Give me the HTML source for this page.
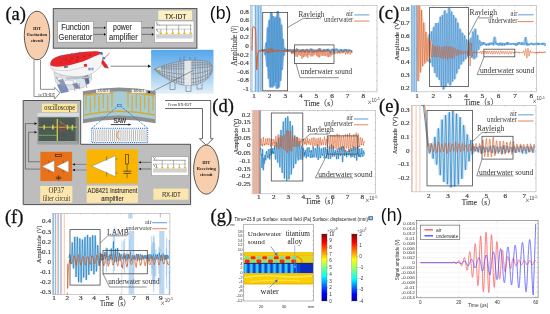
<!DOCTYPE html>
<html><head><meta charset="utf-8"><title>Figure</title><style>html,body{margin:0;padding:0;background:#fff;width:550px;height:314px;overflow:hidden}svg{display:block}</style></head><body>
<svg width="550" height="314" viewBox="0 0 550 314">
<rect x="0" y="0" width="550" height="314" fill="#ffffff" stroke="none" stroke-width="1" />
<text x="5.4" y="19.7" font-size="18.5" font-family="'Liberation Serif','Noto Serif CJK SC',serif" text-anchor="start" fill="#111" stroke="#111" stroke-width="0.3">(a)</text>
<ellipse cx="37" cy="35.5" rx="12.7" ry="24.3" fill="#f8cfae" stroke="#333" stroke-width="0.8"/>
<text x="37" y="30" font-size="4.6" font-family="'Liberation Serif','Noto Serif CJK SC',serif" text-anchor="middle" fill="#222" font-weight="bold">IDT</text>
<text x="37" y="36.1" font-size="4.6" font-family="'Liberation Serif','Noto Serif CJK SC',serif" text-anchor="middle" fill="#222" font-weight="bold">Excitation</text>
<text x="37" y="42" font-size="4.6" font-family="'Liberation Serif','Noto Serif CJK SC',serif" text-anchor="middle" fill="#222" font-weight="bold">circuit</text>
<rect x="53.3" y="8.6" width="143.6" height="39.6" fill="#bdbdbd" stroke="#505050" stroke-width="1.0" />
<rect x="57.5" y="21.3" width="36" height="20.9" fill="#ffffff" stroke="#8a8a8a" stroke-width="0.6" />
<text x="61.2" y="29.8" font-size="8.2" font-family="'Liberation Sans','Noto Sans CJK SC',sans-serif" fill="#333" text-anchor="start" textLength="28.5" lengthAdjust="spacingAndGlyphs"  stroke="#333" stroke-width="0.12">Function</text>
<text x="58.6" y="40.1" font-size="8.2" font-family="'Liberation Sans','Noto Sans CJK SC',sans-serif" fill="#333" text-anchor="start" textLength="33.7" lengthAdjust="spacingAndGlyphs"  stroke="#333" stroke-width="0.12">Generator</text>
<rect x="106.6" y="21.3" width="35.1" height="20.9" fill="#ffffff" stroke="#8a8a8a" stroke-width="0.6" />
<text x="113.1" y="29.8" font-size="8.2" font-family="'Liberation Sans','Noto Sans CJK SC',sans-serif" fill="#333" text-anchor="start" textLength="18.8" lengthAdjust="spacingAndGlyphs"  stroke="#333" stroke-width="0.12">power</text>
<text x="109" y="40.1" font-size="8.2" font-family="'Liberation Sans','Noto Sans CJK SC',sans-serif" fill="#333" text-anchor="start" textLength="28.7" lengthAdjust="spacingAndGlyphs"  stroke="#333" stroke-width="0.12">amplifier</text>
<line x1="93.5" y1="27.8" x2="105.1" y2="27.8" stroke="#7e7e7e" stroke-width="1.3" />
<polygon points="104,26.5 106,27.8 104,29.1" fill="#111"/>
<line x1="93.5" y1="34.4" x2="105.1" y2="34.4" stroke="#7e7e7e" stroke-width="1.3" />
<polygon points="104,33.1 106,34.4 104,35.7" fill="#111"/>
<line x1="141.7" y1="27.8" x2="153" y2="27.8" stroke="#7e7e7e" stroke-width="1.3" />
<polygon points="151.9,26.5 153.9,27.8 151.9,29.1" fill="#111"/>
<line x1="141.7" y1="34.4" x2="153" y2="34.4" stroke="#7e7e7e" stroke-width="1.3" />
<polygon points="151.9,33.1 153.9,34.4 151.9,35.7" fill="#111"/>
<rect x="158.3" y="10.5" width="33.8" height="9.3" fill="#fdefc4" stroke="none" stroke-width="1" />
<text x="164.7" y="18.8" font-size="8.1" font-family="'Liberation Sans','Noto Sans CJK SC',sans-serif" fill="#222" text-anchor="start" textLength="21.7" lengthAdjust="spacingAndGlyphs"  stroke="#222" stroke-width="0.12">TX-IDT</text>
<rect x="154.5" y="21" width="39.5" height="21.4" fill="#ffffff" stroke="#9a9a9a" stroke-width="0.6" />
<rect x="156" y="34.2" width="36.5" height="4.3" fill="#d2d2d2" stroke="none" stroke-width="1" />
<line x1="156" y1="25.1" x2="191.5" y2="25.1" stroke="#555" stroke-width="0.5" />
<line x1="156" y1="29.2" x2="191.5" y2="29.2" stroke="#888" stroke-width="0.4" />
<line x1="160.8" y1="29.2" x2="160.8" y2="33.4" stroke="#555" stroke-width="0.45" />
<ellipse cx="160.8" cy="33.4" rx="1.4" ry="0.8" fill="#f3bd00"/>
<line x1="166.6" y1="25.1" x2="166.6" y2="33.4" stroke="#555" stroke-width="0.45" />
<ellipse cx="166.6" cy="33.4" rx="1.4" ry="0.8" fill="#f3bd00"/>
<line x1="172.7" y1="29.2" x2="172.7" y2="33.4" stroke="#555" stroke-width="0.45" />
<ellipse cx="172.7" cy="33.4" rx="1.4" ry="0.8" fill="#f3bd00"/>
<line x1="178.7" y1="25.1" x2="178.7" y2="33.4" stroke="#555" stroke-width="0.45" />
<ellipse cx="178.7" cy="33.4" rx="1.4" ry="0.8" fill="#f3bd00"/>
<line x1="184.4" y1="29.2" x2="184.4" y2="33.4" stroke="#555" stroke-width="0.45" />
<ellipse cx="184.4" cy="33.4" rx="1.4" ry="0.8" fill="#f3bd00"/>
<line x1="190.6" y1="25.1" x2="190.6" y2="33.4" stroke="#555" stroke-width="0.45" />
<ellipse cx="190.6" cy="33.4" rx="1.4" ry="0.8" fill="#f3bd00"/>
<text x="156.1" y="24.6" font-size="3.4" font-family="'Liberation Serif','Noto Serif CJK SC',serif" text-anchor="start" fill="#333" >V₁</text>
<text x="156.1" y="32.1" font-size="3.4" font-family="'Liberation Serif','Noto Serif CJK SC',serif" text-anchor="start" fill="#333" >V₂</text>
<path d="M40.5,59.8 L40.5,89.3 L54.7,89.3 L54.7,87.3 L59.8,93 L54.7,98.8 L54.7,96.6 L34,96.6 L34,59.5" fill="none" stroke="#444" stroke-width="0.6"/>
<text x="38.6" y="95.6" font-size="3.8" font-family="'Liberation Serif','Noto Serif CJK SC',serif" fill="#333" text-anchor="start" textLength="16.5" lengthAdjust="spacingAndGlyphs" >to TX-IDT</text>
<path d="M54,72 L55.5,82 L60,88 L70,90 L84,87.5 L91.5,80 L91.5,72 L80,76.5 L62,75.5 Z" fill="#dfe2e8" stroke="#9ca4b2" stroke-width="0.4"/>
<path d="M57.5,85 L61,93 L68.5,91.5 L65,83.5 Z" fill="#7a90bc" stroke="#4f5f80" stroke-width="0.4"/>
<path d="M56,77 C59,82 64,85 71,84.5" fill="none" stroke="#a8b0bf" stroke-width="1.4"/>
<ellipse cx="69" cy="82.5" rx="4.5" ry="2.4" fill="#f4f5f7" stroke="#aab" stroke-width="0.4"/>
<ellipse cx="60" cy="79" rx="2.5" ry="2" fill="#f4f5f7" stroke="#aab" stroke-width="0.4"/>
<path d="M81.4,72.3 L87.8,72.3 L88.5,78.6 L82,78.6 Z" fill="#2c3a50"/>
<path d="M84.5,78.6 L86,84.5 L89.5,83.5 L88.6,77.5 Z" fill="#5a6e90"/>
<circle cx="83" cy="76" r="1.2" fill="#3a8fd0"/>
<path d="M58,80 L62,86 L66,86 L63,79 Z" fill="#8e9ab0"/>
<path d="M72,84 L76,89 L80,88 L77,83 Z" fill="#7d8aa3"/>
<path d="M66,77.5 L90,76 L90.5,78 L66.5,79.5 Z" fill="#b8c0cc"/>
<circle cx="75" cy="81" r="1.6" fill="#f8f8f8" stroke="#9aa" stroke-width="0.3"/>
<line x1="63" y1="83" x2="63.8" y2="89.5" stroke="#8e97a8" stroke-width="0.7" />
<line x1="74" y1="84.5" x2="74.8" y2="91" stroke="#8e97a8" stroke-width="0.7" />
<line x1="86" y1="81.5" x2="86.8" y2="88" stroke="#8e97a8" stroke-width="0.7" />
<line x1="79" y1="83" x2="79.8" y2="89.5" stroke="#8e97a8" stroke-width="0.7" />
<path d="M50.4,65 C50,59 56,56.5 64,55 C74,53 86,51.5 95,51.2 C100,51 103.5,54 103.2,59 C102.8,65 98,71 90,74.5 C82,77.5 70,77 62,75 C55,73 50.8,70 50.4,65 Z" fill="#f5f5f5" stroke="#a8a8a8" stroke-width="0.5"/>
<path d="M50.4,65 C50,59 56,56.5 64,55 C74,53 86,51.5 95,51.2 C98,51.1 100.5,51.8 102,53.5 C99,54.5 95,56 91,58 C86,60.5 80,62.5 74,64 C68,65.8 62,66.8 57,66.8 C53.5,66.6 51.5,66 50.4,65 Z" fill="#e8262a"/>
<path d="M52,68.5 C58,71.5 70,71.5 84,67" fill="none" stroke="#d0d0d0" stroke-width="0.8"/>
<rect x="84" y="64" width="3.0" height="2.8" fill="#e3262a" transform="rotate(-12 85.5 65.4)"/>
<text x="88.2" y="69.6" font-size="2.8" font-family="'Liberation Sans','Noto Sans CJK SC',sans-serif" fill="#3a6fc0" font-weight="bold">蛟龙</text>
<path d="M102.5,59.5 L106.5,64.5 L108.5,68.3 L104.5,67.5 L101.5,63 Z" fill="#e3262a" stroke="#a01818" stroke-width="0.3"/>
<circle cx="101.3" cy="53.2" r="1.5" fill="#3b78c4"/>
<circle cx="103.8" cy="58.3" r="1.2" fill="#3b78c4"/>
<circle cx="62" cy="56.2" r="0.9" fill="#3b78c4"/>
<circle cx="71.9" cy="54" r="0.9" fill="#3b78c4"/>
<circle cx="80" cy="52.6" r="0.9" fill="#3b78c4"/>
<line x1="104.5" y1="58" x2="109.5" y2="53.2" stroke="#c22" stroke-width="0.7"/>
<circle cx="66" cy="59.5" r="0.6" fill="#5a2020"/>
<circle cx="72" cy="58.3" r="0.6" fill="#5a2020"/>
<circle cx="78" cy="57.4" r="0.6" fill="#5a2020"/>
<circle cx="84" cy="56.3" r="0.6" fill="#5a2020"/>
<circle cx="90" cy="55.2" r="0.6" fill="#5a2020"/>
<circle cx="70" cy="61.5" r="0.6" fill="#5a2020"/>
<circle cx="77" cy="60.3" r="0.6" fill="#5a2020"/>
<ellipse cx="66" cy="66.8" rx="2.2" ry="1.2" fill="#777" transform="rotate(-10 66 66.8)"/>
<line x1="110.5" y1="66.2" x2="148.5" y2="66.2" stroke="#555" stroke-width="0.7" />
<polygon points="148,64.6 151,66.2 148,67.8" fill="#111"/>
<defs><linearGradient id="skyg" x1="0" y1="0" x2="0" y2="1"><stop offset="0" stop-color="#55a6ec"/><stop offset="0.5" stop-color="#95c8f0"/><stop offset="1" stop-color="#e6f1f8"/></linearGradient></defs>
<rect x="151.1" y="49.8" width="62.4" height="44" fill="url(#skyg)" stroke="none" stroke-width="1" />
<g fill="none" stroke="#7c7f87" stroke-width="0.7">
<polygon points="154.6,69.4 155.8,68.8 157,68.1 158.2,67.5 159.4,66.8 160.6,66.3 161.8,66 163,65.6 164.2,65.2 165.4,64.9 166.6,64.5 167.8,64.2 168.9,63.8 170.1,63.5 171.3,63.2 172.5,63 173.7,62.8 174.9,62.5 176.1,62.3 177.3,62 178.5,61.8 179.7,61.6 180.9,61.4 182.1,61.2 183.3,61.1 184.5,61 185.7,60.8 186.9,60.7 188.1,60.5 189.3,60.4 190.5,60.3 191.7,60.3 192.9,60.3 194.1,60.3 195.3,60.2 196.5,60.2 197.7,60.2 198.8,60.2 200,60.2 201.2,60.4 202.4,60.5 203.6,60.7 204.8,60.8 206,61 207.2,61.5 208.4,61.9 209.6,62.4 210.8,63.7 212,65.5 212,71 210.8,73.6 209.6,76.2 208.4,77.9 207.2,78.8 206,79.7 204.8,80.6 203.6,81.5 202.4,82.2 201.2,82.6 200,83 198.8,83.5 197.7,83.9 196.5,84.3 195.3,84.7 194.1,84.9 192.9,84.9 191.7,85 190.5,85.1 189.3,85.2 188.1,85.3 186.9,85.3 185.7,85.3 184.5,85.1 183.3,84.9 182.1,84.7 180.9,84.5 179.7,84.2 178.5,83.7 177.3,83.3 176.1,82.8 174.9,82.4 173.7,81.9 172.5,81.5 171.3,81 170.1,80.6 168.9,79.9 167.8,79.2 166.6,78.4 165.4,77.7 164.2,77 163,76.3 161.8,75.6 160.6,74.8 159.4,73.9 158.2,72.8 157,71.7 155.8,70.5 154.6,69.4" fill="#e4eaf0" fill-opacity="0.55" stroke="none"/>
<polyline points="154.6,69.4 155.8,68.8 157,68.1 158.2,67.5 159.4,66.8 160.6,66.3 161.8,66 163,65.6 164.2,65.2 165.4,64.9 166.6,64.5 167.8,64.2 168.9,63.8 170.1,63.5 171.3,63.2 172.5,63 173.7,62.8 174.9,62.5 176.1,62.3 177.3,62 178.5,61.8 179.7,61.6 180.9,61.4 182.1,61.2 183.3,61.1 184.5,61 185.7,60.8 186.9,60.7 188.1,60.5 189.3,60.4 190.5,60.3 191.7,60.3 192.9,60.3 194.1,60.3 195.3,60.2 196.5,60.2 197.7,60.2 198.8,60.2 200,60.2 201.2,60.4 202.4,60.5 203.6,60.7 204.8,60.8 206,61 207.2,61.5 208.4,61.9 209.6,62.4 210.8,63.7 212,65.5"/>
<polyline points="154.6,69.4 155.8,68.9 157,68.5 158.2,68 159.4,67.5 160.6,67.2 161.8,66.9 163,66.7 164.2,66.4 165.4,66.2 166.6,65.9 167.8,65.7 168.9,65.4 170.1,65.2 171.3,65 172.5,64.8 173.7,64.7 174.9,64.5 176.1,64.3 177.3,64.2 178.5,64 179.7,63.8 180.9,63.7 182.1,63.6 183.3,63.5 184.5,63.4 185.7,63.3 186.9,63.1 188.1,63 189.3,62.9 190.5,62.8 191.7,62.8 192.9,62.7 194.1,62.7 195.3,62.7 196.5,62.6 197.7,62.6 198.8,62.5 200,62.5 201.2,62.6 202.4,62.7 203.6,62.8 204.8,62.8 206,62.9 207.2,63.2 208.4,63.5 209.6,63.7 210.8,64.7 212,66"/>
<polyline points="154.6,69.4 155.8,69.1 157,68.8 158.2,68.5 159.4,68.2 160.6,68 161.8,67.9 163,67.7 164.2,67.6 165.4,67.5 166.6,67.3 167.8,67.2 168.9,67 170.1,66.9 171.3,66.8 172.5,66.7 173.7,66.6 174.9,66.5 176.1,66.4 177.3,66.3 178.5,66.2 179.7,66.1 180.9,66 182.1,65.9 183.3,65.9 184.5,65.8 185.7,65.7 186.9,65.6 188.1,65.5 189.3,65.3 190.5,65.3 191.7,65.2 192.9,65.2 194.1,65.2 195.3,65.1 196.5,65 197.7,65 198.8,64.9 200,64.8 201.2,64.8 202.4,64.9 203.6,64.9 204.8,64.8 206,64.8 207.2,64.9 208.4,65.1 209.6,65.1 210.8,65.7 212,66.6"/>
<polyline points="154.6,69.4 155.8,69.3 157,69.2 158.2,69.2 159.4,69.1 160.6,69.1 161.8,69 163,69 164.2,69 165.4,69 166.6,69 167.8,69 168.9,69 170.1,68.9 171.3,68.9 172.5,68.9 173.7,68.9 174.9,68.9 176.1,68.9 177.3,68.8 178.5,68.8 179.7,68.8 180.9,68.8 182.1,68.7 183.3,68.7 184.5,68.7 185.7,68.7 186.9,68.6 188.1,68.4 189.3,68.3 190.5,68.2 191.7,68.2 192.9,68.2 194.1,68.1 195.3,68.1 196.5,67.9 197.7,67.8 198.8,67.6 200,67.5 201.2,67.5 202.4,67.5 203.6,67.4 204.8,67.2 206,67 207.2,67 208.4,67 209.6,66.8 210.8,66.9 212,67.3"/>
<polyline points="154.6,69.4 155.8,69.7 157,70.1 158.2,70.4 159.4,70.7 160.6,71 161.8,71.2 163,71.5 164.2,71.7 165.4,71.9 166.6,72.2 167.8,72.4 168.9,72.6 170.1,72.9 171.3,73 172.5,73.2 173.7,73.3 174.9,73.4 176.1,73.6 177.3,73.7 178.5,73.9 179.7,74 180.9,74.1 182.1,74.1 183.3,74.2 184.5,74.3 185.7,74.3 186.9,74.2 188.1,74.1 189.3,74 190.5,73.9 191.7,73.9 192.9,73.8 194.1,73.8 195.3,73.7 196.5,73.5 197.7,73.2 198.8,73 200,72.8 201.2,72.6 202.4,72.4 203.6,72.1 204.8,71.7 206,71.3 207.2,71 208.4,70.7 209.6,70 210.8,69.1 212,68.5"/>
<polyline points="154.6,69.4 155.8,70.1 157,70.8 158.2,71.5 159.4,72.1 160.6,72.7 161.8,73.2 163,73.6 164.2,74.1 165.4,74.5 166.6,75 167.8,75.4 168.9,75.9 170.1,76.3 171.3,76.6 172.5,76.8 173.7,77.1 174.9,77.4 176.1,77.7 177.3,78 178.5,78.3 179.7,78.5 180.9,78.7 182.1,78.8 183.3,79 184.5,79.1 185.7,79.2 186.9,79.2 188.1,79.1 189.3,79 190.5,78.9 191.7,78.8 192.9,78.8 194.1,78.7 195.3,78.6 196.5,78.3 197.7,78 198.8,77.6 200,77.3 201.2,77.1 202.4,76.8 203.6,76.3 204.8,75.7 206,75.1 207.2,74.5 208.4,73.9 209.6,72.7 210.8,71.1 212,69.6"/>
<polyline points="154.6,69.4 155.8,70.4 157,71.3 158.2,72.3 159.4,73.2 160.6,74 161.8,74.6 163,75.2 164.2,75.8 165.4,76.4 166.6,77 167.8,77.7 168.9,78.3 170.1,78.8 171.3,79.2 172.5,79.6 173.7,80 174.9,80.4 176.1,80.8 177.3,81.2 178.5,81.5 179.7,81.9 180.9,82.2 182.1,82.3 183.3,82.5 184.5,82.7 185.7,82.9 186.9,82.9 188.1,82.8 189.3,82.7 190.5,82.6 191.7,82.5 192.9,82.5 194.1,82.4 195.3,82.3 196.5,81.9 197.7,81.5 198.8,81.1 200,80.8 201.2,80.4 202.4,80 203.6,79.4 204.8,78.7 206,77.9 207.2,77.1 208.4,76.3 209.6,74.8 210.8,72.6 212,70.5"/>
<polyline points="154.6,69.4 155.8,70.5 157,71.7 158.2,72.8 159.4,73.9 160.6,74.8 161.8,75.6 163,76.3 164.2,77 165.4,77.7 166.6,78.4 167.8,79.2 168.9,79.9 170.1,80.6 171.3,81 172.5,81.5 173.7,81.9 174.9,82.4 176.1,82.8 177.3,83.3 178.5,83.7 179.7,84.2 180.9,84.5 182.1,84.7 183.3,84.9 184.5,85.1 185.7,85.3 186.9,85.3 188.1,85.3 189.3,85.2 190.5,85.1 191.7,85 192.9,84.9 194.1,84.9 195.3,84.7 196.5,84.3 197.7,83.9 198.8,83.5 200,83 201.2,82.6 202.4,82.2 203.6,81.5 204.8,80.6 206,79.7 207.2,78.8 208.4,77.9 209.6,76.2 210.8,73.6 212,71"/>
<line x1="212" y1="65.5" x2="212" y2="71"/>
<line x1="157" y1="68.1" x2="157.5" y2="72.1"/>
<line x1="159.4" y1="66.8" x2="159.9" y2="74.4"/>
<line x1="161.8" y1="66" x2="162.3" y2="75.9"/>
<line x1="164.2" y1="65.2" x2="164.7" y2="77.3"/>
<line x1="166.6" y1="64.5" x2="167.1" y2="78.7"/>
<line x1="168.9" y1="63.8" x2="169.4" y2="80.2"/>
<line x1="171.3" y1="63.2" x2="171.8" y2="81.2"/>
<line x1="173.7" y1="62.8" x2="174.2" y2="82.1"/>
<line x1="176.1" y1="62.3" x2="176.6" y2="83"/>
<line x1="178.5" y1="61.8" x2="179" y2="83.9"/>
<line x1="180.9" y1="61.4" x2="181.4" y2="84.6"/>
<line x1="183.3" y1="61.1" x2="183.8" y2="85"/>
<line x1="185.7" y1="60.8" x2="186.2" y2="85.4"/>
<line x1="188.1" y1="60.5" x2="188.6" y2="85.2"/>
<line x1="190.5" y1="60.3" x2="191" y2="85.1"/>
<line x1="192.9" y1="60.3" x2="193.4" y2="84.9"/>
<line x1="195.3" y1="60.2" x2="195.8" y2="84.5"/>
<line x1="197.7" y1="60.2" x2="198.2" y2="83.7"/>
<line x1="200" y1="60.2" x2="200.5" y2="82.9"/>
<line x1="202.4" y1="60.5" x2="202.9" y2="82"/>
<line x1="204.8" y1="60.8" x2="205.3" y2="80.3"/>
<line x1="207.2" y1="61.5" x2="207.7" y2="78.5"/>
<line x1="209.6" y1="62.4" x2="210.1" y2="75.1"/>
<line x1="155.8" y1="70.3" x2="158.3" y2="70.9" stroke="#a3a6ad" stroke-width="0.5"/>
<line x1="160.6" y1="67.8" x2="163.1" y2="74.3" stroke="#a3a6ad" stroke-width="0.5"/>
<line x1="165.4" y1="66.4" x2="167.9" y2="77.2" stroke="#a3a6ad" stroke-width="0.5"/>
<line x1="170.1" y1="65" x2="172.6" y2="79.5" stroke="#a3a6ad" stroke-width="0.5"/>
<line x1="174.9" y1="64" x2="177.4" y2="81.3" stroke="#a3a6ad" stroke-width="0.5"/>
<line x1="179.7" y1="63.1" x2="182.2" y2="82.7" stroke="#a3a6ad" stroke-width="0.5"/>
<line x1="184.5" y1="62.5" x2="187" y2="83.3" stroke="#a3a6ad" stroke-width="0.5"/>
<line x1="189.3" y1="61.9" x2="191.8" y2="83" stroke="#a3a6ad" stroke-width="0.5"/>
<line x1="194.1" y1="61.8" x2="196.6" y2="82.3" stroke="#a3a6ad" stroke-width="0.5"/>
<line x1="198.8" y1="61.7" x2="201.3" y2="80.6" stroke="#a3a6ad" stroke-width="0.5"/>
<line x1="203.6" y1="62.2" x2="206.1" y2="77.7" stroke="#a3a6ad" stroke-width="0.5"/>
<line x1="208.4" y1="63.4" x2="210.9" y2="71.4" stroke="#a3a6ad" stroke-width="0.5"/>
<path d="M170,82 L170,89.5 L175,89.5 L175,83 M186,85 L186,91.5 L191,91.5 L191,85 M197,84 L197,89 L202,89 L202,83.5"/>
<path d="M180,61.5 L180,57.5 M184,60.8 L184,56.5 M190,60.3 L190,57 M195,60.2 L195,57.5" stroke-width="1"/>
</g>
<path d="M184.6,61 L190.9,60.5 L190.9,85.2 L184.6,85.6 Z" fill="#ececec" opacity="0.9"/>
<path d="M155.5,69.3 L160.5,66.8 L161.5,70.8 Z" fill="#c8e4b0" opacity="0.9"/>
<line x1="151.5" y1="92" x2="193.2" y2="70.4" stroke="#444" stroke-width="0.5" />
<path d="M165,100.5 L210.7,100.5 L210.7,138.7 L213.2,138.7 L206.3,145.3 L199.4,138.7 L202.5,138.7 L202.5,108.5 L165,108.5" fill="#fff" stroke="#444" stroke-width="0.8"/>
<text x="168.1" y="106.4" font-size="3.7" font-family="'Liberation Serif','Noto Serif CJK SC',serif" fill="#333" text-anchor="start" textLength="23.5" lengthAdjust="spacingAndGlyphs" >From RX-IDT</text>
<ellipse cx="206.3" cy="169.6" rx="12.7" ry="24.6" fill="#f8cfae" stroke="#333" stroke-width="0.8"/>
<text x="206.3" y="164.2" font-size="4.6" font-family="'Liberation Serif','Noto Serif CJK SC',serif" text-anchor="middle" fill="#222" font-weight="bold">IDT</text>
<text x="206.3" y="170.3" font-size="4.6" font-family="'Liberation Serif','Noto Serif CJK SC',serif" text-anchor="middle" fill="#222" font-weight="bold">Receiving</text>
<text x="206.3" y="176.2" font-size="4.6" font-family="'Liberation Serif','Noto Serif CJK SC',serif" text-anchor="middle" fill="#222" font-weight="bold">circuit</text>
<path d="M23.2,100.5 L80.7,100.5 L80.7,144.3 L190.6,144.3 L190.6,204.6 L23.2,204.6 Z" fill="#bdbdbd" stroke="#505050" stroke-width="1.0"/>
<rect x="42" y="103.7" width="35" height="8.4" fill="#fde79c" stroke="none" stroke-width="1" />
<text x="44.3" y="110.4" font-size="7.2" font-family="'Liberation Serif','Noto Serif CJK SC',serif" fill="#222" text-anchor="start" textLength="30.6" lengthAdjust="spacingAndGlyphs" >oscilloscope</text>
<rect x="37.5" y="113" width="41.4" height="4" fill="#d9dddb" stroke="none" stroke-width="1" />
<rect x="37.5" y="116.8" width="41.4" height="27.6" fill="#8c9592" stroke="none" stroke-width="1" />
<rect x="38.6" y="117.6" width="38.6" height="23.4" fill="#4d5854" stroke="none" stroke-width="1" />
<line x1="40" y1="117.6" x2="40" y2="141" stroke="#5d6864" stroke-width="0.3" />
<line x1="47" y1="117.6" x2="47" y2="141" stroke="#5d6864" stroke-width="0.3" />
<line x1="54" y1="117.6" x2="54" y2="141" stroke="#5d6864" stroke-width="0.3" />
<line x1="61" y1="117.6" x2="61" y2="141" stroke="#5d6864" stroke-width="0.3" />
<line x1="68" y1="117.6" x2="68" y2="141" stroke="#5d6864" stroke-width="0.3" />
<line x1="75" y1="117.6" x2="75" y2="141" stroke="#5d6864" stroke-width="0.3" />
<line x1="38.6" y1="120" x2="77.2" y2="120" stroke="#5d6864" stroke-width="0.3" />
<line x1="38.6" y1="126" x2="77.2" y2="126" stroke="#5d6864" stroke-width="0.3" />
<line x1="38.6" y1="132" x2="77.2" y2="132" stroke="#5d6864" stroke-width="0.3" />
<line x1="38.6" y1="138" x2="77.2" y2="138" stroke="#5d6864" stroke-width="0.3" />
<rect x="38.6" y="141" width="38.6" height="3" fill="#9aa39f" stroke="none" stroke-width="1" />
<rect x="75.5" y="117.6" width="3.2" height="23.4" fill="#7d8783" stroke="none" stroke-width="1" />
<line x1="38.6" y1="127.2" x2="77.2" y2="127.2" stroke="#d8d24a" stroke-width="0.8" />
<ellipse cx="44.2" cy="127.2" rx="0.9" ry="2.6" fill="#d8d24a"/>
<ellipse cx="52.9" cy="127.2" rx="0.9" ry="2.6" fill="#d8d24a"/>
<ellipse cx="67.5" cy="127.2" rx="0.9" ry="2.6" fill="#d8d24a"/>
<ellipse cx="72.4" cy="127.2" rx="0.9" ry="2.6" fill="#d8d24a"/>
<rect x="56.6" y="119" width="1.4" height="22" fill="#c8c44a" stroke="none" stroke-width="1" />
<line x1="38.6" y1="135.3" x2="57" y2="135.3" stroke="#6bd045" stroke-width="0.8" />
<line x1="59.4" y1="121.2" x2="74" y2="131" stroke="#5fd855" stroke-width="0.7" />
<circle cx="62.1" cy="127.2" r="3.4" fill="none" stroke="#e03030" stroke-width="0.9"/>
<polyline points="40.4,169.1 25.4,169.1 25.4,123.6 35,123.6" fill="none" stroke="#444" stroke-width="0.6"/>
<polyline points="40.4,161.8 28.6,161.8 28.6,132.2 35,132.2" fill="none" stroke="#444" stroke-width="0.6"/>
<polygon points="34.5,122.3 37.2,123.6 34.5,124.9" fill="#111"/>
<polygon points="34.5,130.9 37.2,132.2 34.5,133.5" fill="#111"/>
<rect x="40.4" y="151.8" width="31.7" height="29.3" fill="#e8711a" stroke="none" stroke-width="1" />
<polygon points="41.9,166.5 54.4,160.6 54.4,172.4" fill="#fff" stroke="#666" stroke-width="0.35"/>
<line x1="48.8" y1="160.5" x2="48.8" y2="163" stroke="#333" stroke-width="0.35" />
<line x1="48.8" y1="170" x2="48.8" y2="172.5" stroke="#333" stroke-width="0.35" />
<polygon points="56.3,166.5 68.7,160.6 68.7,172.4" fill="#fff" stroke="#666" stroke-width="0.35"/>
<line x1="63.1" y1="160.5" x2="63.1" y2="163" stroke="#333" stroke-width="0.35" />
<line x1="63.1" y1="170" x2="63.1" y2="172.5" stroke="#333" stroke-width="0.35" />
<rect x="55.3" y="154.3" width="6.3" height="2" fill="#e8711a" stroke="#222" stroke-width="0.6" />
<line x1="58.5" y1="175.3" x2="58.5" y2="180.5" stroke="#222" stroke-width="0.5" />
<line x1="55.8" y1="177.2" x2="61.2" y2="177.2" stroke="#222" stroke-width="0.6" />
<line x1="55.8" y1="178.6" x2="61.2" y2="178.6" stroke="#222" stroke-width="0.6" />
<rect x="40.2" y="186" width="32.2" height="16.7" fill="#fde6ae" stroke="none" stroke-width="1" />
<text x="48.5" y="193.3" font-size="7.6" font-family="'Liberation Serif','Noto Serif CJK SC',serif" fill="#333" text-anchor="start" textLength="15.8" lengthAdjust="spacingAndGlyphs" >OP37</text>
<text x="42.6" y="201" font-size="7.2" font-family="'Liberation Serif','Noto Serif CJK SC',serif" fill="#333" text-anchor="start" textLength="27.4" lengthAdjust="spacingAndGlyphs" >filter circuit</text>
<line x1="74" y1="164.4" x2="86.7" y2="164.4" stroke="#8a8a8a" stroke-width="1.1" />
<polygon points="75,163.20000000000002 72.2,164.4 75,165.6" fill="#111"/>
<line x1="74" y1="170" x2="86.7" y2="170" stroke="#8a8a8a" stroke-width="1.1" />
<polygon points="75,168.8 72.2,170.0 75,171.2" fill="#111"/>
<rect x="86.7" y="149.4" width="51.2" height="34" fill="#f9b500" stroke="none" stroke-width="1" />
<polygon points="91.6,166.2 115.6,155.6 115.6,176.7" fill="#fff" stroke="#555" stroke-width="0.35"/>
<line x1="106.7" y1="156" x2="106.7" y2="161" stroke="#333" stroke-width="0.4" />
<line x1="106.7" y1="171.5" x2="106.7" y2="176.5" stroke="#333" stroke-width="0.4" />
<line x1="115.6" y1="159" x2="117.5" y2="159" stroke="#333" stroke-width="0.4" />
<line x1="115.6" y1="173" x2="117.5" y2="173" stroke="#333" stroke-width="0.4" />
<rect x="125.7" y="154.5" width="2.8" height="9.5" fill="#f9b500" stroke="#222" stroke-width="0.6" />
<line x1="127.1" y1="164" x2="127.1" y2="171.2" stroke="#222" stroke-width="0.5" />
<line x1="127.1" y1="173.4" x2="127.1" y2="178" stroke="#222" stroke-width="0.5" />
<line x1="123.4" y1="171.2" x2="131.2" y2="171.2" stroke="#222" stroke-width="0.7" />
<line x1="123.4" y1="173.4" x2="131.2" y2="173.4" stroke="#222" stroke-width="0.7" />
<rect x="86.7" y="185.7" width="51.2" height="17.1" fill="#fde6ae" stroke="none" stroke-width="1" />
<text x="87.5" y="193.3" font-size="7.8" font-family="'Liberation Sans','Noto Sans CJK SC',sans-serif" fill="#333" text-anchor="start" textLength="49.8" lengthAdjust="spacingAndGlyphs"  stroke="#333" stroke-width="0.12">AD8421 instrument</text>
<text x="101.2" y="201.3" font-size="7.8" font-family="'Liberation Sans','Noto Sans CJK SC',sans-serif" fill="#333" text-anchor="start" textLength="22.5" lengthAdjust="spacingAndGlyphs"  stroke="#333" stroke-width="0.12">amplifier</text>
<line x1="140.5" y1="162.3" x2="151.6" y2="162.3" stroke="#444" stroke-width="0.6" />
<polygon points="141,161.20000000000002 138.4,162.3 141,163.4" fill="#111"/>
<line x1="140.5" y1="169" x2="151.6" y2="169" stroke="#444" stroke-width="0.6" />
<polygon points="141,167.9 138.4,169.0 141,170.1" fill="#111"/>
<rect x="151.6" y="156.7" width="36.8" height="19" fill="#ffffff" stroke="#9a9a9a" stroke-width="0.6" />
<rect x="153.1" y="168.4" width="33.8" height="4.1" fill="#d2d2d2" stroke="none" stroke-width="1" />
<line x1="153.1" y1="160.3" x2="185.9" y2="160.3" stroke="#555" stroke-width="0.5" />
<line x1="153.1" y1="164" x2="185.9" y2="164" stroke="#888" stroke-width="0.4" />
<line x1="156.5" y1="164" x2="156.5" y2="167.8" stroke="#555" stroke-width="0.45" />
<ellipse cx="156.5" cy="167.8" rx="1.4" ry="0.8" fill="#f3bd00"/>
<line x1="162.2" y1="160.3" x2="162.2" y2="167.8" stroke="#555" stroke-width="0.45" />
<ellipse cx="162.2" cy="167.8" rx="1.4" ry="0.8" fill="#f3bd00"/>
<line x1="167.9" y1="164" x2="167.9" y2="167.8" stroke="#555" stroke-width="0.45" />
<ellipse cx="167.9" cy="167.8" rx="1.4" ry="0.8" fill="#f3bd00"/>
<line x1="173.6" y1="160.3" x2="173.6" y2="167.8" stroke="#555" stroke-width="0.45" />
<ellipse cx="173.6" cy="167.8" rx="1.4" ry="0.8" fill="#f3bd00"/>
<line x1="179.3" y1="164" x2="179.3" y2="167.8" stroke="#555" stroke-width="0.45" />
<ellipse cx="179.3" cy="167.8" rx="1.4" ry="0.8" fill="#f3bd00"/>
<line x1="185" y1="160.3" x2="185" y2="167.8" stroke="#555" stroke-width="0.45" />
<ellipse cx="185" cy="167.8" rx="1.4" ry="0.8" fill="#f3bd00"/>
<text x="153.2" y="159.8" font-size="3.4" font-family="'Liberation Serif','Noto Serif CJK SC',serif" text-anchor="start" fill="#333" >V₁</text>
<text x="153.2" y="166.9" font-size="3.4" font-family="'Liberation Serif','Noto Serif CJK SC',serif" text-anchor="start" fill="#333" >V₂</text>
<rect x="153.4" y="188.6" width="35" height="11.1" fill="#fde6ae" stroke="none" stroke-width="1" />
<text x="162.2" y="197.2" font-size="7.8" font-family="'Liberation Sans','Noto Sans CJK SC',sans-serif" fill="#333" text-anchor="start" textLength="18.5" lengthAdjust="spacingAndGlyphs"  stroke="#333" stroke-width="0.12">RX-IDT</text>
<path d="M82.9,91.3 Q119.3,83.9 155.6,91.3 L155.6,123.3 Q119.3,115.9 82.9,123.3 Z" fill="#8e8e8e"/>
<path d="M83.6,95.0 Q119.3,87.6 155.0,95.0 L155.0,119.2 Q119.3,111.8 83.6,119.2 Z" fill="#a7ccd4"/>
<path d="M83.6,114.2 Q119.3,106.8 155.0,114.2 L155.0,115.8 Q119.3,108.4 83.6,115.8 Z" fill="#d8a834"/>
<polygon points="84.5,95 86.9,94.5 89.3,94.1 91.8,93.7 94.2,93.4 96.6,93 99,92.8 101.4,92.5 103.8,92.3 106.2,92.1 108.7,91.9 111.1,91.8 113.5,91.7 113.5,93.3 111.1,93.4 108.7,93.5 106.2,93.7 103.8,93.9 101.4,94.1 99,94.4 96.6,94.6 94.2,95 91.8,95.3 89.3,95.7 86.9,96.1 84.5,96.6" fill="#d8a834"/>
<rect x="85.4" y="94.7" width="1.2" height="15.7" fill="#d6ab3c"/>
<rect x="89.7" y="97.1" width="1.2" height="15.7" fill="#d6ab3c"/>
<rect x="94.1" y="93.3" width="1.2" height="15.7" fill="#d6ab3c"/>
<rect x="98.4" y="96" width="1.2" height="15.7" fill="#d6ab3c"/>
<rect x="102.7" y="92.3" width="1.2" height="15.7" fill="#d6ab3c"/>
<rect x="107.1" y="95.2" width="1.2" height="15.7" fill="#d6ab3c"/>
<rect x="111.4" y="91.7" width="1.2" height="15.7" fill="#d6ab3c"/>
<polygon points="126.5,91.7 128.8,91.9 131.2,92 133.5,92.2 135.8,92.4 138.2,92.6 140.5,92.9 142.8,93.2 145.2,93.5 147.5,93.8 149.8,94.2 152.2,94.6 154.5,95.1 154.5,96.7 152.2,96.2 149.8,95.8 147.5,95.4 145.2,95.1 142.8,94.8 140.5,94.5 138.2,94.2 135.8,94 133.5,93.8 131.2,93.6 128.8,93.5 126.5,93.3" fill="#d8a834"/>
<rect x="127.4" y="91.8" width="1.2" height="15.7" fill="#d6ab3c"/>
<rect x="131.6" y="95.3" width="1.2" height="15.7" fill="#d6ab3c"/>
<rect x="135.7" y="92.4" width="1.2" height="15.7" fill="#d6ab3c"/>
<rect x="139.9" y="96.1" width="1.2" height="15.7" fill="#d6ab3c"/>
<rect x="144.1" y="93.4" width="1.2" height="15.7" fill="#d6ab3c"/>
<rect x="148.2" y="97.2" width="1.2" height="15.7" fill="#d6ab3c"/>
<rect x="152.4" y="94.8" width="1.2" height="15.7" fill="#d6ab3c"/>
<rect x="96" y="89.5" width="13.8" height="3.6" fill="#e6e6e6" stroke="none" stroke-width="1" />
<text x="102.9" y="92.3" font-size="3.1" font-family="'Liberation Serif','Noto Serif CJK SC',serif" text-anchor="middle" fill="#333" >TX-IDT</text>
<rect x="131.6" y="89.5" width="14.6" height="3.6" fill="#e6e6e6" stroke="none" stroke-width="1" />
<text x="138.9" y="92.3" font-size="3.1" font-family="'Liberation Serif','Noto Serif CJK SC',serif" text-anchor="middle" fill="#333" >RX-IDT</text>
<rect x="148.3" y="91.2" width="1.8" height="1.8" fill="#111" stroke="none" stroke-width="1" />
<text x="113.4" y="123" font-size="6.6" font-family="'Liberation Sans','Noto Sans CJK SC',sans-serif" fill="#222" text-anchor="start" textLength="12.7" lengthAdjust="spacingAndGlyphs"  stroke="#222" stroke-width="0.12">SAW</text>
<line x1="110.8" y1="124.6" x2="129" y2="124.6" stroke="#111" stroke-width="0.8" />
<polygon points="128.5,123.4 131.2,124.6 128.5,125.8" fill="#111"/>
<rect x="117.5" y="104.5" width="3.6" height="2.0" fill="none" stroke="#1f6fd8" stroke-width="0.6"/>
<rect x="92.4" y="128.3" width="55.3" height="14.2" fill="#ffffff" stroke="none" stroke-width="1" />
<line x1="93.6" y1="129.3" x2="93.6" y2="141.5" stroke="#b0b0b0" stroke-width="0.9" />
<line x1="95.7" y1="129.3" x2="95.7" y2="141.5" stroke="#b0b0b0" stroke-width="0.9" />
<line x1="97.8" y1="129.3" x2="97.8" y2="141.5" stroke="#b0b0b0" stroke-width="0.9" />
<line x1="99.9" y1="129.3" x2="99.9" y2="141.5" stroke="#b0b0b0" stroke-width="0.9" />
<line x1="102" y1="129.3" x2="102" y2="141.5" stroke="#b0b0b0" stroke-width="0.9" />
<line x1="104.1" y1="129.3" x2="104.1" y2="141.5" stroke="#b0b0b0" stroke-width="0.9" />
<line x1="106.2" y1="129.3" x2="106.2" y2="141.5" stroke="#b0b0b0" stroke-width="0.9" />
<line x1="108.3" y1="129.3" x2="108.3" y2="141.5" stroke="#b0b0b0" stroke-width="0.9" />
<line x1="110.4" y1="129.3" x2="110.4" y2="141.5" stroke="#b0b0b0" stroke-width="0.9" />
<line x1="112.5" y1="129.3" x2="112.5" y2="141.5" stroke="#b0b0b0" stroke-width="0.9" />
<line x1="114.6" y1="129.3" x2="114.6" y2="141.5" stroke="#b0b0b0" stroke-width="0.9" />
<line x1="116.7" y1="129.3" x2="116.7" y2="141.5" stroke="#b0b0b0" stroke-width="0.9" />
<line x1="118.8" y1="129.3" x2="118.8" y2="141.5" stroke="#b0b0b0" stroke-width="0.9" />
<line x1="120.9" y1="129.3" x2="120.9" y2="141.5" stroke="#b0b0b0" stroke-width="0.9" />
<line x1="123" y1="129.3" x2="123" y2="141.5" stroke="#b0b0b0" stroke-width="0.9" />
<line x1="125.1" y1="129.3" x2="125.1" y2="141.5" stroke="#b0b0b0" stroke-width="0.9" />
<line x1="127.2" y1="129.3" x2="127.2" y2="141.5" stroke="#b0b0b0" stroke-width="0.9" />
<line x1="129.3" y1="129.3" x2="129.3" y2="141.5" stroke="#b0b0b0" stroke-width="0.9" />
<line x1="131.4" y1="129.3" x2="131.4" y2="141.5" stroke="#b0b0b0" stroke-width="0.9" />
<line x1="133.5" y1="129.3" x2="133.5" y2="141.5" stroke="#b0b0b0" stroke-width="0.9" />
<line x1="135.6" y1="129.3" x2="135.6" y2="141.5" stroke="#b0b0b0" stroke-width="0.9" />
<line x1="137.7" y1="129.3" x2="137.7" y2="141.5" stroke="#b0b0b0" stroke-width="0.9" />
<line x1="139.8" y1="129.3" x2="139.8" y2="141.5" stroke="#b0b0b0" stroke-width="0.9" />
<line x1="141.9" y1="129.3" x2="141.9" y2="141.5" stroke="#b0b0b0" stroke-width="0.9" />
<line x1="144" y1="129.3" x2="144" y2="141.5" stroke="#b0b0b0" stroke-width="0.9" />
<line x1="146.1" y1="129.3" x2="146.1" y2="141.5" stroke="#b0b0b0" stroke-width="0.9" />
<path d="M119.5,131 C116,131.5 116,138.5 119.5,139" fill="none" stroke="#f07a1a" stroke-width="0.9"/>
<polyline points="117.5,106.5 91.7,128.3 91.7,142.5 147.7,142.5 147.7,128.3 121.1,106.5" fill="none" stroke="#1f6fd8" stroke-width="1.0" stroke-dasharray="1.1,1.0"/>
<line x1="91.7" y1="128.3" x2="147.7" y2="128.3" stroke="#1f6fd8" stroke-width="1.0" stroke-dasharray="1.1,1.0"/>
<text x="209.8" y="19.4" font-size="17.6" font-family="'Liberation Sans','Noto Sans CJK SC',sans-serif" text-anchor="start" fill="#111" >(b)</text>
<rect x="250.5" y="5.3" width="126.5" height="86.5" fill="none" stroke="#b8b8b8" stroke-width="0.7" />
<text transform="translate(248.9,13.6) scale(1.12,1)" font-size="6.4" font-family="'Liberation Serif','Noto Serif CJK SC',serif" text-anchor="end" fill="#3a3a3a" stroke="#3a3a3a" stroke-width="0.18">0.8</text>
<line x1="250.5" y1="12" x2="251.7" y2="12" stroke="#999" stroke-width="0.4" />
<line x1="377" y1="12" x2="375.8" y2="12" stroke="#999" stroke-width="0.4" />
<text transform="translate(248.9,22.2) scale(1.12,1)" font-size="6.4" font-family="'Liberation Serif','Noto Serif CJK SC',serif" text-anchor="end" fill="#3a3a3a" stroke="#3a3a3a" stroke-width="0.18">0.6</text>
<line x1="250.5" y1="20.6" x2="251.7" y2="20.6" stroke="#999" stroke-width="0.4" />
<line x1="377" y1="20.6" x2="375.8" y2="20.6" stroke="#999" stroke-width="0.4" />
<text transform="translate(248.9,30.8) scale(1.12,1)" font-size="6.4" font-family="'Liberation Serif','Noto Serif CJK SC',serif" text-anchor="end" fill="#3a3a3a" stroke="#3a3a3a" stroke-width="0.18">0.4</text>
<line x1="250.5" y1="29.1" x2="251.7" y2="29.1" stroke="#999" stroke-width="0.4" />
<line x1="377" y1="29.1" x2="375.8" y2="29.1" stroke="#999" stroke-width="0.4" />
<text transform="translate(248.9,39.3) scale(1.12,1)" font-size="6.4" font-family="'Liberation Serif','Noto Serif CJK SC',serif" text-anchor="end" fill="#3a3a3a" stroke="#3a3a3a" stroke-width="0.18">0.2</text>
<line x1="250.5" y1="37.7" x2="251.7" y2="37.7" stroke="#999" stroke-width="0.4" />
<line x1="377" y1="37.7" x2="375.8" y2="37.7" stroke="#999" stroke-width="0.4" />
<text transform="translate(248.9,47.9) scale(1.12,1)" font-size="6.4" font-family="'Liberation Serif','Noto Serif CJK SC',serif" text-anchor="end" fill="#3a3a3a" stroke="#3a3a3a" stroke-width="0.18">0</text>
<line x1="250.5" y1="46.3" x2="251.7" y2="46.3" stroke="#999" stroke-width="0.4" />
<line x1="377" y1="46.3" x2="375.8" y2="46.3" stroke="#999" stroke-width="0.4" />
<text transform="translate(248.9,56.5) scale(1.12,1)" font-size="6.4" font-family="'Liberation Serif','Noto Serif CJK SC',serif" text-anchor="end" fill="#3a3a3a" stroke="#3a3a3a" stroke-width="0.18">-0.2</text>
<line x1="250.5" y1="54.9" x2="251.7" y2="54.9" stroke="#999" stroke-width="0.4" />
<line x1="377" y1="54.9" x2="375.8" y2="54.9" stroke="#999" stroke-width="0.4" />
<text transform="translate(248.9,65.1) scale(1.12,1)" font-size="6.4" font-family="'Liberation Serif','Noto Serif CJK SC',serif" text-anchor="end" fill="#3a3a3a" stroke="#3a3a3a" stroke-width="0.18">-0.4</text>
<line x1="250.5" y1="63.5" x2="251.7" y2="63.5" stroke="#999" stroke-width="0.4" />
<line x1="377" y1="63.5" x2="375.8" y2="63.5" stroke="#999" stroke-width="0.4" />
<text transform="translate(248.9,73.7) scale(1.12,1)" font-size="6.4" font-family="'Liberation Serif','Noto Serif CJK SC',serif" text-anchor="end" fill="#3a3a3a" stroke="#3a3a3a" stroke-width="0.18">-0.6</text>
<line x1="250.5" y1="72" x2="251.7" y2="72" stroke="#999" stroke-width="0.4" />
<line x1="377" y1="72" x2="375.8" y2="72" stroke="#999" stroke-width="0.4" />
<text transform="translate(248.9,82.2) scale(1.12,1)" font-size="6.4" font-family="'Liberation Serif','Noto Serif CJK SC',serif" text-anchor="end" fill="#3a3a3a" stroke="#3a3a3a" stroke-width="0.18">-0.8</text>
<line x1="250.5" y1="80.6" x2="251.7" y2="80.6" stroke="#999" stroke-width="0.4" />
<line x1="377" y1="80.6" x2="375.8" y2="80.6" stroke="#999" stroke-width="0.4" />
<text transform="translate(248.9,90.8) scale(1.12,1)" font-size="6.4" font-family="'Liberation Serif','Noto Serif CJK SC',serif" text-anchor="end" fill="#3a3a3a" stroke="#3a3a3a" stroke-width="0.18">-1</text>
<line x1="250.5" y1="89.2" x2="251.7" y2="89.2" stroke="#999" stroke-width="0.4" />
<line x1="377" y1="89.2" x2="375.8" y2="89.2" stroke="#999" stroke-width="0.4" />
<text transform="translate(254,98.1) scale(1.12,1)" font-size="6.4" font-family="'Liberation Serif','Noto Serif CJK SC',serif" text-anchor="middle" fill="#3a3a3a" stroke="#3a3a3a" stroke-width="0.18">1</text>
<line x1="254" y1="91.8" x2="254" y2="90.6" stroke="#999" stroke-width="0.4" />
<line x1="254" y1="5.3" x2="254" y2="6.5" stroke="#999" stroke-width="0.4" />
<text transform="translate(269.6,98.1) scale(1.12,1)" font-size="6.4" font-family="'Liberation Serif','Noto Serif CJK SC',serif" text-anchor="middle" fill="#3a3a3a" stroke="#3a3a3a" stroke-width="0.18">2</text>
<line x1="269.6" y1="91.8" x2="269.6" y2="90.6" stroke="#999" stroke-width="0.4" />
<line x1="269.6" y1="5.3" x2="269.6" y2="6.5" stroke="#999" stroke-width="0.4" />
<text transform="translate(285.2,98.1) scale(1.12,1)" font-size="6.4" font-family="'Liberation Serif','Noto Serif CJK SC',serif" text-anchor="middle" fill="#3a3a3a" stroke="#3a3a3a" stroke-width="0.18">3</text>
<line x1="285.2" y1="91.8" x2="285.2" y2="90.6" stroke="#999" stroke-width="0.4" />
<line x1="285.2" y1="5.3" x2="285.2" y2="6.5" stroke="#999" stroke-width="0.4" />
<text transform="translate(300.8,98.1) scale(1.12,1)" font-size="6.4" font-family="'Liberation Serif','Noto Serif CJK SC',serif" text-anchor="middle" fill="#3a3a3a" stroke="#3a3a3a" stroke-width="0.18">4</text>
<line x1="300.8" y1="91.8" x2="300.8" y2="90.6" stroke="#999" stroke-width="0.4" />
<line x1="300.8" y1="5.3" x2="300.8" y2="6.5" stroke="#999" stroke-width="0.4" />
<text transform="translate(316.4,98.1) scale(1.12,1)" font-size="6.4" font-family="'Liberation Serif','Noto Serif CJK SC',serif" text-anchor="middle" fill="#3a3a3a" stroke="#3a3a3a" stroke-width="0.18">5</text>
<line x1="316.4" y1="91.8" x2="316.4" y2="90.6" stroke="#999" stroke-width="0.4" />
<line x1="316.4" y1="5.3" x2="316.4" y2="6.5" stroke="#999" stroke-width="0.4" />
<text transform="translate(332,98.1) scale(1.12,1)" font-size="6.4" font-family="'Liberation Serif','Noto Serif CJK SC',serif" text-anchor="middle" fill="#3a3a3a" stroke="#3a3a3a" stroke-width="0.18">6</text>
<line x1="332" y1="91.8" x2="332" y2="90.6" stroke="#999" stroke-width="0.4" />
<line x1="332" y1="5.3" x2="332" y2="6.5" stroke="#999" stroke-width="0.4" />
<text transform="translate(347.6,98.1) scale(1.12,1)" font-size="6.4" font-family="'Liberation Serif','Noto Serif CJK SC',serif" text-anchor="middle" fill="#3a3a3a" stroke="#3a3a3a" stroke-width="0.18">7</text>
<line x1="347.6" y1="91.8" x2="347.6" y2="90.6" stroke="#999" stroke-width="0.4" />
<line x1="347.6" y1="5.3" x2="347.6" y2="6.5" stroke="#999" stroke-width="0.4" />
<text transform="translate(363.2,98.1) scale(1.12,1)" font-size="6.4" font-family="'Liberation Serif','Noto Serif CJK SC',serif" text-anchor="middle" fill="#3a3a3a" stroke="#3a3a3a" stroke-width="0.18">8</text>
<line x1="363.2" y1="91.8" x2="363.2" y2="90.6" stroke="#999" stroke-width="0.4" />
<line x1="363.2" y1="5.3" x2="363.2" y2="6.5" stroke="#999" stroke-width="0.4" />
<text transform="translate(236.6,65.8) rotate(-90)" font-size="7.2" font-family="'Liberation Serif','Noto Serif CJK SC',serif" fill="#3a3a3a" stroke="#3a3a3a" stroke-width="0.12" textLength="30.8" lengthAdjust="spacingAndGlyphs">Amplitude</text>
<text transform="translate(236.6,32.9) rotate(-90)" font-size="7.2" font-family="'Liberation Serif','Noto Serif CJK SC',serif" fill="#3a3a3a" stroke="#3a3a3a" stroke-width="0.12" textLength="7.2" lengthAdjust="spacingAndGlyphs">(V)</text>
<text x="304.1" y="105.5" font-size="8.8" font-family="'Liberation Serif','Noto Serif CJK SC',serif" fill="#333" stroke="#333" stroke-width="0.12" textLength="33.6" lengthAdjust="spacingAndGlyphs">Time（s）</text>
<text x="367.4" y="105.2" font-size="7.4" font-family="'Liberation Serif','Noto Serif CJK SC',serif" text-anchor="start" fill="#444" >×</text>
<text x="371.5" y="101.5" font-size="4.6" font-family="'Liberation Sans','Noto Sans CJK SC',sans-serif" fill="#444">10<tspan font-size="3.4" dy="-1.6">-5</tspan></text>
<rect x="254.8" y="5.3" width="6.6" height="86.5" fill="#b3d3ef" stroke="none" stroke-width="1" />
<line x1="252" y1="5.3" x2="252" y2="91.8" stroke="#4a95d6" stroke-width="0.7" />
<line x1="255.3" y1="5.3" x2="255.3" y2="91.8" stroke="#4a95d6" stroke-width="0.7" />
<line x1="258.3" y1="5.3" x2="258.3" y2="91.8" stroke="#4a95d6" stroke-width="0.7" />
<line x1="261.1" y1="5.3" x2="261.1" y2="91.8" stroke="#4a95d6" stroke-width="0.7" />
<polygon points="261,50.4 261.5,49.7 262,49.7 262.5,49.7 263,49.7 263.5,49 264,49 264.5,49 265,42.5 265.5,42.5 266,42.5 266.5,27.6 267,27.6 267.5,27.6 268,20.9 268.5,19.7 269,19.7 269.5,19.7 270,12 270.5,12 271,12 271.6,12 272.1,12 272.6,12 273.1,16.1 273.6,16.1 274.1,16.1 274.6,16.6 275.1,16.7 275.6,16.7 276.1,16.7 276.6,10.9 277.1,10.9 277.6,10.9 278.1,10.9 278.6,10.9 279.1,10.9 279.6,17.7 280.1,17.7 280.6,17.7 281.1,19.7 281.6,24.7 282.1,24.7 282.6,24.7 283.1,38.7 283.6,38.7 284.1,38.7 284.6,47.8 285.1,47.8 285.6,47.8 286.1,49.1 286.6,49.1 287.1,49.1 287.6,49.1 288.1,49.1 288.6,49.4 289.1,49.2 289.6,49.2 290.1,49.2 290.6,49.2 291.1,49.2 291.6,49.2 292.1,49.2 292.6,49.2 293.1,48.9 293.6,48.9 294.1,48.9 294.6,48.9 295.1,48.9 295.6,48.9 296.1,48.9 296.6,49 297.1,49 297.6,49 298.1,49 298.6,49 299.1,49 299.6,49 300.1,49.7 300.6,49.7 301.1,49.7 301.6,49.1 302.1,49.1 302.6,49.1 303.1,49.1 303.6,49.1 304.1,49.1 304.6,49.8 305.1,49.2 305.6,49.2 306.1,49.2 306.6,49.2 307.2,49.2 307.7,49.2 308.2,49.2 308.7,49.3 309.2,49.3 309.7,48.6 310.2,48.6 310.7,48.6 311.2,48.6 311.7,48.6 312.2,48.6 312.7,49.1 313.2,49.4 313.7,49.4 314.2,49.5 314.7,49.5 315.2,49.5 315.7,49.5 316.2,49.5 316.7,49.5 317.2,50.2 317.7,49.5 318.2,48.2 318.7,48.2 319.2,48.2 319.7,48.2 320.2,48.2 320.7,48.2 321.2,48.2 321.7,49.4 322.2,50.3 322.7,48.9 323.2,48.9 323.7,48.9 324.2,48.9 324.7,48.9 325.2,48.9 325.7,48.9 326.2,49.5 326.7,48.8 327.2,48.8 327.7,48.8 328.2,48.8 328.7,48.8 329.2,48.8 329.7,49.7 330.2,49.7 330.7,48.8 331.2,48.8 331.7,48.8 332.2,48.8 332.7,48.8 333.2,48.8 333.7,48.8 334.2,49.2 334.7,48.6 335.2,48.6 335.7,48.6 336.2,48.6 336.7,48.6 337.2,48.6 337.7,48.6 338.2,49.6 338.7,49.6 339.2,49.7 339.7,49.1 340.2,49.1 340.7,49.1 341.2,49.1 341.8,49.1 342.3,49.1 342.8,49.7 343.3,49.5 343.8,48.9 344.3,48.9 344.8,48.9 345.3,48.9 345.8,48.9 346.3,48.9 346.8,48.9 347.3,49.6 347.8,49.4 348.3,49.4 348.8,49.4 349.3,49.4 349.8,49.4 350.3,49.4 350.8,49.4 351.3,49.9 351.8,50.3 352.3,50.3 352.3,51.7 351.8,51.7 351.3,51.7 350.8,51.7 350.3,51.7 349.8,51.7 349.3,51.3 348.8,52.2 348.3,52.2 347.8,52.2 347.3,52.2 346.8,52.2 346.3,52.2 345.8,51.9 345.3,51.1 344.8,51.1 344.3,52.2 343.8,52.2 343.3,52.2 342.8,52.2 342.3,52.2 341.8,52.2 341.2,51.8 340.7,51.8 340.2,51.7 339.7,52.4 339.2,52.4 338.7,52.4 338.2,52.4 337.7,52.4 337.2,52.4 336.7,51.8 336.2,51.1 335.7,51.1 335.2,52.4 334.7,52.4 334.2,52.4 333.7,52.4 333.2,52.4 332.7,52.4 332.2,52.4 331.7,53.2 331.2,53.2 330.7,53.2 330.2,53.2 329.7,53.2 329.2,53.2 328.7,51.8 328.2,51.8 327.7,51.5 327.2,51.7 326.7,51.7 326.2,51.7 325.7,51.7 325.2,51.7 324.7,51.7 324.2,51.7 323.7,51.7 323.2,51.7 322.7,51.7 322.2,52 321.7,52 321.2,52 320.7,52 320.2,52 319.7,52 319.2,52.2 318.7,52.2 318.2,52.2 317.7,52.2 317.2,52.2 316.7,52.2 316.2,52.2 315.7,52.1 315.2,52.1 314.7,52.3 314.2,52.6 313.7,52.6 313.2,52.6 312.7,52.6 312.2,52.6 311.7,52.6 311.2,52 310.7,51.6 310.2,52.4 309.7,52.4 309.2,52.4 308.7,52.4 308.2,52.4 307.7,52.4 307.2,52.4 306.6,51.6 306.1,52.4 305.6,52.4 305.1,52.4 304.6,52.4 304.1,52.4 303.6,52.4 303.1,52.3 302.6,52 302.1,52 301.6,52.3 301.1,52.3 300.6,52.3 300.1,52.3 299.6,52.3 299.1,52.3 298.6,52.3 298.1,51.9 297.6,52 297.1,52 296.6,52 296.1,52 295.6,52 295.1,52 294.6,52 294.1,52.8 293.6,52.8 293.1,52.8 292.6,52.8 292.1,52.8 291.6,52.8 291.1,52.8 290.6,52.8 290.1,51.4 289.6,51.7 289.1,51.7 288.6,51.7 288.1,51.7 287.6,51.7 287.1,51.7 286.6,52 286.1,52 285.6,52 285.1,55.7 284.6,55.8 284.1,55.8 283.6,62.6 283.1,70.1 282.6,70.1 282.1,70.1 281.6,80.8 281.1,80.8 280.6,80.8 280.1,87.5 279.6,87.5 279.1,87.5 278.6,88.7 278.1,88.7 277.6,88.7 277.1,88.7 276.6,88.7 276.1,88.7 275.6,88.7 275.1,86 274.6,86 274.1,86 273.6,87.6 273.1,87.6 272.6,87.6 272.1,87.6 271.6,87.6 271,87.6 270.5,87.6 270,87.4 269.5,87.4 269,87.4 268.5,78.7 268,78.7 267.5,78.7 267,66.7 266.5,66.7 266,66.7 265.5,60.2 265,55.2 264.5,55.2 264,55.1 263.5,51.4 263,51.4 262.5,51.2 262,51.2 261.5,51.2 261,51.2" fill="#80b2df" opacity="1.0"/>
<polyline points="261,50.6 261.3,50.4 261.5,50.8 261.8,51.2 262,50.9 262.3,51.2 262.5,50.6 262.8,49.7 263,50.9 263.3,51 263.5,50.3 263.8,50.5 264,50.8 264.3,51.4 264.5,50.2 264.8,49 265,50.3 265.3,51.5 265.5,55.1 265.8,55.2 266,51.6 266.3,44.2 266.5,42.5 266.8,48.1 267,60.2 267.3,66.7 267.5,59.9 267.8,40.3 268,27.6 268.3,35 268.5,59.8 268.8,78.7 269,75.3 269.3,48.8 269.5,20.9 269.8,19.7 270,44.9 270.3,76.4 270.5,87.4 270.8,65.2 271,29.7 271.3,12 271.6,28.5 271.8,63.6 272.1,87.6 272.3,81.4 272.6,45.8 272.8,16.1 273.1,16.6 273.3,44.5 273.6,77.8 273.8,86 274.1,62.6 274.3,31.4 274.6,18.9 274.8,32.5 275.1,62.5 275.3,82.7 275.6,75.3 275.8,45.8 276.1,16.7 276.3,17.4 276.6,47 276.8,81.5 277.1,88.7 277.3,63.2 277.6,26.5 277.8,10.9 278.1,31 278.3,66.5 278.6,87.5 278.8,78.5 279.1,44.3 279.3,17.7 279.6,19.7 279.8,48.3 280.1,76.9 280.3,80.8 280.6,59.2 280.8,31.8 281.1,24.7 281.3,38.8 281.6,59.9 281.8,70.1 282.1,62.6 282.3,48.1 282.6,38.7 282.8,41.9 283.1,49.7 283.3,55.8 283.6,55.7 283.8,51.2 284.1,48.9 284.3,47.8 284.6,49.9 284.8,50.7 285.1,52 285.3,49.8 285.6,50.6 285.8,50.7 286.1,49.7 286.3,50.4 286.6,50 286.8,49.1 287.1,51.5 287.3,51.7 287.6,51.4 287.8,51.3 288.1,51.7 288.3,51.6 288.6,50.7 288.8,50.5 289.1,51.1 289.4,50.1 289.6,49.7 289.9,50.2 290.1,49.4 290.4,50.2 290.6,49.2 290.9,50.1 291.1,50.5 291.4,51.4 291.6,51.4 291.9,52.8 292.1,52.4 292.4,51.4 292.6,52.8 292.9,50.6 293.1,51.9 293.4,49.9 293.6,50.5 293.9,49.2 294.1,49.5 294.4,50.5 294.6,48.9 294.9,49 295.1,50.3 295.4,50.8 295.6,51.2 295.9,52 296.1,50.9 296.4,52 296.6,51.6 296.9,51.9 297.1,51.5 297.4,51.5 297.6,49.5 297.9,50 298.1,49 298.4,49.5 298.6,50 298.9,49.9 299.1,50.3 299.4,50.3 299.6,51 299.9,51.3 300.1,52.3 300.4,52.1 300.6,50.6 300.9,52 301.1,52 301.4,50.8 301.6,49.7 301.9,51.1 302.1,50 302.4,50 302.6,50.7 302.9,49.1 303.1,49.8 303.4,50 303.6,50.9 303.9,50.5 304.1,51.5 304.4,51.6 304.6,52.3 304.9,52.4 305.1,50.7 305.4,51.6 305.6,50.7 305.9,50.6 306.1,50.4 306.4,50.1 306.6,49.2 306.9,49.7 307.2,49.7 307.4,49.8 307.7,49.3 307.9,50 308.2,50.6 308.4,51.6 308.7,52.4 308.9,51 309.2,51 309.4,51.6 309.7,50.9 309.9,50.4 310.2,49.9 310.4,49.5 310.7,50.1 310.9,48.6 311.2,50.3 311.4,49.1 311.7,49.5 311.9,49.6 312.2,49.4 312.4,50 312.7,52 312.9,52.6 313.2,51.1 313.4,52.3 313.7,51.5 313.9,50.6 314.2,51.8 314.4,51.7 314.7,49.8 314.9,49.7 315.2,49.7 315.4,49.5 315.7,50.2 315.9,50.9 316.2,50.3 316.4,51.3 316.7,52.1 316.9,51 317.2,51.6 317.4,51.4 317.7,52.2 317.9,51.8 318.2,51.7 318.4,51.3 318.7,50.2 318.9,50.5 319.2,49.5 319.4,49.3 319.7,48.2 319.9,50.6 320.2,49.4 320.4,50.4 320.7,50.7 320.9,52 321.2,51.7 321.4,51.1 321.7,51.7 321.9,51.5 322.2,51.5 322.4,50.3 322.7,50.6 322.9,51.7 323.2,50.3 323.4,50.9 323.7,51.6 323.9,49.9 324.2,48.9 324.5,50 324.7,51.1 325,51.4 325.2,50.4 325.5,51.3 325.7,51.6 326,51.7 326.2,51.5 326.5,50.8 326.7,50.6 327,50.4 327.2,50.8 327.5,49.5 327.7,50.1 328,48.8 328.2,50.4 328.5,49.9 328.7,50.1 329,51.3 329.2,49.7 329.5,50.3 329.7,51.8 330,51.1 330.2,51.4 330.5,53.2 330.7,51.1 331,50.9 331.2,50.4 331.5,50.8 331.7,50 332,49.7 332.2,48.8 332.5,49.4 332.7,49.8 333,49.2 333.2,50.9 333.5,51.2 333.7,52.4 334,50.5 334.2,51 334.5,51 334.7,51 335,51.1 335.2,50.7 335.5,50.6 335.7,50.2 336,49.7 336.2,48.6 336.5,49.2 336.7,49.7 337,50.2 337.2,50.6 337.5,49.6 337.7,50.7 338,51.3 338.2,51.8 338.5,52.4 338.7,51.7 339,50.9 339.2,51.4 339.5,50.9 339.7,50.5 340,49.9 340.2,50.7 340.5,49.7 340.7,50.1 341,49.1 341.2,50.4 341.5,49.9 341.8,49.7 342,51.3 342.3,51.8 342.5,51.5 342.8,51.7 343,52.2 343.3,51.1 343.5,49.8 343.8,50.8 344,50.4 344.3,50.6 344.5,49.5 344.8,50.3 345,50.3 345.3,48.9 345.5,50.6 345.8,49.7 346,49.8 346.3,51 346.5,51.1 346.8,50.4 347,51.8 347.3,51.9 347.5,52.2 347.8,51 348,49.6 348.3,49.6 348.5,50.5 348.8,50.2 349,49.8 349.3,49.4 349.5,49.9 349.8,49.9 350,50.2 350.3,51 350.5,51.2 350.8,51.3 351,51.7 351.3,51.3 351.5,50.3 351.8,50.9 352,50.9 352.3,51.6" fill="none" stroke="#2a82c6" stroke-width="0.42" stroke-linejoin="round" />
<polyline points="259,50.3 259.2,51.8 259.5,51.5 259.7,50 260,50.1 260.2,50.7 260.5,51.7 260.7,50.9 261,51 261.2,50.1 261.5,49 261.8,50.4 262,51.2 262.3,51.5 262.5,50.7 262.8,50.6 263,51.1 263.3,50.2 263.5,51.3 263.8,50.2 264,50.4 264.3,50.2 264.5,50.6 264.8,49.5 265,50 265.3,50.8 265.5,51.6 265.8,52.5 266,52 266.3,49.5 266.5,49.3 266.8,49.3 267,50 267.3,53.1 267.5,52.8 267.8,51.1 268,49.3 268.3,48.9 268.5,48.5 268.8,50.7 269,53.2 269.3,53.2 269.5,50.7 269.8,49 270,49.7 270.3,48.4 270.5,50.7 270.8,51.5 271,52.6 271.3,51.1 271.5,50.1 271.8,47.2 272,49.8 272.3,50 272.5,52.4 272.8,51.6 273,51.8 273.3,50 273.5,48.9 273.8,50.9 274,50.2 274.3,51.1 274.5,51.8 274.8,50.9 275,50.5 275.3,50.1 275.5,50.7 275.8,51.3 276,51.1 276.3,51.5 276.5,51.4 276.8,50.5 277,49.9 277.3,51.5 277.5,50.6 277.8,51.1 278.1,51.3 278.3,50 278.6,50.9 278.8,49.6 279.1,51.1 279.3,50.4 279.6,50.8 279.8,51.1 280.1,50.2 280.3,50.7 280.6,50.2 280.8,50.6 281.1,51.3 281.3,50.7 281.6,50.6 281.8,50 282.1,51.2 282.3,50.6 282.6,51.7 282.8,50.2 283.1,51.3 283.3,51.7 283.6,50.6 283.8,49.9 284.1,51.6 284.3,51.3 284.6,51.1 284.8,51.3 285.1,50.3 285.3,51.1 285.6,51.1 285.8,50.3 286.1,51.1 286.3,50.3 286.6,51.2 286.8,51.4 287.1,51.9 287.3,49.5 287.6,50.8 287.8,50.4 288.1,50.7 288.3,50.7 288.6,50.9 288.8,49.6 289.1,51.3 289.3,51.5 289.6,51.4 289.8,52.1 290.1,51 290.3,50.6 290.6,51.1 290.8,51.2 291.1,51.2 291.3,51.1 291.6,54.1 291.8,51.3 292.1,51.4 292.3,49.9 292.6,52.3 292.8,52.9 293.1,53.9 293.3,52.8 293.6,50.4 293.8,50.8 294.1,52.5 294.4,53.7 294.6,54.5 294.9,52.8 295.1,51 295.4,50.7 295.6,52.9 295.9,56.7 296.1,56.4 296.4,52.6 296.6,47.9 296.9,48.2 297.1,53.5 297.4,56.9 297.6,55.8 297.9,53 298.1,51.1 298.4,51.3 298.6,54.2 298.9,55 299.1,55 299.4,52.4 299.6,50.9 299.9,51.8 300.1,54.4 300.4,56 300.6,55.6 300.9,52 301.1,49.4 301.4,51.3 301.6,54.6 301.9,58.8 302.1,56.7 302.4,51.5 302.6,49.9 302.9,50.4 303.1,54.8 303.4,57.4 303.6,55.7 303.9,51.7 304.1,50.1 304.4,51.4 304.6,55.2 304.9,56.6 305.1,55.6 305.4,51.3 305.6,49.8 305.9,51.7 306.1,55.4 306.4,56.4 306.6,55.9 306.9,50.5 307.1,48.8 307.4,51.3 307.6,55.7 307.9,57.7 308.1,54.6 308.4,50.6 308.6,50.1 308.9,52.3 309.1,55.4 309.4,54.3 309.6,52.8 309.9,51.2 310.1,50.9 310.4,53.5 310.7,54.8 310.9,56.5 311.2,55.6 311.4,49.7 311.7,50.3 311.9,53.4 312.2,56.5 312.4,55.6 312.7,53.8 312.9,50.5 313.2,49.4 313.4,51.9 313.7,55.3 313.9,55.4 314.2,54.1 314.4,51.9 314.7,51.3 314.9,52.9 315.2,54.4 315.4,54.1 315.7,53.6 315.9,50.9 316.2,50.3 316.4,53.1 316.7,55.7 316.9,56.1 317.2,52.9 317.4,48.9 317.7,50.3 317.9,55 318.2,57.3 318.4,57 318.7,51.9 318.9,49.3 319.2,49.9 319.4,54.6 319.7,57.5 319.9,57.1 320.2,52.5 320.4,50 320.7,51.4 320.9,54.2 321.2,55.6 321.4,54.4 321.7,53.9 321.9,50.1 322.2,50.7 322.4,54.2 322.7,55.9 322.9,54.6 323.2,51.5 323.4,49.7 323.7,51 323.9,54.8 324.2,55.9 324.4,53.8 324.7,50.6 324.9,50.4 325.2,51.7 325.4,54.8 325.7,55.9 325.9,54.9 326.2,49.8 326.5,49.4 326.7,51.5 327,55.7 327.2,56.7 327.5,53.9 327.7,51.4 328,49.6 328.2,51.4 328.5,55.8 328.7,57.2 329,54.1 329.2,52.4 329.5,52.6 329.7,55.4 330,56.2 330.2,56.8 330.5,53.9 330.7,52.4 331,51.3 331.2,52.1 331.5,55.3 331.7,55.4 332,54.4 332.2,53.5 332.5,52.8 332.7,54.2 333,54 333.2,54.1 333.5,52.2 333.7,50 334,49.7 334.2,51.3 334.5,53.8 334.7,54.2 335,52.9 335.2,53.2 335.5,53.2 335.7,52 336,51.4 336.2,51.9 336.5,52.4 336.7,52.8 337,52.2 337.2,53.9 337.5,53.9 337.7,53.4 338,52.4 338.2,52.2 338.5,51 338.7,51.6 339,51.5 339.2,52.5 339.5,51.8 339.7,53.2 340,54.1 340.2,53.7 340.5,53.1 340.7,51.7 341,52.5 341.2,51.7 341.5,51.4 341.7,50 342,51.8 342.2,53.2 342.5,53.1 342.8,52.2 343,53.2 343.3,52.5 343.5,50.8 343.8,50.8 344,50.6 344.3,51.8 344.5,51 344.8,51.9 345,53.1 345.3,53.1 345.5,54.5 345.8,52.1 346,51.8 346.3,50.9 346.5,50.6 346.8,51.6 347,53.2 347.3,52.6 347.5,53.9 347.8,53.8 348,53.7 348.3,52.8 348.5,53.3 348.8,50.4 349,50.9 349.3,50.6 349.5,50.6 349.8,52.7 350,54.5 350.3,54.2 350.5,54.2 350.8,53.1 351,51.9 351.3,52.6 351.5,50.8 351.8,52.2 352,51.6 352.3,52.6" fill="none" stroke="#D95319" stroke-width="0.55" stroke-linejoin="round" />
<polyline points="252,50.6 252.3,37.7 252.6,28.3 253.2,26.6 254.8,27.4 255.7,31.3 256.2,54.9 256.8,69.9 257.3,61.3 257.9,52.7 259,50.6" fill="none" stroke="#D95319" stroke-width="0.9" stroke-linejoin="round" />
<rect x="262.7" y="12.4" width="24.9" height="78.4" fill="none" stroke="#4a4a4a" stroke-width="0.8" />
<text x="298.4" y="16.9" font-size="7.2" font-family="'Liberation Serif','Noto Serif CJK SC',serif" text-anchor="start" fill="#333" >Rayleigh</text>
<polyline points="287.6,27.5 303.3,18.4 318.5,18.4" fill="none" stroke="#444" stroke-width="0.6"/>
<text x="346.1" y="16.2" font-size="7.2" font-family="'Liberation Serif','Noto Serif CJK SC',serif" fill="#444" textLength="7.1" lengthAdjust="spacingAndGlyphs">air</text>
<line x1="354.2" y1="14.9" x2="369.4" y2="14.9" stroke="#6ba6dd" stroke-width="1.1" />
<text x="324" y="22.4" font-size="7.2" font-family="'Liberation Serif','Noto Serif CJK SC',serif" fill="#444" textLength="29.2" lengthAdjust="spacingAndGlyphs">underwater</text>
<line x1="354.2" y1="21.1" x2="369.4" y2="21.1" stroke="#ea8d66" stroke-width="1.1" />
<rect x="294.4" y="44.9" width="39.6" height="18.5" fill="none" stroke="#4a4a4a" stroke-width="0.8" />
<text x="300.8" y="74.4" font-size="7.2" font-family="'Liberation Serif','Noto Serif CJK SC',serif" text-anchor="start" fill="#333" >underwater sound</text>
<polyline points="296,63.4 300,77.7 338.9,77.7" fill="none" stroke="#444" stroke-width="0.6"/>
<text x="378.6" y="18.5" font-size="18.5" font-family="'Liberation Serif','Noto Serif CJK SC',serif" text-anchor="start" fill="#111" stroke="#111" stroke-width="0.3">(c)</text>
<rect x="411.3" y="5.5" width="125.1" height="86.3" fill="none" stroke="#b8b8b8" stroke-width="0.7" />
<text transform="translate(409.7,11.4) scale(1.12,1)" font-size="6.4" font-family="'Liberation Serif','Noto Serif CJK SC',serif" text-anchor="end" fill="#3a3a3a" stroke="#3a3a3a" stroke-width="0.18">0.8</text>
<line x1="411.3" y1="9.8" x2="412.5" y2="9.8" stroke="#999" stroke-width="0.4" />
<line x1="536.4" y1="9.8" x2="535.2" y2="9.8" stroke="#999" stroke-width="0.4" />
<text transform="translate(409.7,24.5) scale(1.12,1)" font-size="6.4" font-family="'Liberation Serif','Noto Serif CJK SC',serif" text-anchor="end" fill="#3a3a3a" stroke="#3a3a3a" stroke-width="0.18">0.7</text>
<line x1="411.3" y1="22.9" x2="412.5" y2="22.9" stroke="#999" stroke-width="0.4" />
<line x1="536.4" y1="22.9" x2="535.2" y2="22.9" stroke="#999" stroke-width="0.4" />
<text transform="translate(409.7,37.7) scale(1.12,1)" font-size="6.4" font-family="'Liberation Serif','Noto Serif CJK SC',serif" text-anchor="end" fill="#3a3a3a" stroke="#3a3a3a" stroke-width="0.18">0.6</text>
<line x1="411.3" y1="36.1" x2="412.5" y2="36.1" stroke="#999" stroke-width="0.4" />
<line x1="536.4" y1="36.1" x2="535.2" y2="36.1" stroke="#999" stroke-width="0.4" />
<text transform="translate(409.7,50.8) scale(1.12,1)" font-size="6.4" font-family="'Liberation Serif','Noto Serif CJK SC',serif" text-anchor="end" fill="#3a3a3a" stroke="#3a3a3a" stroke-width="0.18">0.5</text>
<line x1="411.3" y1="49.2" x2="412.5" y2="49.2" stroke="#999" stroke-width="0.4" />
<line x1="536.4" y1="49.2" x2="535.2" y2="49.2" stroke="#999" stroke-width="0.4" />
<text transform="translate(409.7,63.9) scale(1.12,1)" font-size="6.4" font-family="'Liberation Serif','Noto Serif CJK SC',serif" text-anchor="end" fill="#3a3a3a" stroke="#3a3a3a" stroke-width="0.18">0.4</text>
<line x1="411.3" y1="62.3" x2="412.5" y2="62.3" stroke="#999" stroke-width="0.4" />
<line x1="536.4" y1="62.3" x2="535.2" y2="62.3" stroke="#999" stroke-width="0.4" />
<text transform="translate(409.7,77.1) scale(1.12,1)" font-size="6.4" font-family="'Liberation Serif','Noto Serif CJK SC',serif" text-anchor="end" fill="#3a3a3a" stroke="#3a3a3a" stroke-width="0.18">0.3</text>
<line x1="411.3" y1="75.5" x2="412.5" y2="75.5" stroke="#999" stroke-width="0.4" />
<line x1="536.4" y1="75.5" x2="535.2" y2="75.5" stroke="#999" stroke-width="0.4" />
<text transform="translate(409.7,90.2) scale(1.12,1)" font-size="6.4" font-family="'Liberation Serif','Noto Serif CJK SC',serif" text-anchor="end" fill="#3a3a3a" stroke="#3a3a3a" stroke-width="0.18">0.2</text>
<line x1="411.3" y1="88.6" x2="412.5" y2="88.6" stroke="#999" stroke-width="0.4" />
<line x1="536.4" y1="88.6" x2="535.2" y2="88.6" stroke="#999" stroke-width="0.4" />
<text transform="translate(417,98.3) scale(1.12,1)" font-size="6.4" font-family="'Liberation Serif','Noto Serif CJK SC',serif" text-anchor="middle" fill="#3a3a3a" stroke="#3a3a3a" stroke-width="0.18">1</text>
<line x1="417" y1="91.8" x2="417" y2="90.6" stroke="#999" stroke-width="0.4" />
<line x1="417" y1="5.5" x2="417" y2="6.7" stroke="#999" stroke-width="0.4" />
<text transform="translate(433.3,98.3) scale(1.12,1)" font-size="6.4" font-family="'Liberation Serif','Noto Serif CJK SC',serif" text-anchor="middle" fill="#3a3a3a" stroke="#3a3a3a" stroke-width="0.18">2</text>
<line x1="433.3" y1="91.8" x2="433.3" y2="90.6" stroke="#999" stroke-width="0.4" />
<line x1="433.3" y1="5.5" x2="433.3" y2="6.7" stroke="#999" stroke-width="0.4" />
<text transform="translate(449.7,98.3) scale(1.12,1)" font-size="6.4" font-family="'Liberation Serif','Noto Serif CJK SC',serif" text-anchor="middle" fill="#3a3a3a" stroke="#3a3a3a" stroke-width="0.18">3</text>
<line x1="449.7" y1="91.8" x2="449.7" y2="90.6" stroke="#999" stroke-width="0.4" />
<line x1="449.7" y1="5.5" x2="449.7" y2="6.7" stroke="#999" stroke-width="0.4" />
<text transform="translate(466,98.3) scale(1.12,1)" font-size="6.4" font-family="'Liberation Serif','Noto Serif CJK SC',serif" text-anchor="middle" fill="#3a3a3a" stroke="#3a3a3a" stroke-width="0.18">4</text>
<line x1="466" y1="91.8" x2="466" y2="90.6" stroke="#999" stroke-width="0.4" />
<line x1="466" y1="5.5" x2="466" y2="6.7" stroke="#999" stroke-width="0.4" />
<text transform="translate(482.3,98.3) scale(1.12,1)" font-size="6.4" font-family="'Liberation Serif','Noto Serif CJK SC',serif" text-anchor="middle" fill="#3a3a3a" stroke="#3a3a3a" stroke-width="0.18">5</text>
<line x1="482.3" y1="91.8" x2="482.3" y2="90.6" stroke="#999" stroke-width="0.4" />
<line x1="482.3" y1="5.5" x2="482.3" y2="6.7" stroke="#999" stroke-width="0.4" />
<text transform="translate(498.6,98.3) scale(1.12,1)" font-size="6.4" font-family="'Liberation Serif','Noto Serif CJK SC',serif" text-anchor="middle" fill="#3a3a3a" stroke="#3a3a3a" stroke-width="0.18">6</text>
<line x1="498.6" y1="91.8" x2="498.6" y2="90.6" stroke="#999" stroke-width="0.4" />
<line x1="498.6" y1="5.5" x2="498.6" y2="6.7" stroke="#999" stroke-width="0.4" />
<text transform="translate(515,98.3) scale(1.12,1)" font-size="6.4" font-family="'Liberation Serif','Noto Serif CJK SC',serif" text-anchor="middle" fill="#3a3a3a" stroke="#3a3a3a" stroke-width="0.18">7</text>
<line x1="515" y1="91.8" x2="515" y2="90.6" stroke="#999" stroke-width="0.4" />
<line x1="515" y1="5.5" x2="515" y2="6.7" stroke="#999" stroke-width="0.4" />
<text transform="translate(531.3,98.3) scale(1.12,1)" font-size="6.4" font-family="'Liberation Serif','Noto Serif CJK SC',serif" text-anchor="middle" fill="#3a3a3a" stroke="#3a3a3a" stroke-width="0.18">8</text>
<line x1="531.3" y1="91.8" x2="531.3" y2="90.6" stroke="#999" stroke-width="0.4" />
<line x1="531.3" y1="5.5" x2="531.3" y2="6.7" stroke="#999" stroke-width="0.4" />
<text transform="translate(399,60.6) rotate(-90)" font-size="6.7" font-family="'Liberation Serif','Noto Serif CJK SC',serif" fill="#3a3a3a" stroke="#3a3a3a" stroke-width="0.12" textLength="28.6" lengthAdjust="spacingAndGlyphs">Amplitude</text>
<text transform="translate(399,29.6) rotate(-90)" font-size="6.7" font-family="'Liberation Serif','Noto Serif CJK SC',serif" fill="#3a3a3a" stroke="#3a3a3a" stroke-width="0.12" textLength="9.6" lengthAdjust="spacingAndGlyphs">(V)</text>
<text x="464.5" y="104.7" font-size="8.8" font-family="'Liberation Serif','Noto Serif CJK SC',serif" fill="#333" stroke="#333" stroke-width="0.12" textLength="33.1" lengthAdjust="spacingAndGlyphs">Time（s）</text>
<text x="532.4" y="104" font-size="7.4" font-family="'Liberation Serif','Noto Serif CJK SC',serif" text-anchor="start" fill="#444" >×</text>
<text x="536.5" y="100.3" font-size="4.6" font-family="'Liberation Sans','Noto Sans CJK SC',sans-serif" fill="#444">10<tspan font-size="3.4" dy="-1.6">-5</tspan></text>
<rect x="411.3" y="5.5" width="5.4" height="86.3" fill="#b3d3ef" stroke="none" stroke-width="1" />
<line x1="411.8" y1="5.5" x2="411.8" y2="91.8" stroke="#4a95d6" stroke-width="0.6" />
<line x1="414.2" y1="5.5" x2="414.2" y2="91.8" stroke="#4a95d6" stroke-width="0.6" />
<line x1="416.6" y1="5.5" x2="416.6" y2="91.8" stroke="#4a95d6" stroke-width="0.6" />
<polygon points="417,33.7 417.5,33.7 418,33.7 418.5,33.7 419,33.7 419.5,33.7 420,33.7 420.5,37.4 421,37.4 421.5,37.4 422,37.4 422.5,37.5 423,37.5 423.5,37.5 424,37.5 424.5,37.5 425,39 425.5,39 426,36.9 426.5,36.9 427,36.9 427.5,36.9 428,34.2 428.5,34.2 429,34.2 429.5,34.2 430,33.8 430.5,31.3 431,31.3 431.5,31.3 432.1,31.3 432.6,26.8 433.1,26.8 433.6,26.8 434.1,26.8 434.6,22.9 435.1,22.9 435.6,22.9 436.1,22.9 436.6,22.9 437.1,22.8 437.6,22.8 438.1,22.8 438.6,22.8 439.1,16.7 439.6,16.7 440.1,16.7 440.6,16.7 441.1,15.1 441.6,15.1 442.1,15.1 442.6,15.1 443.1,12.7 443.6,10.3 444.1,10.3 444.6,10.3 445.1,10.3 445.6,10.3 446.1,10.3 446.6,13.5 447.1,13.5 447.6,8 448.1,8 448.6,8 449.1,8 449.6,8 450.1,8 450.6,8 451.1,11.5 451.6,11.5 452.1,11.5 452.6,11.5 453.1,15 453.6,15 454.1,15 454.6,15 455.1,16.7 455.6,17.9 456.1,17.9 456.6,17.9 457.1,17.9 457.6,22.7 458.1,22.7 458.6,22.7 459.1,22.7 459.6,28.8 460.1,28.8 460.6,28.8 461.1,28.8 461.6,30.8 462.2,32.7 462.7,32.7 463.2,32.7 463.7,32.7 464.2,35.3 464.7,35.3 465.2,35.3 465.7,35.3 466.2,39 466.7,39.5 467.2,39.5 467.7,39.5 468.2,39.5 468.7,40 469.2,40 469.7,37.7 470.2,37.7 470.7,37.7 471.2,37.7 471.7,31.6 472.2,31.6 472.7,31.6 473.2,31.6 473.7,28.7 474.2,28.7 474.7,28.7 475.2,28.7 475.7,28.7 476.2,28.7 476.7,28.7 477.2,34.9 477.7,34.9 478.2,34.9 478.7,34.9 479.2,38.5 479.7,40.4 480.2,40.4 480.7,40.4 481.2,40.8 481.7,42.1 482.2,42.1 482.7,42.1 483.2,42.1 483.7,42.2 484.2,42.2 484.7,42.2 485.2,42.2 485.7,42.9 486.2,43.7 486.7,43.7 487.2,43.7 487.7,42.8 488.2,42.8 488.7,42.8 489.2,42.8 489.7,42.6 490.2,42.6 490.7,42.6 491.2,42.6 491.8,42.6 492.3,42.6 492.8,38.9 493.3,36.8 493.8,36.8 494.3,36.8 494.8,36.8 495.3,36.8 495.8,36.8 496.3,37.4 496.8,41.8 497.3,43 497.8,43.1 498.3,43.1 498.8,42.5 499.3,42.5 499.8,42.5 500.3,42.5 500.8,42.5 501.3,42.5 501.8,42.8 502.3,42.8 502.8,42.8 503.3,42.8 503.8,42.8 504.3,43 504.8,43 505.3,43 505.8,42.1 506.3,42.1 506.8,42 507.3,42 507.8,42 508.3,42 508.8,42 509.3,42 509.8,43.3 510.3,43.1 510.8,43.1 511.3,43.1 511.8,43.1 512.3,42.9 512.8,42.9 513.3,42.9 513.8,42.9 514.3,42.9 514.8,42.9 515.3,42.9 515.8,43 516.3,43 516.8,42.5 517.3,42.5 517.8,42 518.3,42 518.8,42 519.3,42 519.8,42 520.3,42 520.8,42.1 521.3,42.1 521.9,42.1 522.4,42.1 522.9,42.1 523.4,42.1 523.9,38.7 524.4,37 524.9,37 525.4,37 525.9,37 526.4,37 526.9,37 527.4,39.6 527.9,42.7 528.4,42.7 528.9,43.4 529.4,43.2 529.9,43 530.4,42.8 530.9,42.8 531.4,42.8 531.9,42.8 532.4,42.8 532.9,42.8 533.4,42.8 533.9,43.2 534.4,43.2 534.9,43.2 535.4,42.6 535.9,42.6 536.4,42.6 536.9,42.6 537.4,42.6 537.9,42.6 538.4,42.9 538.9,42.9 539.4,42.9 539.9,42.9 540.4,42.9 540.9,42.9 541.4,42.9 541.9,42.9 542.4,42.8 542.9,42.8 543.4,42.8 543.9,42.8 544.4,42.8 544.9,42.8 545.4,43.1 545.7,43.1 545.7,45.9 545.4,45.9 544.9,45.9 544.4,45.9 543.9,45.9 543.4,45.1 542.9,45.1 542.4,45.1 541.9,45.1 541.4,45.1 540.9,45.1 540.4,45.1 539.9,45.1 539.4,45.1 538.9,45.1 538.4,45.1 537.9,45.1 537.4,45.1 536.9,45.1 536.4,45.1 535.9,45.1 535.4,45.3 534.9,45.3 534.4,45.3 533.9,45.3 533.4,45.3 532.9,45.3 532.4,45.3 531.9,45 531.4,45 530.9,44.6 530.4,45.4 529.9,45.4 529.4,45.4 528.9,45.4 528.4,45.7 527.9,45.7 527.4,45.7 526.9,45.7 526.4,45.7 525.9,45.7 525.4,45.2 524.9,45.2 524.4,45.2 523.9,45.2 523.4,45.2 522.9,45.2 522.4,45.2 521.9,44.8 521.3,44.8 520.8,44.8 520.3,44.8 519.8,44.8 519.3,44.8 518.8,45 518.3,45 517.8,45.5 517.3,45.7 516.8,45.7 516.3,45.7 515.8,45.7 515.3,45.7 514.8,45.7 514.3,44.8 513.8,44.8 513.3,44.8 512.8,44.8 512.3,44.8 511.8,44.9 511.3,44.9 510.8,44.9 510.3,44.9 509.8,44.9 509.3,44.9 508.8,45.1 508.3,45.1 507.8,45.1 507.3,45.1 506.8,45.1 506.3,45.1 505.8,45.6 505.3,45.6 504.8,45.6 504.3,45.6 503.8,45.8 503.3,45.8 502.8,45.8 502.3,45.8 501.8,45.8 501.3,45.8 500.8,45.2 500.3,45.7 499.8,45.7 499.3,45.7 498.8,45.7 498.3,45.7 497.8,45.7 497.3,45.2 496.8,44.8 496.3,44.8 495.8,44.8 495.3,44.8 494.8,45.4 494.3,45.4 493.8,45.4 493.3,45.4 492.8,45.4 492.3,45.4 491.8,44.7 491.2,45 490.7,45 490.2,45.5 489.7,45.5 489.2,45.5 488.7,45.5 488.2,45.5 487.7,45.6 487.2,45.6 486.7,45.6 486.2,45.6 485.7,45.6 485.2,45.6 484.7,45.2 484.2,44.5 483.7,44.9 483.2,44.9 482.7,44.9 482.2,46 481.7,46 481.2,46 480.7,46 480.2,48 479.7,49.9 479.2,49.9 478.7,49.9 478.2,50.2 477.7,57.5 477.2,57.5 476.7,57.5 476.2,57.5 475.7,59.3 475.2,59.3 474.7,59.3 474.2,59.3 473.7,59.3 473.2,59.3 472.7,59.3 472.2,58 471.7,58 471.2,58 470.7,58 470.2,55.8 469.7,55.8 469.2,55.8 468.7,55.8 468.2,55.8 467.7,55.8 467.2,57.3 466.7,59.3 466.2,59.3 465.7,59.3 465.2,59.3 464.7,61.5 464.2,61.5 463.7,61.5 463.2,61.5 462.7,64.6 462.2,64.6 461.6,64.6 461.1,64.6 460.6,64.6 460.1,69.1 459.6,69.1 459.1,69.1 458.6,69.1 458.1,73.4 457.6,73.4 457.1,73.4 456.6,73.4 456.1,79.3 455.6,79.3 455.1,79.3 454.6,79.3 454.1,79.3 453.6,81.8 453.1,81.8 452.6,81.8 452.1,81.8 451.6,85.4 451.1,85.4 450.6,85.4 450.1,85.4 449.6,85.4 449.1,85.4 448.6,85.4 448.1,82.9 447.6,82.9 447.1,86.8 446.6,86.8 446.1,86.8 445.6,86.8 445.1,89.6 444.6,89.6 444.1,89.6 443.6,89.6 443.1,89.6 442.6,89.6 442.1,89.6 441.6,85.9 441.1,85.9 440.6,85.9 440.1,85.9 439.6,79.8 439.1,79.8 438.6,79.8 438.1,79.8 437.6,77.2 437.1,77.2 436.6,77.2 436.1,77.2 435.6,77.2 435.1,73.1 434.6,73.1 434.1,73.1 433.6,73.1 433.1,66.8 432.6,66.8 432.1,66.8 431.5,66.8 431,62.9 430.5,62.9 430,62.9 429.5,62.9 429,62.9 428.5,61.3 428,61.3 427.5,61.3 427,61.3 426.5,59.2 426,59.2 425.5,59.2 425,59.2 424.5,57.1 424,57.1 423.5,57.1 423,57.4 422.5,57.4 422,57.4 421.5,57.4 421,58.3 420.5,58.3 420,58.3 419.5,58.3 419,64.1 418.5,64.1 418,64.1 417.5,64.1 417,64.1" fill="#a8cbea" opacity="1.0"/>
<polyline points="417,48.1 417.3,58.9 417.5,64.1 417.8,61 418,52.8 418.3,41.4 418.5,33.7 418.8,33.9 419,40.8 419.3,50.2 419.5,58.2 419.8,58.3 420,55.5 420.3,48.1 420.5,41.1 420.8,37.4 421,39.6 421.3,45.3 421.5,53.2 421.8,57.4 422,55.4 422.3,52.7 422.5,45.9 422.8,39.4 423,37.5 423.3,42.1 423.5,47.8 423.8,53.3 424,57.1 424.3,55.8 424.5,49.2 424.8,44.3 425,39 425.3,39 425.5,41.7 425.8,51.5 426,56.9 426.3,59.2 426.5,55.2 426.8,47.9 427,39.4 427.3,37.3 427.5,36.9 427.8,44.5 428,53.8 428.3,59.4 428.5,61.3 428.8,56.4 429,45.6 429.3,38 429.5,34.2 429.8,37.4 430,46.8 430.3,55.8 430.5,62.9 430.8,62.3 431,53.2 431.3,42 431.5,33.8 431.8,31.3 432.1,39.3 432.3,52.5 432.6,61.7 432.8,66.8 433.1,61.6 433.3,49.3 433.6,34.8 433.8,26.8 434.1,27.8 434.3,40.4 434.6,57 434.8,69.8 435.1,73.1 435.3,61.7 435.6,44.1 435.8,27.9 436.1,22.9 436.3,27.4 436.6,45.4 436.8,65.8 437.1,77.2 437.3,73.2 437.6,57.4 437.8,38.3 438.1,23.9 438.3,22.8 438.6,32.9 438.8,52.8 439.1,71.9 439.3,79.8 439.6,70.7 439.8,52.3 440.1,29.8 440.3,16.7 440.6,17.9 440.8,37.3 441.1,62.3 441.3,82.1 441.6,85.9 441.8,70.2 442.1,44 442.3,24.3 442.6,15.1 442.8,22.3 443.1,43.6 443.3,71.3 443.6,89.6 443.8,85.7 444.1,62.5 444.3,33.4 444.6,12.7 444.8,10.3 445.1,25.2 445.3,52.9 445.6,78 445.8,86.8 446.1,74.9 446.3,52.5 446.6,27.1 446.8,13.5 447.1,14.8 447.4,34.9 447.6,60.3 447.9,77.9 448.1,82.9 448.4,69.6 448.6,44.2 448.9,19.4 449.1,8 449.4,18.1 449.6,43.4 449.9,69.2 450.1,85.4 450.4,82.9 450.6,61.6 450.9,34.8 451.1,13.5 451.4,11.5 451.6,24.9 451.9,49.2 452.1,72.3 452.4,81.8 452.6,74.1 452.9,51.9 453.1,30.2 453.4,15 453.6,16.7 453.9,33.9 454.1,58.4 454.4,75.5 454.6,79.3 454.9,66.8 455.1,45.8 455.4,26.9 455.6,17.9 455.9,24.1 456.1,43.6 456.4,62.6 456.6,73.4 456.9,72.9 457.1,58.3 457.4,41.2 457.6,26.1 457.9,22.7 458.1,32 458.4,49.3 458.6,62.7 458.9,69.1 459.1,64.3 459.4,50.5 459.6,38.9 459.9,28.8 460.1,30.8 460.4,39 460.6,52.8 460.9,63.3 461.1,64.6 461.4,57.9 461.6,47.2 461.9,36.4 462.2,32.7 462.4,37.2 462.7,44.1 462.9,54.7 463.2,61.5 463.4,61 463.7,53.2 463.9,44.6 464.2,37.3 464.4,35.3 464.7,39 464.9,49.3 465.2,54.7 465.4,59.3 465.7,57.3 465.9,49.1 466.2,43.2 466.4,39.9 466.7,39.5 466.9,43.1 467.2,49.2 467.4,55.3 467.7,55.8 467.9,52.6 468.2,48.3 468.4,42.2 468.7,40 468.9,41.8 469.2,46.4 469.4,51.5 469.7,55.2 469.9,55.8 470.2,51.8 470.4,44.7 470.7,40.2 470.9,37.7 471.2,40 471.4,46.6 471.7,51.9 471.9,58 472.2,55.2 472.4,49.3 472.7,38.4 472.9,31.6 473.2,33.6 473.4,38.8 473.7,47.6 473.9,56.4 474.2,59.3 474.4,55 474.7,44.1 474.9,33.4 475.2,28.7 475.4,30.5 475.7,41.9 475.9,49.9 476.2,57.5 476.4,55.5 476.7,50.2 477,42.2 477.2,35.1 477.5,34.9 477.7,38.5 478,44.9 478.2,48.6 478.5,49.9 478.7,48 479,45.4 479.2,41.2 479.5,40.4 479.7,40.8 480,42 480.2,43.6 480.5,45.9 480.7,46 481,45.2 481.2,43.9 481.5,43.9 481.7,42.1 482,43.5 482.2,43.3 482.5,44.9 482.7,44.2 483,44.1 483.2,44.5 483.5,42.3 483.7,43.3 484,42.2 484.2,42.9 484.5,44.4 484.7,44.4 485,43.9 485.2,44.1 485.5,44 485.7,44.1 486,45.2 486.2,43.9 486.5,45.6 486.7,43.7 487,44.6 487.2,44.7 487.5,44.2 487.7,43.7 488,45 488.2,45.2 488.5,44.7 488.7,45.5 489,44.7 489.2,42.8 489.5,44.8 489.7,43.5 490,45 490.2,43.7 490.5,44.1 490.7,43.9 491,43.5 491.2,42.6 491.5,43.8 491.8,43.9 492,44.7 492.3,43.5 492.5,44.1 492.8,43.3 493,44 493.3,42.6 493.5,45.4 493.8,43.7 494,41.1 494.3,38.9 494.5,36.8 494.8,37.4 495,41.5 495.3,42.8 495.5,41.8 495.8,43 496,44.8 496.3,44.6 496.5,44.3 496.8,43.1 497,44.6 497.3,44.5 497.5,43.2 497.8,43.3 498,44.2 498.3,44.8 498.5,45.2 498.8,44.5 499,45.7 499.3,43.3 499.5,44.4 499.8,43.6 500,42.5 500.3,43 500.5,44.8 500.8,43.3 501,43 501.3,44.5 501.5,44.7 501.8,44 502,45.2 502.3,42.8 502.5,45.8 502.8,44.8 503,44.2 503.3,44.1 503.5,43.8 503.8,43.7 504,44.1 504.3,43 504.5,45.6 504.8,43.9 505,44.5 505.3,43.8 505.5,43.8 505.8,44.7 506,44.4 506.3,43.3 506.5,43.7 506.8,44.5 507.1,42.3 507.3,42.1 507.6,45.1 507.8,43.7 508.1,42 508.3,43.3 508.6,43.8 508.8,44.1 509.1,44.4 509.3,44.1 509.6,44.4 509.8,43.4 510.1,44.3 510.3,44.3 510.6,44.9 510.8,44 511.1,44.6 511.3,44.1 511.6,43.1 511.8,43.6 512.1,43.5 512.3,43.7 512.6,43.9 512.8,44 513.1,44.2 513.3,43.3 513.6,44.8 513.8,42.9 514.1,43.9 514.3,44.5 514.6,44.3 514.8,44.5 515.1,43.8 515.3,44.5 515.6,43 515.8,44.6 516.1,45.7 516.3,44.5 516.6,45.5 516.8,44 517.1,43.1 517.3,43.4 517.6,45 517.8,44.5 518.1,42.5 518.3,43.7 518.6,43.9 518.8,43.1 519.1,42 519.3,42.9 519.6,43.8 519.8,43.7 520.1,43.5 520.3,44.4 520.6,44.8 520.8,43.9 521.1,44.7 521.3,44 521.6,43.9 521.9,42.1 522.1,44.6 522.4,44 522.6,44.1 522.9,43.6 523.1,43.1 523.4,44.3 523.6,44.6 523.9,45.2 524.1,44.7 524.4,43.5 524.6,43.8 524.9,44 525.1,41.7 525.4,38.7 525.6,37 525.9,39.6 526.1,42 526.4,44.8 526.6,44.8 526.9,42.7 527.1,45.7 527.4,44.2 527.6,43.8 527.9,44.2 528.1,44.6 528.4,44 528.6,43.9 528.9,44 529.1,45.4 529.4,44.1 529.6,44.6 529.9,44.4 530.1,43.8 530.4,43.4 530.6,43.2 530.9,44.3 531.1,43.2 531.4,43 531.6,43 531.9,42.8 532.1,44.1 532.4,44.1 532.6,43.3 532.9,45 533.1,43.8 533.4,44.4 533.6,44.2 533.9,45.3 534.1,44.6 534.4,44 534.6,43.2 534.9,43.2 535.1,44 535.4,44.1 535.6,44.6 535.9,43.6 536.1,44.1 536.4,43.5 536.7,42.6 536.9,44 537.2,45.1 537.4,44.6 537.7,45.1 537.9,44.9 538.2,42.9 538.4,43.8 538.7,45.1 538.9,43.4 539.2,42.9 539.4,44.2 539.7,44.5 539.9,44.2 540.2,43.7 540.4,43.4 540.7,43 540.9,43 541.2,43 541.4,42.9 541.7,43.4 541.9,45.1 542.2,44 542.4,43.7 542.7,44.2 542.9,43.2 543.2,44.2 543.4,44.7 543.7,42.8 543.9,43.4 544.2,43.8 544.4,43.2 544.7,43.1 544.9,43.7 545.2,45.9 545.4,44.5 545.7,44.3" fill="none" stroke="#2a82c6" stroke-width="0.45" stroke-linejoin="round" />
<polygon points="417,5.5 417.5,5.5 418,5.5 418.5,5.5 419.1,5.5 419.6,5.5 420.1,5.5 420.6,5.5 421.1,9.9 421.6,9.9 422.2,9.9 422.7,9.9 423.2,18.2 423.7,22.7 424.2,22.7 424.7,22.7 425.3,22.7 425.8,31.9 426.3,31.9 426.8,31.9 427.3,31.9 427.8,37.8 428.3,37.8 428.9,37.8 429.4,37.8 429.9,38.2 430.4,41.1 430.9,41.1 431.4,41.1 431.7,41.1 431.7,57.1 431.4,57.1 430.9,58.8 430.4,58.8 429.9,58.8 429.4,58.8 428.9,58.8 428.3,61.5 427.8,61.5 427.3,61.5 426.8,61.5 426.3,63.4 425.8,63.4 425.3,63.4 424.7,63.4 424.2,65.7 423.7,66.3 423.2,66.3 422.7,66.3 422.2,66.3 421.6,72.6 421.1,72.6 420.6,72.6 420.1,72.6 419.6,81.2 419.1,81.2 418.5,81.2 418,81.2 417.5,81.2 417,81.2" fill="#f3cdb9" opacity="1.0"/>
<polyline points="417,5.5 417.3,5.5 417.5,41.2 417.8,72.7 418,81.2 418.3,64 418.5,34.5 418.8,5.8 419.1,5.5 419.3,5.5 419.6,23.3 419.8,50.7 420.1,70.3 420.4,72.6 420.6,57.9 420.9,35.4 421.1,17 421.4,9.9 421.6,18.2 421.9,35.2 422.2,55.8 422.4,66.3 422.7,65.7 422.9,53.9 423.2,37.6 423.4,25.4 423.7,22.7 424,30.6 424.2,44.6 424.5,57.5 424.7,63.4 425,60.8 425.3,51 425.5,40.1 425.8,32.4 426,31.9 426.3,39 426.5,49.7 426.8,58.1 427.1,61.5 427.3,57.2 427.6,50.8 427.8,42 428.1,37.8 428.3,38.2 428.6,44 428.9,51.8 429.1,57.5 429.4,58.8 429.6,55.7 429.9,50.2 430.1,44.4 430.4,41.1 430.7,43.8 430.9,47.7 431.2,53.6 431.4,57 431.7,57.1" fill="none" stroke="#D95319" stroke-width="0.5" stroke-linejoin="round" />
<polyline points="431.7,57.5 431.9,54.3 432.2,50.7 432.5,45.6 432.7,44.5 433,45.3 433.2,49.1 433.5,54.5 433.7,56.8 434,56.9 434.2,54.1 434.5,50.8 434.7,47.3 435,46.3 435.2,46.1 435.5,49.1 435.7,53.6 436,56.5 436.2,57.5 436.5,54.6 436.7,50.4 437,47.8 437.2,45.9 437.5,46.9 437.7,50.4 438,53.2 438.2,57 438.5,57.3 438.7,55.2 439,51.5 439.2,48.2 439.5,46.4 439.7,47.5 440,50.6 440.2,53.9 440.5,57.2 440.7,58.2 441,56.3 441.2,52.4 441.5,49.2 441.7,46.9 442,47.6 442.2,49.9 442.5,53.9 442.7,56.5 443,58.8 443.2,56.6 443.5,52.1 443.7,48.5 444,46.3 444.3,46 444.5,50 444.8,54.6 445,58.1 445.3,58.5 445.5,56.6 445.8,53.2 446,48.9 446.3,45.8 446.5,46.3 446.8,49.9 447,53.8 447.3,57.4 447.5,59.5 447.8,57 448,52.7 448.3,48.9 448.5,47.1 448.8,46.7 449,49.4 449.3,53.3 449.5,58.3 449.8,57.5 450,57.2 450.3,52.7 450.5,48.6 450.8,46.3 451,46.9 451.3,50.2 451.5,53.5 451.8,57.2 452,59 452.3,55.4 452.5,52.8 452.8,48.9 453,47.8 453.3,47.1 453.5,49.4 453.8,52.8 454,56.2 454.3,57.6 454.5,56 454.8,54 455,50.8 455.3,48.3 455.5,48.9 455.8,50.5 456.1,53.2 456.3,54.7 456.6,55.7 456.8,55.3 457.1,52.6 457.3,51 457.6,49.5 457.8,49 458.1,51.3 458.3,53 458.6,55.2 458.8,55.2 459.1,53.9 459.3,53.3 459.6,51.2 459.8,50.6 460.1,50.7 460.3,51.8 460.6,52.2 460.8,53 461.1,54.2 461.3,54.2 461.6,52.6 461.8,51.8 462.1,50.6 462.3,50.8 462.6,51.5 462.8,52.4 463.1,53.7 463.3,53.9 463.6,54.1 463.8,52.9 464.1,52.5 464.3,51.6 464.6,51.9 464.8,51.9 465.1,52.4 465.3,53.6 465.6,53.6 465.8,53.6 466.1,52.4 466.3,51.4 466.6,51.1 466.8,51.2 467.1,50.8 467.3,53.2 467.6,54.1 467.9,56.8 468.1,57.9 468.4,53.3 468.6,48.8 468.9,44.6 469.1,42 469.4,45.4 469.6,52.9 469.9,61.9 470.1,66 470.4,63.4 470.6,56.3 470.9,47.8 471.1,43.6 471.4,43 471.6,48.2 471.9,52.5 472.1,56.2 472.4,56.4 472.6,54.1 472.9,53.5 473.1,51.8 473.4,51.7 473.6,52.3 473.9,52.4 474.1,52.7 474.4,52.8 474.6,52.3 474.9,52.3 475.1,52.7 475.4,52.8 475.6,52.3 475.9,52.5 476.1,52 476.4,51.4 476.6,52.2 476.9,52.5 477.1,52.6 477.4,52.8 477.6,52.8 477.9,52.8 478.1,52.6 478.4,52.6 478.6,52.2 478.9,52.6 479.1,52.6 479.4,53 479.7,51.9 479.9,52.2 480.2,51.5 480.4,51.7 480.7,51.4 480.9,52.5 481.2,52.8 481.4,52.5 481.7,54 481.9,52.5 482.2,51.5 482.4,51.2 482.7,50.9 482.9,51 483.2,52.6 483.4,53 483.7,54.1 483.9,53.9 484.2,53.3 484.4,52.2 484.7,51.4 484.9,51 485.2,52.1 485.4,51.5 485.7,52.7 485.9,53.4 486.2,53.8 486.4,53.1 486.7,52 486.9,51.3 487.2,51.8 487.4,51.2 487.7,51.1 487.9,53.9 488.2,53.3 488.4,53.5 488.7,53.2 488.9,51.7 489.2,51.9 489.4,51.1 489.7,50.9 489.9,52.3 490.2,53.3 490.4,53.7 490.7,53.9 490.9,52.5 491.2,52.6 491.5,51.1 491.7,51.7 492,51.2 492.2,52.3 492.5,54.2 492.7,53.7 493,54.2 493.2,53.3 493.5,51.7 493.7,51.9 494,51.6 494.2,50.8 494.5,52.1 494.7,52.5 495,53.6 495.2,54.1 495.5,53.2 495.7,51.8 496,51.1 496.2,51.2 496.5,51.4 496.7,52.2 497,53.3 497.2,52.9 497.5,53.7 497.7,53.7 498,52.5 498.2,51.2 498.5,50.9 498.7,51.5 499,52.4 499.2,53 499.5,54.3 499.7,54.3 500,52.9 500.2,52.6 500.5,51.4 500.7,50.7 501,51.1 501.2,52.1 501.5,52.1 501.7,53.4 502,53.9 502.2,53 502.5,52.2 502.7,51.9 503,51.1 503.3,51.4 503.5,52.9 503.8,53 504,53.7 504.3,53.9 504.5,54 504.8,52.6 505,51.6 505.3,51.1 505.5,51.8 505.8,51.8 506,53.4 506.3,53.7 506.5,53.2 506.8,53.6 507,52.7 507.3,51.2 507.5,51.3 507.8,51.5 508,51.9 508.3,52.5 508.5,54.5 508.8,54.1 509,53.7 509.3,52.9 509.5,52 509.8,51.5 510,51.2 510.3,52.3 510.5,52.8 510.8,53.4 511,54.1 511.3,53.3 511.5,51.9 511.8,51.6 512,51.5 512.3,51.4 512.5,52.4 512.8,52.7 513,52.9 513.3,53.5 513.5,52.9 513.8,52 514,52.6 514.3,52.3 514.5,52.8 514.8,52.8 515.1,52.7 515.3,51.6 515.6,52.6 515.8,52.7 516.1,52.7 516.3,52.5 516.6,52.2 516.8,52.4 517.1,51.7 517.3,52.4 517.6,51.9 517.8,52.4 518.1,52.2 518.3,53 518.6,52.5 518.8,52.5 519.1,52.6 519.3,53.3 519.6,52.1 519.8,52.6 520.1,52.7 520.3,52.6 520.6,52.6 520.8,52.3 521.1,52.9 521.3,52.8 521.6,52.3 521.8,52.5 522.1,52.8 522.3,53 522.6,53.1 522.8,52.6 523.1,51.6 523.3,52 523.6,50.8 523.8,51.4 524.1,52.9 524.3,53.7 524.6,55.4 524.8,55.3 525.1,53.6 525.3,50.9 525.6,49 525.8,48.7 526.1,50.1 526.3,54 526.6,56 526.9,58.2 527.1,56.9 527.4,53.7 527.6,50.5 527.9,48.4 528.1,48.3 528.4,50 528.6,52.8 528.9,55.1 529.1,56.3 529.4,55.3 529.6,53.5 529.9,51.2 530.1,51.4 530.4,50.4 530.6,51.9 530.9,52.9 531.1,53 531.4,52.8 531.6,52.8 531.9,52.2 532.1,52.3 532.4,51.8 532.6,51.8 532.9,52.4 533.1,51.9 533.4,52.5 533.6,52.5 533.9,52.9 534.1,52.6 534.4,52.2 534.6,53 534.9,52.2 535.1,52.3 535.4,52.4 535.6,53.3 535.9,52.5 536.1,52.2 536.4,52.8 536.6,52.4 536.9,53.4 537.1,52.2 537.4,52.7 537.6,52.1 537.9,53.2 538.1,52.2 538.4,52.6 538.7,52.2 538.9,52.8 539.2,52.7 539.4,51.6 539.7,52.8 539.9,52.8 540.2,52.6 540.4,52.9 540.7,52 540.9,51.8 541.2,52.7 541.4,53.2 541.7,52 541.9,52 542.2,52.1 542.4,52 542.7,52.8 542.9,52.5 543.2,53 543.4,53 543.7,52.1 543.9,52.7 544.2,51.6 544.4,52.4 544.7,52.7 544.9,52.2 545.2,51.8 545.4,52.3 545.7,53" fill="none" stroke="#D95319" stroke-width="0.5" stroke-linejoin="round" />
<rect x="429.4" y="7.6" width="39.2" height="78.8" fill="none" stroke="#4a4a4a" stroke-width="0.8" />
<text x="469.6" y="15.3" font-size="7.6" font-family="'Liberation Serif','Noto Serif CJK SC',serif" text-anchor="start" fill="#333" >Rayleigh</text>
<polyline points="468.7,35.3 477.7,17.9 492.9,17.9" fill="none" stroke="#444" stroke-width="0.6"/>
<text x="510.6" y="16.1" font-size="7.2" font-family="'Liberation Serif','Noto Serif CJK SC',serif" fill="#444" textLength="6.7" lengthAdjust="spacingAndGlyphs">air</text>
<line x1="517.8" y1="14.8" x2="533.6" y2="14.8" stroke="#6ba6dd" stroke-width="1.1" />
<text x="488.3" y="22.9" font-size="7.2" font-family="'Liberation Serif','Noto Serif CJK SC',serif" fill="#444" textLength="29.0" lengthAdjust="spacingAndGlyphs">underwater</text>
<line x1="517.8" y1="21.6" x2="533.6" y2="21.6" stroke="#ea8d66" stroke-width="1.1" />
<rect x="483.9" y="49.2" width="30.9" height="7.6" fill="none" stroke="#4a4a4a" stroke-width="0.8" />
<text x="480" y="73.3" font-size="7.6" font-family="'Liberation Serif','Noto Serif CJK SC',serif" text-anchor="start" fill="#333" >underwater sound</text>
<polyline points="484,56.8 477.2,74.6 513.9,74.6" fill="none" stroke="#444" stroke-width="0.6"/>
<text x="212.3" y="111.5" font-size="18.5" font-family="'Liberation Serif','Noto Serif CJK SC',serif" text-anchor="start" fill="#111" stroke="#111" stroke-width="0.3">(d)</text>
<rect x="252.2" y="110.4" width="123.2" height="83.4" fill="none" stroke="#b8b8b8" stroke-width="0.7" />
<text transform="translate(250.6,116.5) scale(1.12,1)" font-size="6.4" font-family="'Liberation Serif','Noto Serif CJK SC',serif" text-anchor="end" fill="#3a3a3a" stroke="#3a3a3a" stroke-width="0.18">0.2</text>
<line x1="252.2" y1="114.9" x2="253.4" y2="114.9" stroke="#999" stroke-width="0.4" />
<line x1="375.4" y1="114.9" x2="374.2" y2="114.9" stroke="#999" stroke-width="0.4" />
<text transform="translate(250.6,124.3) scale(1.12,1)" font-size="6.4" font-family="'Liberation Serif','Noto Serif CJK SC',serif" text-anchor="end" fill="#3a3a3a" stroke="#3a3a3a" stroke-width="0.18">0.15</text>
<line x1="252.2" y1="122.6" x2="253.4" y2="122.6" stroke="#999" stroke-width="0.4" />
<line x1="375.4" y1="122.6" x2="374.2" y2="122.6" stroke="#999" stroke-width="0.4" />
<text transform="translate(250.6,132) scale(1.12,1)" font-size="6.4" font-family="'Liberation Serif','Noto Serif CJK SC',serif" text-anchor="end" fill="#3a3a3a" stroke="#3a3a3a" stroke-width="0.18">0.1</text>
<line x1="252.2" y1="130.4" x2="253.4" y2="130.4" stroke="#999" stroke-width="0.4" />
<line x1="375.4" y1="130.4" x2="374.2" y2="130.4" stroke="#999" stroke-width="0.4" />
<text transform="translate(250.6,139.7) scale(1.12,1)" font-size="6.4" font-family="'Liberation Serif','Noto Serif CJK SC',serif" text-anchor="end" fill="#3a3a3a" stroke="#3a3a3a" stroke-width="0.18">0.05</text>
<line x1="252.2" y1="138.1" x2="253.4" y2="138.1" stroke="#999" stroke-width="0.4" />
<line x1="375.4" y1="138.1" x2="374.2" y2="138.1" stroke="#999" stroke-width="0.4" />
<text transform="translate(250.6,147.4) scale(1.12,1)" font-size="6.4" font-family="'Liberation Serif','Noto Serif CJK SC',serif" text-anchor="end" fill="#3a3a3a" stroke="#3a3a3a" stroke-width="0.18">0</text>
<line x1="252.2" y1="145.8" x2="253.4" y2="145.8" stroke="#999" stroke-width="0.4" />
<line x1="375.4" y1="145.8" x2="374.2" y2="145.8" stroke="#999" stroke-width="0.4" />
<text transform="translate(250.6,155.1) scale(1.12,1)" font-size="6.4" font-family="'Liberation Serif','Noto Serif CJK SC',serif" text-anchor="end" fill="#3a3a3a" stroke="#3a3a3a" stroke-width="0.18">-0.05</text>
<line x1="252.2" y1="153.5" x2="253.4" y2="153.5" stroke="#999" stroke-width="0.4" />
<line x1="375.4" y1="153.5" x2="374.2" y2="153.5" stroke="#999" stroke-width="0.4" />
<text transform="translate(250.6,162.9) scale(1.12,1)" font-size="6.4" font-family="'Liberation Serif','Noto Serif CJK SC',serif" text-anchor="end" fill="#3a3a3a" stroke="#3a3a3a" stroke-width="0.18">-0.1</text>
<line x1="252.2" y1="161.2" x2="253.4" y2="161.2" stroke="#999" stroke-width="0.4" />
<line x1="375.4" y1="161.2" x2="374.2" y2="161.2" stroke="#999" stroke-width="0.4" />
<text transform="translate(250.6,170.6) scale(1.12,1)" font-size="6.4" font-family="'Liberation Serif','Noto Serif CJK SC',serif" text-anchor="end" fill="#3a3a3a" stroke="#3a3a3a" stroke-width="0.18">-0.15</text>
<line x1="252.2" y1="169" x2="253.4" y2="169" stroke="#999" stroke-width="0.4" />
<line x1="375.4" y1="169" x2="374.2" y2="169" stroke="#999" stroke-width="0.4" />
<text transform="translate(250.6,178.3) scale(1.12,1)" font-size="6.4" font-family="'Liberation Serif','Noto Serif CJK SC',serif" text-anchor="end" fill="#3a3a3a" stroke="#3a3a3a" stroke-width="0.18">-0.2</text>
<line x1="252.2" y1="176.7" x2="253.4" y2="176.7" stroke="#999" stroke-width="0.4" />
<line x1="375.4" y1="176.7" x2="374.2" y2="176.7" stroke="#999" stroke-width="0.4" />
<text transform="translate(250.6,186) scale(1.12,1)" font-size="6.4" font-family="'Liberation Serif','Noto Serif CJK SC',serif" text-anchor="end" fill="#3a3a3a" stroke="#3a3a3a" stroke-width="0.18">-0.25</text>
<line x1="252.2" y1="184.4" x2="253.4" y2="184.4" stroke="#999" stroke-width="0.4" />
<line x1="375.4" y1="184.4" x2="374.2" y2="184.4" stroke="#999" stroke-width="0.4" />
<text transform="translate(258.9,199.1) scale(1.12,1)" font-size="6.4" font-family="'Liberation Serif','Noto Serif CJK SC',serif" text-anchor="middle" fill="#3a3a3a" stroke="#3a3a3a" stroke-width="0.18">1</text>
<line x1="258.9" y1="193.8" x2="258.9" y2="192.6" stroke="#999" stroke-width="0.4" />
<line x1="258.9" y1="110.4" x2="258.9" y2="111.6" stroke="#999" stroke-width="0.4" />
<text transform="translate(273.7,199.1) scale(1.12,1)" font-size="6.4" font-family="'Liberation Serif','Noto Serif CJK SC',serif" text-anchor="middle" fill="#3a3a3a" stroke="#3a3a3a" stroke-width="0.18">2</text>
<line x1="273.7" y1="193.8" x2="273.7" y2="192.6" stroke="#999" stroke-width="0.4" />
<line x1="273.7" y1="110.4" x2="273.7" y2="111.6" stroke="#999" stroke-width="0.4" />
<text transform="translate(288.4,199.1) scale(1.12,1)" font-size="6.4" font-family="'Liberation Serif','Noto Serif CJK SC',serif" text-anchor="middle" fill="#3a3a3a" stroke="#3a3a3a" stroke-width="0.18">3</text>
<line x1="288.4" y1="193.8" x2="288.4" y2="192.6" stroke="#999" stroke-width="0.4" />
<line x1="288.4" y1="110.4" x2="288.4" y2="111.6" stroke="#999" stroke-width="0.4" />
<text transform="translate(303.2,199.1) scale(1.12,1)" font-size="6.4" font-family="'Liberation Serif','Noto Serif CJK SC',serif" text-anchor="middle" fill="#3a3a3a" stroke="#3a3a3a" stroke-width="0.18">4</text>
<line x1="303.2" y1="193.8" x2="303.2" y2="192.6" stroke="#999" stroke-width="0.4" />
<line x1="303.2" y1="110.4" x2="303.2" y2="111.6" stroke="#999" stroke-width="0.4" />
<text transform="translate(317.9,199.1) scale(1.12,1)" font-size="6.4" font-family="'Liberation Serif','Noto Serif CJK SC',serif" text-anchor="middle" fill="#3a3a3a" stroke="#3a3a3a" stroke-width="0.18">5</text>
<line x1="317.9" y1="193.8" x2="317.9" y2="192.6" stroke="#999" stroke-width="0.4" />
<line x1="317.9" y1="110.4" x2="317.9" y2="111.6" stroke="#999" stroke-width="0.4" />
<text transform="translate(332.7,199.1) scale(1.12,1)" font-size="6.4" font-family="'Liberation Serif','Noto Serif CJK SC',serif" text-anchor="middle" fill="#3a3a3a" stroke="#3a3a3a" stroke-width="0.18">6</text>
<line x1="332.7" y1="193.8" x2="332.7" y2="192.6" stroke="#999" stroke-width="0.4" />
<line x1="332.7" y1="110.4" x2="332.7" y2="111.6" stroke="#999" stroke-width="0.4" />
<text transform="translate(347.5,199.1) scale(1.12,1)" font-size="6.4" font-family="'Liberation Serif','Noto Serif CJK SC',serif" text-anchor="middle" fill="#3a3a3a" stroke="#3a3a3a" stroke-width="0.18">7</text>
<line x1="347.5" y1="193.8" x2="347.5" y2="192.6" stroke="#999" stroke-width="0.4" />
<line x1="347.5" y1="110.4" x2="347.5" y2="111.6" stroke="#999" stroke-width="0.4" />
<text transform="translate(362.2,199.1) scale(1.12,1)" font-size="6.4" font-family="'Liberation Serif','Noto Serif CJK SC',serif" text-anchor="middle" fill="#3a3a3a" stroke="#3a3a3a" stroke-width="0.18">8</text>
<line x1="362.2" y1="193.8" x2="362.2" y2="192.6" stroke="#999" stroke-width="0.4" />
<line x1="362.2" y1="110.4" x2="362.2" y2="111.6" stroke="#999" stroke-width="0.4" />
<text transform="translate(238.2,153) rotate(-90)" font-size="6.6" font-family="'Liberation Serif','Noto Serif CJK SC',serif" fill="#3a3a3a" stroke="#3a3a3a" stroke-width="0.12" textLength="24.8" lengthAdjust="spacingAndGlyphs">Amplitude</text>
<text transform="translate(238.2,127.2) rotate(-90)" font-size="6.6" font-family="'Liberation Serif','Noto Serif CJK SC',serif" fill="#3a3a3a" stroke="#3a3a3a" stroke-width="0.12" textLength="8.6" lengthAdjust="spacingAndGlyphs">(V)</text>
<text x="305.5" y="203.8" font-size="8.8" font-family="'Liberation Serif','Noto Serif CJK SC',serif" fill="#333" stroke="#333" stroke-width="0.12" textLength="32.1" lengthAdjust="spacingAndGlyphs">Time（s）</text>
<text x="365.2" y="203.3" font-size="7.4" font-family="'Liberation Serif','Noto Serif CJK SC',serif" text-anchor="start" fill="#444" >×</text>
<text x="369.3" y="199.6" font-size="4.6" font-family="'Liberation Sans','Noto Sans CJK SC',sans-serif" fill="#444">10<tspan font-size="3.4" dy="-1.6">-5</tspan></text>
<rect x="252.6" y="110.4" width="8.2" height="83.4" fill="#e6bba9" stroke="none" stroke-width="1" />
<line x1="254" y1="110.4" x2="254" y2="193.8" stroke="#d9a08a" stroke-width="0.5" />
<line x1="256.3" y1="110.4" x2="256.3" y2="193.8" stroke="#d9a08a" stroke-width="0.5" />
<line x1="259.1" y1="110.4" x2="259.1" y2="193.8" stroke="#dc7a50" stroke-width="0.9" />
<line x1="260.2" y1="110.4" x2="260.2" y2="193.8" stroke="#4a95d5" stroke-width="0.9" />
<polygon points="260.4,147.9 260.9,147.9 261.4,147.9 261.9,149.2 262.4,149.2 262.9,149.2 263.4,149.2 263.9,154.9 264.4,154.9 264.9,154.9 265.4,152.6 265.9,151.2 266.4,151.2 266.9,151.2 267.4,149.9 267.9,149 268.4,149 268.9,149 269.4,149 269.9,148.4 270.4,148.4 270.9,148.4 271.4,148.4 271.9,148.2 272.4,148.2 272.9,148.2 273.4,148.2 273.9,145.5 274.4,145.5 274.9,145.5 275.4,142.2 275.9,142.2 276.4,142.2 276.9,142.2 277.4,142.2 277.9,137.6 278.4,137.6 278.9,137.6 279.4,137.6 279.9,129.9 280.4,129.9 280.9,129.9 281.4,129.9 281.9,129.9 282.4,121.6 282.9,121.6 283.4,121.6 283.9,121.6 284.4,118.2 284.9,117.8 285.5,117.8 286,117.8 286.5,117.8 287,116.3 287.5,116.3 288,116.3 288.5,116.3 289,118.3 289.5,121.1 290,121.1 290.5,121.1 291,121.1 291.5,125.5 292,125.5 292.5,125.5 293,125.5 293.5,125.5 294,135.4 294.5,135.4 295,135.4 295.5,135.4 296,137 296.5,137 297,137 297.5,137 298,137 298.5,141.2 299,141.2 299.5,141.2 300,141.2 300.5,145.5 301,145.5 301.5,145.5 302,145.5 302.5,146.4 303,147.8 303.5,147.8 304,147.8 304.5,150 305,150 305.5,150 306,149.1 306.5,147.7 307,147.7 307.5,147.7 308,147.3 308.5,147.3 309,147.3 309.5,147.3 310,147.3 310.5,150.3 311,150.3 311.5,150.3 312,148.2 312.5,146.7 313,146.7 313.5,146.7 314,146.7 314.5,148.1 315,148.1 315.5,148.1 316,148.1 316.5,144.5 317,144.5 317.5,144.5 318,144.5 318.5,144.5 319,147.2 319.6,147.2 320.1,147.2 320.6,147.4 321.1,148.5 321.6,148.5 322.1,148.5 322.6,147.4 323.1,147.4 323.6,147.4 324.1,147.4 324.6,146.9 325.1,146.9 325.6,146.9 326.1,146.9 326.6,149.1 327.1,149.1 327.6,149.1 328.1,149.1 328.6,146.6 329.1,146.6 329.6,146.6 330.1,146.6 330.6,144.6 331.1,144.6 331.6,144.6 332.1,144.6 332.6,144.6 333.1,146 333.6,146 334.1,146 334.6,150.1 335.1,150.1 335.6,150.1 336.1,150.1 336.6,149.4 337.1,149.4 337.6,149.4 338.1,149.4 338.6,147.7 339.1,147.7 339.6,147.7 340.1,147.7 340.6,146.5 341.1,146.5 341.6,146.5 342.1,146.5 342.6,146 343.1,146 343.6,146 344.1,146 344.6,148.8 345.1,149.9 345.6,149.9 346.1,149.9 346.6,149.9 347.1,151.1 347.6,151.1 348.1,151.1 348.6,150.2 349.1,149.1 349.6,149.1 350.1,149.1 350.6,149.1 351.1,148 351.6,148 352.1,148 352.6,146.2 353.2,146.2 353.7,146.2 354.2,146.2 354.7,146.2 355.2,147.5 355.7,147.5 356.2,147.5 356.7,146.7 357.2,145.8 357.7,145.8 358.2,145.8 358.7,145.8 359.2,148.8 359.7,148.8 360.2,148.8 360.7,148.1 361.2,148.1 361.7,148.1 362.2,148.1 362.7,148.1 363.2,150.6 363.7,150.6 364.2,150.6 364.4,150.6 364.4,155.2 364.2,155.2 363.7,156.7 363.2,156.7 362.7,156.7 362.2,156.7 361.7,156.6 361.2,157.2 360.7,157.2 360.2,157.2 359.7,157.2 359.2,156.9 358.7,156.9 358.2,156.9 357.7,160.6 357.2,160.6 356.7,160.6 356.2,160.6 355.7,160.6 355.2,157.8 354.7,157.8 354.2,157.8 353.7,157.8 353.2,156.8 352.6,156.8 352.1,157.4 351.6,157.4 351.1,157.4 350.6,157.4 350.1,157.4 349.6,155.7 349.1,155.3 348.6,155.3 348.1,155.3 347.6,157.2 347.1,157.2 346.6,157.2 346.1,157.2 345.6,157.2 345.1,155.9 344.6,155.9 344.1,155.9 343.6,162.1 343.1,162.1 342.6,162.1 342.1,162.1 341.6,162.1 341.1,156.1 340.6,156.1 340.1,156.1 339.6,156.1 339.1,158.9 338.6,158.9 338.1,158.9 337.6,159.2 337.1,159.2 336.6,159.2 336.1,159.2 335.6,159.2 335.1,156.5 334.6,156.5 334.1,156.5 333.6,156.7 333.1,156.8 332.6,156.8 332.1,156.8 331.6,158.8 331.1,158.9 330.6,158.9 330.1,158.9 329.6,158.9 329.1,159.1 328.6,159.1 328.1,159.1 327.6,159.1 327.1,158.2 326.6,158.2 326.1,158.2 325.6,158.2 325.1,158.4 324.6,158.4 324.1,158.4 323.6,158.4 323.1,157.6 322.6,155.7 322.1,155.7 321.6,158 321.1,158.1 320.6,158.1 320.1,158.1 319.6,158.1 319,160 318.5,160 318,160 317.5,160 317,160 316.5,157.5 316,157.5 315.5,157.5 315,157.4 314.5,157.4 314,157.4 313.5,157.4 313,157.8 312.5,157.8 312,157.8 311.5,157.8 311,157.9 310.5,157.9 310,157.9 309.5,157.9 309,156.7 308.5,156.7 308,156.7 307.5,156.7 307,158.3 306.5,158.3 306,158.3 305.5,158.3 305,156.8 304.5,156.8 304,156.8 303.5,158.9 303,160 302.5,160 302,160 301.5,160 301,159.5 300.5,159.5 300,159.5 299.5,159.5 299,160.4 298.5,160.4 298,160.4 297.5,160.4 297,162.3 296.5,164 296,164 295.5,164 295,164 294.5,168.2 294,168.2 293.5,168.2 293,168.2 292.5,171.5 292,174.6 291.5,174.6 291,174.6 290.5,174.6 290,179.4 289.5,179.4 289,179.4 288.5,179.4 288,179.4 287.5,180.8 287,180.8 286.5,180.8 286,180.8 285.5,178.5 284.9,178.5 284.4,178.5 283.9,178.5 283.4,178.5 282.9,173 282.4,173 281.9,173 281.4,173 280.9,167.4 280.4,167.4 279.9,167.4 279.4,167.4 278.9,167.4 278.4,162.7 277.9,162.7 277.4,162.7 276.9,162.7 276.4,160.4 275.9,159.5 275.4,159.5 274.9,159.5 274.4,159.5 273.9,153.7 273.4,153.7 272.9,153.7 272.4,154.6 271.9,154.6 271.4,154.6 270.9,155.7 270.4,159.5 269.9,159.5 269.4,159.5 268.9,159.5 268.4,158.2 267.9,158.2 267.4,158.2 266.9,160.3 266.4,160.3 265.9,160.3 265.4,163.6 264.9,163.6 264.4,170.2 263.9,170.2 263.4,170.2 262.9,170.2 262.4,170.2 261.9,167.8 261.4,167.8 260.9,167.8 260.4,155.2" fill="#cfe2f3" opacity="1.0"/>
<polyline points="260.4,150.3 260.6,147.9 260.9,152.2 261.1,155.2 261.4,154 261.6,161.9 261.9,167.8 262.1,165.3 262.4,158.4 262.6,149.2 262.9,160.4 263.1,167.8 263.4,170.2 263.6,166.9 263.9,157.9 264.1,163.2 264.4,163.6 264.6,158.1 264.9,154.9 265.1,154.9 265.4,155.9 265.6,160 265.9,160.3 266.1,152.6 266.4,153.1 266.6,151.2 266.9,152.7 267.1,153.7 267.4,155.7 267.6,156.7 267.9,156 268.1,158.2 268.4,149.9 268.7,149.8 268.9,149 269.2,149 269.4,154.5 269.7,159.5 269.9,154.1 270.2,155.7 270.4,151.2 270.7,149.8 270.9,148.4 271.2,152.7 271.4,151.6 271.7,154.6 271.9,151.2 272.2,153 272.4,151.6 272.7,148.2 272.9,151.8 273.2,153.7 273.4,151.4 273.7,153.6 273.9,153.6 274.2,148.5 274.4,149.3 274.7,145.5 274.9,148.1 275.2,155.4 275.4,159.5 275.7,159.1 275.9,155.8 276.2,150.5 276.4,142.2 276.7,144.5 276.9,145.9 277.2,153.3 277.4,160.4 277.7,162.7 277.9,162.1 278.2,151.4 278.4,143.1 278.7,137.6 278.9,138.8 279.2,145.4 279.4,153.7 279.7,165.4 279.9,167.4 280.2,161.2 280.4,149.9 280.7,135.9 280.9,129.9 281.2,131.3 281.4,137.6 281.7,153.7 281.9,165.9 282.2,173 282.4,165.3 282.7,150.7 282.9,133.3 283.2,121.7 283.4,121.6 283.7,133.9 283.9,153 284.2,169 284.4,178.5 284.7,168.3 284.9,153.3 285.2,130.7 285.5,118.2 285.7,117.8 286,127.6 286.2,152.6 286.5,173.4 286.7,180.8 287,173.5 287.2,151.1 287.5,132.3 287.7,116.3 288,118.3 288.2,129.4 288.5,149.9 288.7,167.2 289,179.4 289.2,171.5 289.5,154.9 289.7,137 290,121.9 290.2,121.1 290.5,135.5 290.7,149.2 291,165.7 291.2,174.6 291.5,171.5 291.7,153.6 292,139.5 292.2,127.4 292.5,125.5 292.7,136.8 293,148.4 293.2,162.6 293.5,168.2 293.7,165.6 294,156.1 294.2,143 294.5,136.4 294.7,135.4 295,140.8 295.2,149 295.5,159.8 295.7,164 296,162.3 296.2,157.2 296.5,148.6 296.7,143 297,137 297.2,141.2 297.5,149.4 297.7,157.5 298,158.4 298.2,160.4 298.5,155.7 298.7,148.2 299,143.3 299.2,141.2 299.5,147.4 299.7,150.1 300,159.5 300.2,158.3 300.5,158.4 300.7,149 301,147.6 301.2,145.5 301.5,146.4 301.7,151.1 302,159.5 302.2,160 302.5,158.9 302.8,151.6 303,148.1 303.3,147.8 303.5,150.6 303.8,153.7 304,156.8 304.3,155.3 304.5,152.2 304.8,155.3 305,150.4 305.3,150.1 305.5,150 305.8,154.9 306,156.1 306.3,158.3 306.5,153.9 306.8,151.6 307,149.1 307.3,147.7 307.5,150.6 307.8,156 308,155.5 308.3,156.7 308.5,155.5 308.8,150.4 309,147.3 309.3,150.2 309.5,151.5 309.8,151 310,153.9 310.3,157.9 310.5,157 310.8,153.2 311,150.5 311.3,151.4 311.5,150.3 311.8,155.1 312,157.8 312.3,155.6 312.5,156.7 312.8,152.5 313,148.2 313.3,146.7 313.5,150 313.8,152.9 314,157.4 314.3,154.4 314.5,154.6 314.8,154.3 315,150 315.3,148.1 315.5,149.6 315.8,149.9 316,153.2 316.3,157.5 316.5,155.9 316.8,154.8 317,149 317.3,147.3 317.5,144.5 317.8,152.3 318,160 318.3,159.8 318.5,157.1 318.8,155.1 319,150.1 319.3,147.2 319.6,147.4 319.8,152.4 320.1,158.1 320.3,157.6 320.6,158 320.8,154.2 321.1,151.9 321.3,149.6 321.6,148.5 321.8,154.7 322.1,154.8 322.3,154.4 322.6,155.7 322.8,152.9 323.1,152.6 323.3,147.4 323.6,148.1 323.8,151.6 324.1,157.6 324.3,158.4 324.6,154.9 324.8,151 325.1,150.1 325.3,146.9 325.6,150.3 325.8,152.1 326.1,154.6 326.3,155.6 326.6,158.2 326.8,152.2 327.1,149.1 327.3,151.4 327.6,152.1 327.8,151.3 328.1,155.1 328.3,159.1 328.6,153.9 328.8,153.3 329.1,152.3 329.3,146.6 329.6,149.4 329.8,152.6 330.1,154.4 330.3,158.9 330.6,158.8 330.8,154.2 331.1,151.1 331.3,147.6 331.6,144.6 331.8,149.2 332.1,153.6 332.3,156.8 332.6,156.7 332.8,152.5 333.1,151.2 333.3,146 333.6,150.4 333.8,151.5 334.1,156.1 334.3,156.5 334.6,155.2 334.8,152 335.1,152.8 335.3,150.1 335.6,150.6 335.8,152.4 336.1,155.5 336.4,155.8 336.6,159.2 336.9,154.7 337.1,151.6 337.4,149.7 337.6,149.4 337.9,152.1 338.1,151 338.4,158.9 338.6,154.8 338.9,154.2 339.1,152.5 339.4,151.3 339.6,147.7 339.9,148.2 340.1,154.8 340.4,156.1 340.6,155 340.9,154.7 341.1,148.9 341.4,149.6 341.6,146.5 341.9,151.2 342.1,150.4 342.4,158.9 342.6,162.1 342.9,156.4 343.1,152.4 343.4,146 343.6,148.8 343.9,150.2 344.1,152.2 344.4,152.8 344.6,155.9 344.9,153.1 345.1,151.8 345.4,151.1 345.6,149.9 345.9,151 346.1,154.3 346.4,152.6 346.6,157.2 346.9,152.5 347.1,151.2 347.4,151.1 347.6,151.3 347.9,151.2 348.1,152 348.4,153.6 348.6,155.3 348.9,153.4 349.1,153.7 349.4,150.2 349.6,151.9 349.9,149.1 350.1,152.3 350.4,155.7 350.6,154.5 350.9,154.5 351.1,157.4 351.4,150.2 351.6,151.1 351.9,148 352.1,148.5 352.4,156.1 352.6,156.8 352.9,156.5 353.2,152.8 353.4,149.1 353.7,146.2 353.9,150.3 354.2,149.5 354.4,157.3 354.7,157.8 354.9,155.8 355.2,152.8 355.4,150.7 355.7,147.5 355.9,148.2 356.2,151.5 356.4,154.3 356.7,160.6 356.9,157 357.2,153.2 357.4,149 357.7,146.7 357.9,145.8 358.2,150.7 358.4,153.9 358.7,156.5 358.9,154 359.2,156.9 359.4,148.8 359.7,149.3 359.9,149.8 360.2,153.1 360.4,157.2 360.7,156.4 360.9,156.6 361.2,152.9 361.4,153.9 361.7,148.1 361.9,150.2 362.2,152.4 362.4,154.7 362.7,156.1 362.9,156.7 363.2,154.5 363.4,151.8 363.7,150.6 363.9,152.4 364.2,152 364.4,155.2" fill="none" stroke="#0072BD" stroke-width="0.55" stroke-linejoin="round" />
<polyline points="260.4,145 260.6,140.2 260.9,138.9 261.1,138.5 261.4,140.6 261.6,142.6 261.9,145.7 262.1,144.5 262.4,146.2 262.6,143.4 262.9,141.7 263.1,138.9 263.4,137 263.6,141 263.9,142.8 264.1,145.4 264.4,143.9 264.6,145.3 264.9,143.3 265.1,141.7 265.4,140.8 265.6,139.2 265.9,138.3 266.1,144.7 266.4,143.3 266.6,143.8 266.9,144.1 267.1,141.2 267.4,139.8 267.6,140.3 267.9,138.3 268.1,145.1 268.4,144 268.7,144.5 268.9,144.5 269.2,141.3 269.4,138.3 269.7,138.4 269.9,139.1 270.2,141 270.4,146.7 270.7,143.5 270.9,141.9 271.2,141.3 271.4,138.8 271.7,140.4 271.9,139.1 272.2,141.9 272.4,144 272.7,143.6 272.9,145.8 273.2,143.5 273.4,143.5 273.7,139.8 273.9,139 274.2,141.1 274.4,143.2 274.7,141.9 274.9,146.4 275.2,145.4 275.4,143.1 275.7,138.4 275.9,136.1 276.2,138.6 276.4,142.1 276.7,144.8 276.9,145.4 277.2,147.8 277.4,142.1 277.7,137.7 277.9,135.6 278.2,134.3 278.4,137.6 278.7,141.8 278.9,149.3 279.2,147.6 279.4,146.7 279.7,142.2 279.9,136.5 280.2,135.1 280.4,138.1 280.7,143.5 280.9,147.5 281.2,146.9 281.4,145 281.7,142.5 281.9,137.1 282.2,136.5 282.4,136.5 282.7,139.4 282.9,145.7 283.2,149.3 283.4,148.5 283.7,145.9 283.9,141.5 284.2,135.2 284.4,134.6 284.7,135.7 284.9,142.6 285.2,148.8 285.5,150.9 285.7,149.1 286,143.5 286.2,136 286.5,130.4 286.7,132 287,137.8 287.2,149.7 287.5,153.2 287.7,152.6 288,145.8 288.2,138.5 288.5,132.7 288.7,130.6 289,136.3 289.2,145.6 289.5,148.9 289.7,150.9 290,149.1 290.2,140.3 290.5,135.7 290.7,130.9 291,135.1 291.2,142.1 291.5,148 291.7,151.5 292,148.7 292.2,143.6 292.5,138.2 292.7,135.8 293,140.2 293.2,139.3 293.5,146.4 293.7,146.9 294,146.2 294.2,144.6 294.5,141.3 294.7,137.6 295,136.6 295.2,139.1 295.5,142.9 295.7,146.9 296,145.8 296.2,146 296.5,141.3 296.7,139.1 297,136.7 297.2,137.8 297.5,140 297.7,143.3 298,146.5 298.2,147.2 298.5,144.7 298.7,138.5 299,138.7 299.2,138.7 299.5,138.2 299.7,141.2 300,143.7 300.2,145.3 300.5,141 300.7,141.4 301,139 301.2,138.8 301.5,141.1 301.7,143.2 302,143.6 302.2,145.1 302.5,145.5 302.8,144.4 303,142.1 303.3,139 303.5,140.6 303.8,139.4 304,141.5 304.3,141.2 304.5,143.8 304.8,144.4 305,142.5 305.3,143.5 305.5,139.1 305.8,139.7 306,140.8 306.3,143.9 306.5,145.4 306.8,145 307,141.7 307.3,137.8 307.5,139.5 307.8,139.4 308,142.7 308.3,141.3 308.5,143.1 308.8,143.6 309,144.5 309.3,141 309.5,139.8 309.8,139 310,140.4 310.3,141.8 310.5,145.1 310.8,144.4 311,144.2 311.3,142.3 311.5,139.4 311.8,138.5 312,137.8 312.3,141.6 312.5,143.9 312.8,146.5 313,147.5 313.3,142.1 313.5,141.4 313.8,137.3 314,137.7 314.3,142.3 314.5,144.1 314.8,145.6 315,146.2 315.3,145.2 315.5,140.6 315.8,140 316,138.4 316.3,140.2 316.5,141.5 316.8,145.2 317,145.7 317.3,144.4 317.5,142.6 317.8,140.2 318,139 318.3,137.9 318.5,140.1 318.8,144 319,146.9 319.3,145.4 319.6,140.9 319.8,141.2 320.1,137.8 320.3,137.3 320.6,142.7 320.8,142.2 321.1,145.5 321.3,143.5 321.6,144.4 321.8,143 322.1,140.5 322.3,139.3 322.6,140.6 322.8,141.5 323.1,145.1 323.3,145.2 323.6,143.9 323.8,140.7 324.1,139.6 324.3,138.1 324.6,136.6 324.8,138.8 325.1,140.8 325.3,143.6 325.6,145.5 325.8,143.6 326.1,141.4 326.3,139.4 326.6,138.9 326.8,141 327.1,144.4 327.3,144.7 327.6,147.7 327.8,144.8 328.1,142.7 328.3,141.9 328.6,136.8 328.8,136.6 329.1,140 329.3,141.8 329.6,144.5 329.8,148.7 330.1,143.4 330.3,140.1 330.6,136.5 330.8,134.9 331.1,139 331.3,143.1 331.6,147.5 331.8,149 332.1,146.6 332.3,144.2 332.6,139.5 332.8,135.3 333.1,137.1 333.3,140.1 333.6,147.2 333.8,148.6 334.1,148.1 334.3,144.2 334.6,140.4 334.8,135.1 335.1,135.9 335.3,138.6 335.6,143.3 335.8,146.6 336.1,149.5 336.4,145.2 336.6,140.9 336.9,136 337.1,133.7 337.4,135 337.6,139.9 337.9,146.3 338.1,150.1 338.4,148 338.6,143.8 338.9,136.6 339.1,134.7 339.4,137.8 339.6,137.5 339.9,144.1 340.1,149.2 340.4,148.4 340.6,146.4 340.9,138.1 341.1,136.3 341.4,137.8 341.6,137.4 341.9,142.7 342.1,143.7 342.4,149.1 342.6,149.4 342.9,142.6 343.1,138.3 343.4,135.5 343.6,138.3 343.9,139.4 344.1,143.6 344.4,152.2 344.6,148.3 344.9,146 345.1,136.4 345.4,134.3 345.6,134.5 345.9,136.4 346.1,142.6 346.4,148.6 346.6,148.3 346.9,147.5 347.1,144 347.4,134 347.6,134.4 347.9,136.4 348.1,140.5 348.4,148.8 348.6,152.2 348.9,150.2 349.1,145 349.4,138.1 349.6,133 349.9,135.3 350.1,138.2 350.4,143.4 350.6,149.2 350.9,148 351.1,146.5 351.4,139.6 351.6,136.5 351.9,135.7 352.1,139.3 352.4,141.8 352.6,147.3 352.9,147.5 353.2,147.1 353.4,143.9 353.7,137 353.9,134.3 354.2,136.5 354.4,138.3 354.7,145.6 354.9,149.5 355.2,149.2 355.4,146.4 355.7,140.1 355.9,135.4 356.2,132.7 356.4,136 356.7,143.2 356.9,145.1 357.2,148.3 357.4,145.6 357.7,140.9 357.9,137.9 358.2,133.7 358.4,137.6 358.7,142.6 358.9,143 359.2,147 359.4,146.3 359.7,147 359.9,138.9 360.2,137.1 360.4,137.3 360.7,139 360.9,140.9 361.2,145 361.4,144.1 361.7,144.8 361.9,142 362.2,138.3 362.4,138.5 362.7,141.6 362.9,141.4 363.2,144 363.4,145.6 363.7,143.5 363.9,142.9 364.2,142.6 364.4,141" fill="none" stroke="#D95319" stroke-width="0.55" stroke-linejoin="round" />
<rect x="271.3" y="113" width="31.5" height="68" fill="none" stroke="#4a4a4a" stroke-width="0.8" />
<text x="307" y="131.9" font-size="7.4" font-family="'Liberation Serif','Noto Serif CJK SC',serif" text-anchor="start" fill="#333" >Rayleigh</text>
<polyline points="302.8,140.5 309.9,134.1 328.5,134.1" fill="none" stroke="#444" stroke-width="0.6"/>
<text x="346.4" y="120.3" font-size="7.2" font-family="'Liberation Serif','Noto Serif CJK SC',serif" fill="#444" textLength="6.6" lengthAdjust="spacingAndGlyphs">air</text>
<line x1="354" y1="119" x2="368.3" y2="119" stroke="#6ba6dd" stroke-width="1.1" />
<text x="324" y="126.1" font-size="7.2" font-family="'Liberation Serif','Noto Serif CJK SC',serif" fill="#444" textLength="29.0" lengthAdjust="spacingAndGlyphs">underwater</text>
<line x1="354" y1="124.8" x2="368.3" y2="124.8" stroke="#ea8d66" stroke-width="1.1" />
<rect x="327.3" y="135.9" width="30.5" height="18.2" fill="none" stroke="#4a4a4a" stroke-width="0.8" />
<text x="318.3" y="177.3" font-size="7.6" font-family="'Liberation Serif','Noto Serif CJK SC',serif" text-anchor="start" fill="#333" >underwater sound</text>
<polyline points="327.3,154.1 315.4,177.8 353,177.8" fill="none" stroke="#444" stroke-width="0.6"/>
<text x="379" y="112.1" font-size="18.5" font-family="'Liberation Serif','Noto Serif CJK SC',serif" text-anchor="start" fill="#111" stroke="#111" stroke-width="0.3">(e)</text>
<rect x="411.3" y="105.4" width="124.7" height="86.4" fill="none" stroke="#b8b8b8" stroke-width="0.7" />
<text transform="translate(409.7,111.8) scale(1.12,1)" font-size="6.4" font-family="'Liberation Serif','Noto Serif CJK SC',serif" text-anchor="end" fill="#3a3a3a" stroke="#3a3a3a" stroke-width="0.18">0.3</text>
<line x1="411.3" y1="110.2" x2="412.5" y2="110.2" stroke="#999" stroke-width="0.4" />
<line x1="536" y1="110.2" x2="534.8" y2="110.2" stroke="#999" stroke-width="0.4" />
<text transform="translate(409.7,125.4) scale(1.12,1)" font-size="6.4" font-family="'Liberation Serif','Noto Serif CJK SC',serif" text-anchor="end" fill="#3a3a3a" stroke="#3a3a3a" stroke-width="0.18">0.2</text>
<line x1="411.3" y1="123.8" x2="412.5" y2="123.8" stroke="#999" stroke-width="0.4" />
<line x1="536" y1="123.8" x2="534.8" y2="123.8" stroke="#999" stroke-width="0.4" />
<text transform="translate(409.7,139) scale(1.12,1)" font-size="6.4" font-family="'Liberation Serif','Noto Serif CJK SC',serif" text-anchor="end" fill="#3a3a3a" stroke="#3a3a3a" stroke-width="0.18">0.1</text>
<line x1="411.3" y1="137.4" x2="412.5" y2="137.4" stroke="#999" stroke-width="0.4" />
<line x1="536" y1="137.4" x2="534.8" y2="137.4" stroke="#999" stroke-width="0.4" />
<text transform="translate(409.7,152.6) scale(1.12,1)" font-size="6.4" font-family="'Liberation Serif','Noto Serif CJK SC',serif" text-anchor="end" fill="#3a3a3a" stroke="#3a3a3a" stroke-width="0.18">0</text>
<line x1="411.3" y1="151" x2="412.5" y2="151" stroke="#999" stroke-width="0.4" />
<line x1="536" y1="151" x2="534.8" y2="151" stroke="#999" stroke-width="0.4" />
<text transform="translate(409.7,166.2) scale(1.12,1)" font-size="6.4" font-family="'Liberation Serif','Noto Serif CJK SC',serif" text-anchor="end" fill="#3a3a3a" stroke="#3a3a3a" stroke-width="0.18">-0.1</text>
<line x1="411.3" y1="164.6" x2="412.5" y2="164.6" stroke="#999" stroke-width="0.4" />
<line x1="536" y1="164.6" x2="534.8" y2="164.6" stroke="#999" stroke-width="0.4" />
<text transform="translate(409.7,179.8) scale(1.12,1)" font-size="6.4" font-family="'Liberation Serif','Noto Serif CJK SC',serif" text-anchor="end" fill="#3a3a3a" stroke="#3a3a3a" stroke-width="0.18">-0.2</text>
<line x1="411.3" y1="178.2" x2="412.5" y2="178.2" stroke="#999" stroke-width="0.4" />
<line x1="536" y1="178.2" x2="534.8" y2="178.2" stroke="#999" stroke-width="0.4" />
<text transform="translate(428.9,197.9) scale(1.12,1)" font-size="6.4" font-family="'Liberation Serif','Noto Serif CJK SC',serif" text-anchor="middle" fill="#3a3a3a" stroke="#3a3a3a" stroke-width="0.18">2</text>
<line x1="428.9" y1="191.8" x2="428.9" y2="190.6" stroke="#999" stroke-width="0.4" />
<line x1="428.9" y1="105.4" x2="428.9" y2="106.6" stroke="#999" stroke-width="0.4" />
<text transform="translate(448,197.9) scale(1.12,1)" font-size="6.4" font-family="'Liberation Serif','Noto Serif CJK SC',serif" text-anchor="middle" fill="#3a3a3a" stroke="#3a3a3a" stroke-width="0.18">3</text>
<line x1="448" y1="191.8" x2="448" y2="190.6" stroke="#999" stroke-width="0.4" />
<line x1="448" y1="105.4" x2="448" y2="106.6" stroke="#999" stroke-width="0.4" />
<text transform="translate(467.1,197.9) scale(1.12,1)" font-size="6.4" font-family="'Liberation Serif','Noto Serif CJK SC',serif" text-anchor="middle" fill="#3a3a3a" stroke="#3a3a3a" stroke-width="0.18">4</text>
<line x1="467.1" y1="191.8" x2="467.1" y2="190.6" stroke="#999" stroke-width="0.4" />
<line x1="467.1" y1="105.4" x2="467.1" y2="106.6" stroke="#999" stroke-width="0.4" />
<text transform="translate(486.2,197.9) scale(1.12,1)" font-size="6.4" font-family="'Liberation Serif','Noto Serif CJK SC',serif" text-anchor="middle" fill="#3a3a3a" stroke="#3a3a3a" stroke-width="0.18">5</text>
<line x1="486.2" y1="191.8" x2="486.2" y2="190.6" stroke="#999" stroke-width="0.4" />
<line x1="486.2" y1="105.4" x2="486.2" y2="106.6" stroke="#999" stroke-width="0.4" />
<text transform="translate(505.3,197.9) scale(1.12,1)" font-size="6.4" font-family="'Liberation Serif','Noto Serif CJK SC',serif" text-anchor="middle" fill="#3a3a3a" stroke="#3a3a3a" stroke-width="0.18">6</text>
<line x1="505.3" y1="191.8" x2="505.3" y2="190.6" stroke="#999" stroke-width="0.4" />
<line x1="505.3" y1="105.4" x2="505.3" y2="106.6" stroke="#999" stroke-width="0.4" />
<text transform="translate(524.4,197.9) scale(1.12,1)" font-size="6.4" font-family="'Liberation Serif','Noto Serif CJK SC',serif" text-anchor="middle" fill="#3a3a3a" stroke="#3a3a3a" stroke-width="0.18">7</text>
<line x1="524.4" y1="191.8" x2="524.4" y2="190.6" stroke="#999" stroke-width="0.4" />
<line x1="524.4" y1="105.4" x2="524.4" y2="106.6" stroke="#999" stroke-width="0.4" />
<text transform="translate(397,154) rotate(-90)" font-size="6.8" font-family="'Liberation Serif','Noto Serif CJK SC',serif" fill="#3a3a3a" stroke="#3a3a3a" stroke-width="0.12" textLength="25.8" lengthAdjust="spacingAndGlyphs">Amplitude</text>
<text transform="translate(397,126.3) rotate(-90)" font-size="6.8" font-family="'Liberation Serif','Noto Serif CJK SC',serif" fill="#3a3a3a" stroke="#3a3a3a" stroke-width="0.12" textLength="9.6" lengthAdjust="spacingAndGlyphs">(V)</text>
<text x="461.8" y="204.5" font-size="8.8" font-family="'Liberation Serif','Noto Serif CJK SC',serif" fill="#333" stroke="#333" stroke-width="0.12" textLength="32.7" lengthAdjust="spacingAndGlyphs">Time（s）</text>
<text x="525.2" y="203.4" font-size="7.4" font-family="'Liberation Serif','Noto Serif CJK SC',serif" text-anchor="start" fill="#444" >×</text>
<text x="529.3" y="199.7" font-size="4.6" font-family="'Liberation Sans','Noto Sans CJK SC',sans-serif" fill="#444">10<tspan font-size="3.4" dy="-1.6">-5</tspan></text>
<line x1="412.3" y1="105.4" x2="412.3" y2="191.8" stroke="#f0b9a0" stroke-width="0.8" />
<line x1="416.1" y1="105.4" x2="416.1" y2="191.8" stroke="#f0b9a0" stroke-width="0.8" />
<line x1="419.9" y1="105.4" x2="419.9" y2="191.8" stroke="#f0b9a0" stroke-width="0.8" />
<polyline points="421.3,105.4 421.4,105.4 421.6,105.4 421.8,105.4 422,105.4 422.1,105.4 422.3,105.4 422.5,105.4 422.6,105.4 422.8,105.4 423,105.4 423.2,105.4 423.3,105.4 423.5,106 423.7,107.7 423.9,109.5 424,111.2 424.2,112.8 424.4,114.4 424.6,116 424.7,117.6 424.9,119.2 425.1,120.8 425.3,122.4 425.4,124 425.6,125.6 425.8,127.2 425.9,128.8 426.1,130.5 426.3,132.1 426.5,133.7 426.6,135.3 426.8,136.9 427,138.5 427.2,140.1 427.3,141.7 427.5,143.3 427.7,144.9 427.9,145.8 428,146.2 428.2,146.6 428.4,147 428.6,147.5 428.7,147.9 428.9,148.3" fill="none" stroke="#0072BD" stroke-width="0.8" stroke-linejoin="round" />
<polygon points="427.9,146.3 428.4,146.3 428.9,143.9 429.5,143.2 430,143.2 430.5,143.2 431,143.2 431.5,143.2 432,143.2 432.5,140.9 433,136.8 433.5,136.8 434,136.8 434.5,136.8 435,136.8 435.5,136.8 436,136.5 436.5,128.3 437,128.3 437.5,128.3 438,128.3 438.5,128.3 439,128.3 439.5,128.3 440,119.6 440.5,119.6 441,119.6 441.5,119.6 442,119.6 442.5,119.6 443,119.6 443.5,115.1 444,115.1 444.5,115.1 445,115.1 445.5,115.1 446,115.1 446.5,115.1 447,114.8 447.5,112.2 448,112.2 448.5,112.2 449,112.2 449.5,112.2 450,112.2 450.5,112.2 451,110.9 451.5,110.9 452,110.9 452.6,110.9 453.1,110.9 453.6,110.9 454.1,110.9 454.6,110.9 455.1,113.5 455.6,113.6 456.1,113.6 456.6,113.6 457.1,113.6 457.6,113.6 458.1,113.6 458.6,113.9 459.1,117.1 459.6,117.1 460.1,117.1 460.6,117.1 461.1,117.1 461.6,117.1 462.1,117.1 462.6,125.1 463.1,125.1 463.6,125.1 464.1,125.1 464.6,125.1 465.1,125.1 465.6,125.1 466.1,131.3 466.6,134.4 467.1,134.4 467.6,134.4 468.1,134.4 468.6,134.4 469.1,134.4 469.6,137.1 470.1,140 470.6,140 471.1,140 471.6,140 472.1,140 472.6,140 473.1,145.6 473.6,146.2 474.1,146.2 474.6,146.2 475.1,146.2 475.7,146.2 476.2,146.2 476.7,147.1 477.2,147.1 477.7,146.9 478.2,145.8 478.7,145.8 479.2,145.8 479.7,145.8 480.2,145.8 480.7,145.8 481.2,145.8 481.7,145.8 482.2,146.6 482.7,146.6 483.2,146.6 483.7,146.6 484.2,146.6 484.7,146.6 485.2,146.6 485.7,147.1 486.2,147.4 486.7,147.4 487.2,147.4 487.7,147.3 488.2,146.1 488.7,146.1 489.2,146.1 489.7,146.1 490.2,146.1 490.7,146.1 491.2,145.5 491.7,145.5 492.2,145.5 492.7,145.5 493.2,145.5 493.7,145.5 494.2,145.5 494.7,145.5 495.2,145.5 495.7,145.8 496.2,146.7 496.7,146.7 497.2,146.7 497.7,146.7 498.2,146.4 498.7,146.4 499.3,146.4 499.8,146.4 500.3,146.4 500.8,146.4 501.3,146.4 501.8,145.2 502.3,145.2 502.8,145.2 503.3,145.2 503.8,145.2 504.3,145.2 504.8,145.2 505.3,145.2 505.8,145.2 506.3,145.9 506.8,145.9 507.3,145.9 507.8,145.9 508.3,145.9 508.8,145.9 509.3,146.2 509.8,147.3 510.3,147.3 510.8,147.3 511.3,147.3 511.8,147.3 512.3,146.3 512.8,146.3 513.3,146.3 513.8,146.3 514.3,146.3 514.8,146.3 515.3,146.3 515.8,146.3 516.3,146.6 516.8,146.6 517.3,146.6 517.8,146.6 518.3,146.6 518.8,145.6 519.3,145.6 519.8,145.6 520.3,145.6 520.8,145.6 521.3,145.6 521.8,145.6 522.4,145.6 522.9,145.6 523.4,146.6 523.9,147 524.4,147 524.9,147 525.4,146.8 525.9,146.3 526.4,146.3 526.9,146.3 527.4,146.3 527.9,146.3 528.4,146.3 528.9,146.3 529.4,146.3 529.9,146.4 530.4,146.4 530.9,146.4 531.4,146.4 531.9,146.4 532.4,146.4 532.9,146.4 533.4,146.4 533.9,146.7 534.4,146.7 534.9,146.7 534.9,152.8 534.4,152.8 533.9,152.8 533.4,152.8 532.9,152.8 532.4,152.8 531.9,152.8 531.4,152.8 530.9,152.8 530.4,152.1 529.9,152.1 529.4,152.1 528.9,152.1 528.4,152.2 527.9,153.8 527.4,153.8 526.9,153.8 526.4,153.8 525.9,153.8 525.4,153.8 524.9,153.8 524.4,153.8 523.9,153.5 523.4,153.5 522.9,153.5 522.4,153.5 521.8,153.5 521.3,153.5 520.8,153.5 520.3,153.1 519.8,152.3 519.3,152.3 518.8,152.3 518.3,152.3 517.8,153 517.3,153 516.8,153 516.3,153 515.8,153 515.3,153 514.8,153 514.3,153 513.8,153 513.3,151.6 512.8,151.6 512.3,151.6 511.8,151.6 511.3,151.9 510.8,152.4 510.3,152.4 509.8,152.4 509.3,152.4 508.8,152.4 508.3,152.4 507.8,152.4 507.3,152.9 506.8,152.9 506.3,152.9 505.8,152.9 505.3,152.9 504.8,152.9 504.3,152.9 503.8,153.9 503.3,153.9 502.8,153.9 502.3,153.9 501.8,153.9 501.3,153.9 500.8,153.9 500.3,153.9 499.8,152.3 499.3,152.3 498.7,152.3 498.2,152.3 497.7,152.3 497.2,153.6 496.7,153.6 496.2,153.6 495.7,153.6 495.2,153.6 494.7,153.6 494.2,153.6 493.7,153.6 493.2,153.1 492.7,153.1 492.2,153.1 491.7,153.1 491.2,153.1 490.7,153.1 490.2,153.1 489.7,152.5 489.2,151.8 488.7,151.8 488.2,151.8 487.7,151.8 487.2,152.2 486.7,152.3 486.2,152.3 485.7,152.3 485.2,152.3 484.7,152.3 484.2,152.3 483.7,153.3 483.2,153.6 482.7,153.6 482.2,153.6 481.7,153.6 481.2,153.6 480.7,153.6 480.2,153.6 479.7,153.6 479.2,152.4 478.7,152.4 478.2,152.4 477.7,152.4 477.2,152.4 476.7,152.4 476.2,152.2 475.7,151.3 475.1,151.3 474.6,153.2 474.1,154.3 473.6,154.3 473.1,154.3 472.6,154.3 472.1,154.3 471.6,156 471.1,161.1 470.6,161.4 470.1,161.4 469.6,161.4 469.1,161.4 468.6,161.4 468.1,161.4 467.6,168.9 467.1,170 466.6,170 466.1,170 465.6,170 465.1,170 464.6,170 464.1,176.2 463.6,178.9 463.1,178.9 462.6,178.9 462.1,178.9 461.6,178.9 461.1,178.9 460.6,178.9 460.1,184.6 459.6,184.6 459.1,184.6 458.6,184.6 458.1,184.6 457.6,184.6 457.1,184.6 456.6,186.4 456.1,186.4 455.6,186.4 455.1,186.4 454.6,186.4 454.1,186.4 453.6,186.4 453.1,187.4 452.6,187.4 452,187.4 451.5,187.4 451,187.4 450.5,187.4 450,187.4 449.5,187.4 449,187.4 448.5,184.3 448,184.3 447.5,184.3 447,184.3 446.5,184.3 446,184.3 445.5,184.3 445,182 444.5,182 444,182 443.5,182 443,182 442.5,182 442,182 441.5,175.4 441,175.3 440.5,175.3 440,175.3 439.5,175.3 439,175.3 438.5,175.3 438,172.1 437.5,164.7 437,164.7 436.5,164.7 436,164.7 435.5,164.7 435,164.7 434.5,164.5 434,158.7 433.5,158.7 433,158.7 432.5,158.7 432,158.7 431.5,158.7 431,158.1 430.5,154.2 430,153.4 429.5,153.4 428.9,153.4 428.4,153.4 427.9,153.4" fill="#d3e5f4" opacity="1.0"/>
<polyline points="427.9,146.3 428.2,148.7 428.4,148.8 428.7,149.9 428.9,151.2 429.2,153.3 429.5,153.4 429.7,153 430,151.7 430.2,150.8 430.5,149 430.7,145.7 431,143.9 431.2,143.2 431.5,143.9 431.7,144.6 432,147.1 432.2,149.8 432.5,154.2 432.7,156.3 433,158.1 433.2,158.7 433.5,156.4 433.7,153.2 434,149.1 434.2,144 434.5,140.9 434.7,137.5 435,136.8 435.2,138.8 435.5,142.5 435.7,149.6 436,156.1 436.2,160.8 436.5,164.5 436.7,164.7 437,163.4 437.2,159.1 437.5,151 437.7,143.7 438,136.5 438.2,129 438.5,128.3 438.7,130.2 439,136.1 439.2,144.1 439.5,155 439.7,163.9 440,172.1 440.2,175.3 440.5,172 440.8,165.6 441,156.1 441.3,144.5 441.5,133.2 441.8,125 442,119.6 442.3,121.3 442.5,127.9 442.8,138.9 443,151.8 443.3,165.1 443.5,175.4 443.8,182 444,180.7 444.3,173.3 444.5,163.3 444.8,148.8 445,133.8 445.3,121.8 445.5,115.1 445.8,115.7 446,120.5 446.3,133 446.5,147.7 446.8,162.5 447,176.2 447.3,183.8 447.5,184.3 447.8,180.4 448,169.2 448.3,154.9 448.5,138.6 448.8,124.6 449,114.8 449.3,112.2 449.5,116.2 449.8,126.5 450,141.9 450.3,158.6 450.5,173.5 450.8,183 451,187.4 451.3,183.8 451.5,174.1 451.8,160.5 452,143.4 452.3,129.1 452.6,115.6 452.8,110.9 453.1,113.5 453.3,122.6 453.6,135.5 453.8,153 454.1,168.2 454.3,179.6 454.6,186.4 454.8,186.1 455.1,177.8 455.3,166 455.6,149.5 455.8,134.2 456.1,121.6 456.3,113.6 456.6,113.9 456.8,118.6 457.1,131.7 457.3,145.3 457.6,162.3 457.8,174.2 458.1,183 458.3,184.6 458.6,178.9 458.8,168.2 459.1,155.5 459.3,139.7 459.6,128.3 459.8,119.6 460.1,117.1 460.3,120.7 460.6,130.8 460.8,141.2 461.1,155 461.3,167.2 461.6,175.6 461.8,178.9 462.1,176.2 462.3,167.9 462.6,157.9 462.8,146.8 463.1,135.9 463.3,127.3 463.6,125.1 463.8,126.7 464.1,131.3 464.4,140.3 464.6,150.3 464.9,159.7 465.1,166.9 465.4,170 465.6,168.9 465.9,164.6 466.1,157.6 466.4,149.7 466.6,142.4 466.9,136.7 467.1,134.4 467.4,135.1 467.6,137.1 467.9,142.4 468.1,148.2 468.4,153.8 468.6,158.9 468.9,161.4 469.1,161.1 469.4,159.1 469.6,156 469.9,151 470.1,147.1 470.4,144.1 470.6,141.4 470.9,140 471.1,145.6 471.4,147.3 471.6,149.9 471.9,151.9 472.1,154.3 472.4,152.9 472.6,153.2 472.9,151.9 473.1,150.3 473.4,148.3 473.6,147.4 473.9,146.9 474.1,146.2 474.4,148 474.6,149.3 474.9,149.4 475.1,150.3 475.4,150.4 475.7,151.3 475.9,149.4 476.2,148.8 476.4,147.1 476.7,148.2 476.9,147.3 477.2,148 477.4,149.7 477.7,150.5 477.9,150.6 478.2,152.2 478.4,152.4 478.7,151.1 478.9,150 479.2,148.7 479.4,148.3 479.7,146.9 479.9,145.8 480.2,146.9 480.4,147.7 480.7,148.1 480.9,149.1 481.2,151.9 481.4,153.6 481.7,153.3 481.9,152.6 482.2,151.2 482.4,149.5 482.7,148.5 482.9,147.7 483.2,146.6 483.4,147.1 483.7,147.1 483.9,148.4 484.2,147.8 484.4,150 484.7,151.8 484.9,152.3 485.2,152 485.4,152.2 485.7,150.8 485.9,149.7 486.2,147.7 486.4,147.6 486.7,147.4 486.9,147.8 487.2,148.3 487.5,148.6 487.7,149.8 488,150.1 488.2,151.8 488.5,151.2 488.7,151.4 489,150.9 489.2,151 489.5,149.5 489.7,147.3 490,146.1 490.2,146.4 490.5,146.3 490.7,147.8 491,149.1 491.2,150.8 491.5,151.2 491.7,152.5 492,153.1 492.2,152.6 492.5,150.9 492.7,149.4 493,148.2 493.2,145.5 493.5,145.5 493.7,145.8 494,145.8 494.2,147.4 494.5,149.6 494.7,150.7 495,152.7 495.2,152.9 495.5,153.6 495.7,150.9 496,151.3 496.2,148.6 496.5,148.2 496.7,147.5 497,146.7 497.2,146.7 497.5,147.3 497.7,147.8 498,149.8 498.2,150.7 498.5,152.3 498.7,151.8 499,151.8 499.3,151.2 499.5,149.8 499.8,148.4 500,147.2 500.3,146.4 500.5,146.7 500.8,147.3 501,147.5 501.3,150.2 501.5,151 501.8,150.9 502,153.9 502.3,152.8 502.5,151.4 502.8,151.5 503,147.7 503.3,149.1 503.5,145.8 503.8,145.2 504,145.7 504.3,147.2 504.5,148.2 504.8,150.4 505,150.9 505.3,152.9 505.5,152.8 505.8,151.7 506,151.9 506.3,150.2 506.5,148.5 506.8,148.1 507,145.9 507.3,146.2 507.5,147.6 507.8,147.8 508,149.5 508.3,150.7 508.5,151.4 508.8,152.4 509,151.5 509.3,151.9 509.5,150 509.8,149.4 510,147.8 510.3,147.7 510.6,147.3 510.8,147.8 511.1,147.4 511.3,148 511.6,148.4 511.8,149.7 512.1,151 512.3,151.6 512.6,151.1 512.8,150.8 513.1,149.2 513.3,148.5 513.6,148.5 513.8,147.7 514.1,146.3 514.3,147.1 514.6,148 514.8,148.3 515.1,150.3 515.3,151.2 515.6,152 515.8,153 516.1,151.1 516.3,151.4 516.6,149.9 516.8,148.8 517.1,147 517.3,146.8 517.6,146.6 517.8,148.1 518.1,148.2 518.3,150.2 518.6,150.5 518.8,151.5 519.1,152.3 519.3,151.1 519.6,151.3 519.8,150.1 520.1,149 520.3,147.8 520.6,146.1 520.8,145.6 521.1,147.1 521.3,146.6 521.6,148.2 521.8,149.5 522.1,151.2 522.4,153.1 522.6,153.5 522.9,151.5 523.1,151.3 523.4,150.7 523.6,148.1 523.9,147.1 524.1,147 524.4,147.1 524.6,147.3 524.9,147.5 525.1,149.1 525.4,150.8 525.6,151.8 525.9,152.3 526.1,153.8 526.4,152.2 526.6,151.2 526.9,150 527.1,148.1 527.4,146.8 527.6,146.3 527.9,147.1 528.1,147.3 528.4,147.2 528.6,150.3 528.9,152 529.1,151.9 529.4,152.1 529.6,151.9 529.9,151.9 530.1,149.6 530.4,149.2 530.6,148.1 530.9,147 531.1,146.5 531.4,146.4 531.6,147.4 531.9,149 532.1,149.7 532.4,151.2 532.6,151.4 532.9,152.8 533.1,152.4 533.4,150.2 533.6,150.3 533.9,148.5 534.2,147.5 534.4,147.2 534.7,147.2 534.9,146.7" fill="none" stroke="#0072BD" stroke-width="0.6" stroke-linejoin="round" />
<polyline points="423.2,105.4 423.3,105.4 423.5,105.4 423.7,105.4 423.9,105.4 424,105.4 424.2,105.4 424.4,105.4 424.6,105.4 424.7,105.4 424.9,107.7 425.1,110.2 425.3,112 425.4,113.8 425.6,115.6 425.8,117.3 425.9,119.1 426.1,120.9 426.3,122.7 426.5,124.5 426.6,126.3 426.8,128.1 427,129.8 427.2,131.6 427.3,133.4 427.5,135.2 427.7,137 427.9,138.8 428,140.6 428.2,142.3 428.4,144.1 428.6,145.7 428.7,146.3 428.9,146.9" fill="none" stroke="#D95319" stroke-width="0.8" stroke-linejoin="round" />
<polyline points="428.5,144.2 428.8,143.6 429,144.7 429.3,148 429.5,150 429.8,150.9 430,150.8 430.3,152 430.5,150.2 430.8,148.7 431,146.6 431.3,145.3 431.5,144.2 431.8,144.5 432,144.7 432.3,146 432.5,147.4 432.8,148.7 433,150.2 433.3,151.8 433.5,150.6 433.8,151.1 434,150.5 434.3,147.3 434.5,146.4 434.8,144 435,143.2 435.3,142.8 435.5,143.7 435.8,145.8 436,147.6 436.3,148.7 436.5,152.8 436.8,152.5 437,152.2 437.3,151.9 437.6,150.1 437.8,145.9 438.1,145 438.3,142 438.6,142 438.8,142.6 439.1,143.9 439.3,145.9 439.6,148 439.8,150.4 440.1,152 440.3,152.3 440.6,151.1 440.8,149.9 441.1,148.9 441.3,146.7 441.6,144.4 441.8,143.9 442.1,143.7 442.3,144.7 442.6,145.6 442.8,147.1 443.1,148.6 443.3,150.8 443.6,150.6 443.8,151.8 444.1,149.2 444.3,148.9 444.6,147.2 444.8,145.8 445.1,145.6 445.3,143.3 445.6,143.2 445.8,143.3 446.1,146.8 446.3,147.1 446.6,150.2 446.8,151.1 447.1,153.4 447.3,151.7 447.6,150.7 447.8,148.4 448.1,146.6 448.3,145.5 448.6,143.1 448.8,142.8 449.1,143.4 449.3,144.5 449.6,146.3 449.8,148.9 450.1,151.2 450.3,152.2 450.6,150.9 450.8,150.5 451.1,149.5 451.4,148.1 451.6,146.1 451.9,144.8 452.1,144.3 452.4,144.5 452.6,143.7 452.9,146 453.1,148 453.4,150.1 453.6,151.1 453.9,151.1 454.1,151.1 454.4,150.7 454.6,149 454.9,147.2 455.1,145.8 455.4,143 455.6,142.8 455.9,141.9 456.1,144.9 456.4,146.5 456.6,148.1 456.9,150.5 457.1,152.4 457.4,152.4 457.6,151.3 457.9,149.8 458.1,148.3 458.4,145.8 458.6,144.3 458.9,143.8 459.1,143.8 459.4,144.6 459.6,145.5 459.9,146.9 460.1,149 460.4,150.1 460.6,151.3 460.9,151.9 461.1,151 461.4,148.7 461.6,147.2 461.9,145 462.1,144.6 462.4,143.6 462.6,143.5 462.9,144.5 463.1,146.8 463.4,148.1 463.6,149.4 463.9,151.1 464.1,150.7 464.4,150.1 464.6,150 464.9,147.3 465.2,147 465.4,145.7 465.7,144.8 465.9,144.9 466.2,144.7 466.4,145.8 466.7,146.3 466.9,148.2 467.2,149.4 467.4,150.6 467.7,151.4 467.9,150.1 468.2,149.5 468.4,147.2 468.7,146.4 468.9,144.4 469.2,144.3 469.4,144.3 469.7,145.2 469.9,146.3 470.2,147.4 470.4,148.7 470.7,150.8 470.9,150.8 471.2,149.6 471.4,150.3 471.7,149 471.9,147.4 472.2,146.1 472.4,143.3 472.7,143.3 472.9,143.4 473.2,143.7 473.4,145.2 473.7,149.1 473.9,149.8 474.2,151.1 474.4,151.5 474.7,150.8 474.9,149.8 475.2,147.3 475.4,146.1 475.7,144.8 475.9,143.5 476.2,143.6 476.4,144.5 476.7,145.8 476.9,146.5 477.2,148.7 477.4,150.3 477.7,151.4 477.9,151.1 478.2,150.8 478.4,148.9 478.7,147.3 479,146.9 479.2,144.5 479.5,143.4 479.7,143.7 480,145.2 480.2,145.5 480.5,148.7 480.7,151.2 481,153 481.2,153.5 481.5,152.7 481.7,151.1 482,149 482.2,146.6 482.5,143.2 482.7,141.1 483,139.9 483.2,141.6 483.5,143 483.7,146.2 484,150.4 484.2,153.3 484.5,156.1 484.7,156.7 485,154.9 485.2,151 485.5,147.3 485.7,144.3 486,140.4 486.2,139.5 486.5,138.5 486.7,140.9 487,144.5 487.2,147.7 487.5,152.3 487.7,155.2 488,156.9 488.2,155.6 488.5,153.6 488.7,150.3 489,146.5 489.2,141.8 489.5,140.2 489.7,139.3 490,139 490.2,141.3 490.5,145.5 490.7,150.7 491,153.8 491.2,155.7 491.5,156.8 491.7,154.9 492,153.6 492.2,148.4 492.5,144.7 492.8,139.8 493,138.1 493.3,137.1 493.5,139.6 493.8,143.5 494,147.9 494.3,152.1 494.5,155.6 494.8,155.9 495,155.4 495.3,153.9 495.5,151.3 495.8,147.1 496,144.2 496.3,140.8 496.5,140.7 496.8,141.2 497,143.6 497.3,147 497.5,149 497.8,151.7 498,152.8 498.3,153.7 498.5,153.7 498.8,151.8 499,148.1 499.3,146.5 499.5,143.7 499.8,141.5 500,141.1 500.3,141.8 500.5,143.5 500.8,145.9 501,151 501.3,152.7 501.5,154.3 501.8,154.5 502,153.3 502.3,151 502.5,147.2 502.8,144.9 503,142.3 503.3,141 503.5,141.1 503.8,142.7 504,144.6 504.3,148.1 504.5,150.8 504.8,152.9 505,154.3 505.3,153.7 505.5,152.3 505.8,149.2 506.1,147 506.3,144.9 506.6,142.6 506.8,142 507.1,143.8 507.3,143.5 507.6,146.6 507.8,149 508.1,150.4 508.3,152.4 508.6,153.2 508.8,151 509.1,151.1 509.3,148.2 509.6,145.2 509.8,144.1 510.1,142.2 510.3,141.7 510.6,141.6 510.8,145.4 511.1,147.6 511.3,149.9 511.6,152.4 511.8,154.3 512.1,153.3 512.3,152.2 512.6,149.7 512.8,146.5 513.1,143.8 513.3,142.2 513.6,141.3 513.8,142.6 514.1,143.7 514.3,145.9 514.6,148.8 514.8,150.7 515.1,152.5 515.3,151.5 515.6,150.4 515.8,150.4 516.1,148.2 516.3,146.7 516.6,144.4 516.8,144 517.1,144 517.3,144.8 517.6,145.7 517.8,147.8 518.1,148.4 518.3,150.5 518.6,150.5 518.8,150.9 519.1,149.7 519.3,149.2 519.6,147.1 519.9,146.5 520.1,144.4 520.4,144.2 520.6,144 520.9,144.8 521.1,145.7 521.4,149 521.6,149.4 521.9,151.6 522.1,150.6 522.4,152.1 522.6,150.6 522.9,149.5 523.1,146.1 523.4,146.2 523.6,144.4 523.9,144.5 524.1,145.5 524.4,145.7 524.6,146.6 524.9,148.6 525.1,149.4 525.4,151 525.6,151 525.9,150.7 526.1,149.2 526.4,146.9 526.6,146.1 526.9,144.8 527.1,144.5 527.4,144.4 527.6,143.9 527.9,146.6 528.1,148.1 528.4,149.3 528.6,150.7 528.9,150 529.1,152.2 529.4,149.9 529.6,148.4 529.9,147.9 530.1,146.3 530.4,144.7 530.6,143.7 530.9,145.4 531.1,146.5 531.4,146.3 531.6,147.3 531.9,149.4 532.1,151.2 532.4,149.5 532.6,150.1 532.9,148.6 533.1,148.1 533.4,147.1 533.7,146.1 533.9,144.4 534.2,144.3 534.4,146.6 534.7,146.8 534.9,146.4" fill="none" stroke="#D95319" stroke-width="0.6" stroke-linejoin="round" />
<rect x="427" y="110.4" width="45.4" height="75.5" fill="none" stroke="#4a4a4a" stroke-width="0.8" />
<text x="476.9" y="131.1" font-size="7.6" font-family="'Liberation Serif','Noto Serif CJK SC',serif" text-anchor="start" fill="#333" >Rayleigh</text>
<polyline points="472.4,141.7 481.9,132.6 495.3,132.6" fill="none" stroke="#444" stroke-width="0.6"/>
<text x="510" y="116.1" font-size="7.2" font-family="'Liberation Serif','Noto Serif CJK SC',serif" fill="#444" textLength="7.0" lengthAdjust="spacingAndGlyphs">air</text>
<line x1="518" y1="114.8" x2="533.6" y2="114.8" stroke="#6ba6dd" stroke-width="1.1" />
<text x="487.1" y="122.3" font-size="7.2" font-family="'Liberation Serif','Noto Serif CJK SC',serif" fill="#444" textLength="29.9" lengthAdjust="spacingAndGlyphs">underwater</text>
<line x1="518" y1="121" x2="533.6" y2="121" stroke="#ea8d66" stroke-width="1.1" />
<rect x="482" y="136.3" width="31" height="22.8" fill="none" stroke="#4a4a4a" stroke-width="0.8" />
<text x="479.1" y="175" font-size="7.6" font-family="'Liberation Serif','Noto Serif CJK SC',serif" text-anchor="start" fill="#333" >underwater sound</text>
<polyline points="482,159.1 476.8,175.9 513.5,175.9" fill="none" stroke="#444" stroke-width="0.6"/>
<text x="4.9" y="223.1" font-size="18.5" font-family="'Liberation Serif','Noto Serif CJK SC',serif" text-anchor="start" fill="#111" stroke="#111" stroke-width="0.3">(f)</text>
<rect x="52.6" y="213.6" width="117.3" height="80.9" fill="none" stroke="#b8b8b8" stroke-width="0.7" />
<text transform="translate(51,223.4) scale(1.12,1)" font-size="6.4" font-family="'Liberation Serif','Noto Serif CJK SC',serif" text-anchor="end" fill="#3a3a3a" stroke="#3a3a3a" stroke-width="0.18">0.4</text>
<line x1="52.6" y1="221.8" x2="53.8" y2="221.8" stroke="#999" stroke-width="0.4" />
<line x1="169.9" y1="221.8" x2="168.7" y2="221.8" stroke="#999" stroke-width="0.4" />
<text transform="translate(51,233.5) scale(1.12,1)" font-size="6.4" font-family="'Liberation Serif','Noto Serif CJK SC',serif" text-anchor="end" fill="#3a3a3a" stroke="#3a3a3a" stroke-width="0.18">0.3</text>
<line x1="52.6" y1="231.9" x2="53.8" y2="231.9" stroke="#999" stroke-width="0.4" />
<line x1="169.9" y1="231.9" x2="168.7" y2="231.9" stroke="#999" stroke-width="0.4" />
<text transform="translate(51,243.6) scale(1.12,1)" font-size="6.4" font-family="'Liberation Serif','Noto Serif CJK SC',serif" text-anchor="end" fill="#3a3a3a" stroke="#3a3a3a" stroke-width="0.18">0.2</text>
<line x1="52.6" y1="242" x2="53.8" y2="242" stroke="#999" stroke-width="0.4" />
<line x1="169.9" y1="242" x2="168.7" y2="242" stroke="#999" stroke-width="0.4" />
<text transform="translate(51,253.7) scale(1.12,1)" font-size="6.4" font-family="'Liberation Serif','Noto Serif CJK SC',serif" text-anchor="end" fill="#3a3a3a" stroke="#3a3a3a" stroke-width="0.18">0.1</text>
<line x1="52.6" y1="252.1" x2="53.8" y2="252.1" stroke="#999" stroke-width="0.4" />
<line x1="169.9" y1="252.1" x2="168.7" y2="252.1" stroke="#999" stroke-width="0.4" />
<text transform="translate(51,263.9) scale(1.12,1)" font-size="6.4" font-family="'Liberation Serif','Noto Serif CJK SC',serif" text-anchor="end" fill="#3a3a3a" stroke="#3a3a3a" stroke-width="0.18">0</text>
<line x1="52.6" y1="262.2" x2="53.8" y2="262.2" stroke="#999" stroke-width="0.4" />
<line x1="169.9" y1="262.2" x2="168.7" y2="262.2" stroke="#999" stroke-width="0.4" />
<text transform="translate(51,274) scale(1.12,1)" font-size="6.4" font-family="'Liberation Serif','Noto Serif CJK SC',serif" text-anchor="end" fill="#3a3a3a" stroke="#3a3a3a" stroke-width="0.18">-0.1</text>
<line x1="52.6" y1="272.4" x2="53.8" y2="272.4" stroke="#999" stroke-width="0.4" />
<line x1="169.9" y1="272.4" x2="168.7" y2="272.4" stroke="#999" stroke-width="0.4" />
<text transform="translate(51,284.1) scale(1.12,1)" font-size="6.4" font-family="'Liberation Serif','Noto Serif CJK SC',serif" text-anchor="end" fill="#3a3a3a" stroke="#3a3a3a" stroke-width="0.18">-0.2</text>
<line x1="52.6" y1="282.5" x2="53.8" y2="282.5" stroke="#999" stroke-width="0.4" />
<line x1="169.9" y1="282.5" x2="168.7" y2="282.5" stroke="#999" stroke-width="0.4" />
<text transform="translate(51,294.2) scale(1.12,1)" font-size="6.4" font-family="'Liberation Serif','Noto Serif CJK SC',serif" text-anchor="end" fill="#3a3a3a" stroke="#3a3a3a" stroke-width="0.18">-0.3</text>
<line x1="52.6" y1="292.6" x2="53.8" y2="292.6" stroke="#999" stroke-width="0.4" />
<line x1="169.9" y1="292.6" x2="168.7" y2="292.6" stroke="#999" stroke-width="0.4" />
<text transform="translate(54.1,300.3) scale(1.12,1)" font-size="6.4" font-family="'Liberation Serif','Noto Serif CJK SC',serif" text-anchor="middle" fill="#3a3a3a" stroke="#3a3a3a" stroke-width="0.18">1</text>
<line x1="54.1" y1="294.5" x2="54.1" y2="293.3" stroke="#999" stroke-width="0.4" />
<line x1="54.1" y1="213.6" x2="54.1" y2="214.8" stroke="#999" stroke-width="0.4" />
<text transform="translate(67.4,300.3) scale(1.12,1)" font-size="6.4" font-family="'Liberation Serif','Noto Serif CJK SC',serif" text-anchor="middle" fill="#3a3a3a" stroke="#3a3a3a" stroke-width="0.18">2</text>
<line x1="67.4" y1="294.5" x2="67.4" y2="293.3" stroke="#999" stroke-width="0.4" />
<line x1="67.4" y1="213.6" x2="67.4" y2="214.8" stroke="#999" stroke-width="0.4" />
<text transform="translate(80.8,300.3) scale(1.12,1)" font-size="6.4" font-family="'Liberation Serif','Noto Serif CJK SC',serif" text-anchor="middle" fill="#3a3a3a" stroke="#3a3a3a" stroke-width="0.18">3</text>
<line x1="80.8" y1="294.5" x2="80.8" y2="293.3" stroke="#999" stroke-width="0.4" />
<line x1="80.8" y1="213.6" x2="80.8" y2="214.8" stroke="#999" stroke-width="0.4" />
<text transform="translate(94.1,300.3) scale(1.12,1)" font-size="6.4" font-family="'Liberation Serif','Noto Serif CJK SC',serif" text-anchor="middle" fill="#3a3a3a" stroke="#3a3a3a" stroke-width="0.18">4</text>
<line x1="94.1" y1="294.5" x2="94.1" y2="293.3" stroke="#999" stroke-width="0.4" />
<line x1="94.1" y1="213.6" x2="94.1" y2="214.8" stroke="#999" stroke-width="0.4" />
<text transform="translate(107.5,300.3) scale(1.12,1)" font-size="6.4" font-family="'Liberation Serif','Noto Serif CJK SC',serif" text-anchor="middle" fill="#3a3a3a" stroke="#3a3a3a" stroke-width="0.18">5</text>
<line x1="107.5" y1="294.5" x2="107.5" y2="293.3" stroke="#999" stroke-width="0.4" />
<line x1="107.5" y1="213.6" x2="107.5" y2="214.8" stroke="#999" stroke-width="0.4" />
<text transform="translate(120.8,300.3) scale(1.12,1)" font-size="6.4" font-family="'Liberation Serif','Noto Serif CJK SC',serif" text-anchor="middle" fill="#3a3a3a" stroke="#3a3a3a" stroke-width="0.18">6</text>
<line x1="120.8" y1="294.5" x2="120.8" y2="293.3" stroke="#999" stroke-width="0.4" />
<line x1="120.8" y1="213.6" x2="120.8" y2="214.8" stroke="#999" stroke-width="0.4" />
<text transform="translate(134.1,300.3) scale(1.12,1)" font-size="6.4" font-family="'Liberation Serif','Noto Serif CJK SC',serif" text-anchor="middle" fill="#3a3a3a" stroke="#3a3a3a" stroke-width="0.18">7</text>
<line x1="134.1" y1="294.5" x2="134.1" y2="293.3" stroke="#999" stroke-width="0.4" />
<line x1="134.1" y1="213.6" x2="134.1" y2="214.8" stroke="#999" stroke-width="0.4" />
<text transform="translate(147.5,300.3) scale(1.12,1)" font-size="6.4" font-family="'Liberation Serif','Noto Serif CJK SC',serif" text-anchor="middle" fill="#3a3a3a" stroke="#3a3a3a" stroke-width="0.18">8</text>
<line x1="147.5" y1="294.5" x2="147.5" y2="293.3" stroke="#999" stroke-width="0.4" />
<line x1="147.5" y1="213.6" x2="147.5" y2="214.8" stroke="#999" stroke-width="0.4" />
<text transform="translate(160.8,300.3) scale(1.12,1)" font-size="6.4" font-family="'Liberation Serif','Noto Serif CJK SC',serif" text-anchor="middle" fill="#3a3a3a" stroke="#3a3a3a" stroke-width="0.18">9</text>
<line x1="160.8" y1="294.5" x2="160.8" y2="293.3" stroke="#999" stroke-width="0.4" />
<line x1="160.8" y1="213.6" x2="160.8" y2="214.8" stroke="#999" stroke-width="0.4" />
<text transform="translate(41,263.2) rotate(-90)" font-size="6.5" font-family="'Liberation Serif','Noto Serif CJK SC',serif" fill="#3a3a3a" stroke="#3a3a3a" stroke-width="0.12" textLength="27.8" lengthAdjust="spacingAndGlyphs">Amplitude</text>
<text transform="translate(41,233) rotate(-90)" font-size="6.5" font-family="'Liberation Serif','Noto Serif CJK SC',serif" fill="#3a3a3a" stroke="#3a3a3a" stroke-width="0.12" textLength="7.2" lengthAdjust="spacingAndGlyphs">(V)</text>
<text x="100" y="306" font-size="8.8" font-family="'Liberation Serif','Noto Serif CJK SC',serif" fill="#333" stroke="#333" stroke-width="0.12" textLength="29.6" lengthAdjust="spacingAndGlyphs">Time（s）</text>
<text x="160.6" y="305.5" font-size="7.4" font-family="'Liberation Serif','Noto Serif CJK SC',serif" text-anchor="start" fill="#444" >×</text>
<text x="164.7" y="301.8" font-size="4.6" font-family="'Liberation Sans','Noto Sans CJK SC',sans-serif" fill="#444">10<tspan font-size="3.4" dy="-1.6">-5</tspan></text>
<line x1="53.6" y1="213.6" x2="53.6" y2="294.5" stroke="#6aa6dc" stroke-width="0.8" />
<line x1="55.4" y1="213.6" x2="55.4" y2="294.5" stroke="#6aa6dc" stroke-width="0.8" />
<line x1="58.3" y1="213.6" x2="58.3" y2="294.5" stroke="#6aa6dc" stroke-width="0.8" />
<line x1="60.8" y1="213.6" x2="60.8" y2="294.5" stroke="#6aa6dc" stroke-width="0.8" />
<line x1="57.2" y1="213.6" x2="57.2" y2="294.5" stroke="#f2ab8c" stroke-width="0.7" />
<line x1="61.6" y1="213.6" x2="61.6" y2="294.5" stroke="#f2ab8c" stroke-width="0.7" />
<line x1="64.3" y1="213.6" x2="64.3" y2="294.5" stroke="#f2ab8c" stroke-width="0.7" />
<rect x="128.6" y="230.8" width="5.6" height="63.7" fill="#bcd8f0" stroke="none" stroke-width="1" />
<rect x="159.2" y="230.8" width="5.2" height="63.7" fill="#bcd8f0" stroke="none" stroke-width="1" />
<line x1="121.8" y1="240" x2="121.8" y2="294.5" stroke="#a9cdee" stroke-width="0.6" />
<line x1="128.9" y1="213.6" x2="128.9" y2="218.5" stroke="#5a9ad8" stroke-width="0.6" />
<line x1="130.4" y1="213.6" x2="130.4" y2="218.5" stroke="#5a9ad8" stroke-width="0.6" />
<line x1="131.9" y1="213.6" x2="131.9" y2="218.5" stroke="#5a9ad8" stroke-width="0.6" />
<line x1="160.3" y1="213.6" x2="160.3" y2="217.5" stroke="#5a9ad8" stroke-width="0.6" />
<line x1="169.3" y1="240" x2="169.3" y2="294.5" stroke="#5a9ad8" stroke-width="0.6" />
<line x1="153.7" y1="241" x2="153.7" y2="286.4" stroke="#93c0ea" stroke-width="0.7" />
<line x1="123.3" y1="241.1" x2="123.3" y2="269.6" stroke="#93c0ea" stroke-width="0.7" />
<line x1="154.8" y1="250.3" x2="154.8" y2="283.1" stroke="#93c0ea" stroke-width="0.7" />
<line x1="154.1" y1="236.8" x2="154.1" y2="277.3" stroke="#93c0ea" stroke-width="0.7" />
<line x1="109.6" y1="249.1" x2="109.6" y2="263.8" stroke="#93c0ea" stroke-width="0.7" />
<line x1="166.7" y1="237.8" x2="166.7" y2="288.5" stroke="#93c0ea" stroke-width="0.7" />
<line x1="160" y1="248.9" x2="160" y2="284" stroke="#93c0ea" stroke-width="0.7" />
<line x1="124.6" y1="239.1" x2="124.6" y2="273" stroke="#93c0ea" stroke-width="0.7" />
<line x1="113.3" y1="228.7" x2="113.3" y2="273.5" stroke="#93c0ea" stroke-width="0.7" />
<line x1="127.2" y1="250" x2="127.2" y2="268.8" stroke="#93c0ea" stroke-width="0.7" />
<line x1="106.6" y1="253.7" x2="106.6" y2="264.5" stroke="#93c0ea" stroke-width="0.7" />
<line x1="114.7" y1="227.1" x2="114.7" y2="271.1" stroke="#93c0ea" stroke-width="0.7" />
<line x1="154.7" y1="243.2" x2="154.7" y2="275.6" stroke="#93c0ea" stroke-width="0.7" />
<line x1="166.4" y1="247.9" x2="166.4" y2="276.6" stroke="#93c0ea" stroke-width="0.7" />
<line x1="106.4" y1="247.6" x2="106.4" y2="272.4" stroke="#93c0ea" stroke-width="0.7" />
<line x1="152.4" y1="250" x2="152.4" y2="281.3" stroke="#93c0ea" stroke-width="0.7" />
<line x1="105.6" y1="247.5" x2="105.6" y2="263.6" stroke="#93c0ea" stroke-width="0.7" />
<line x1="152.6" y1="242.5" x2="152.6" y2="269.3" stroke="#93c0ea" stroke-width="0.7" />
<line x1="133.8" y1="250.5" x2="133.8" y2="272.6" stroke="#93c0ea" stroke-width="0.7" />
<line x1="155.9" y1="249.1" x2="155.9" y2="276.2" stroke="#93c0ea" stroke-width="0.7" />
<line x1="158.9" y1="246.9" x2="158.9" y2="273.6" stroke="#93c0ea" stroke-width="0.7" />
<line x1="108.7" y1="253.6" x2="108.7" y2="266.2" stroke="#93c0ea" stroke-width="0.7" />
<line x1="129.9" y1="240.7" x2="129.9" y2="263" stroke="#93c0ea" stroke-width="0.7" />
<line x1="151.8" y1="236.3" x2="151.8" y2="275.3" stroke="#93c0ea" stroke-width="0.7" />
<line x1="151.8" y1="246" x2="151.8" y2="268.4" stroke="#93c0ea" stroke-width="0.7" />
<line x1="153.7" y1="235.2" x2="153.7" y2="291.8" stroke="#93c0ea" stroke-width="0.7" />
<polygon points="68.8,254.4 69.2,254.4 69.6,254.4 70,254.4 70.4,254.4 70.8,246.5 71.2,242.3 71.6,242.3 72,242.3 72.4,242.3 72.8,242.3 73.2,242.3 73.6,236.7 74,236.7 74.4,236.7 74.8,236.7 75.2,236.7 75.6,236.7 76,236.7 76.4,236.8 76.8,236.8 77.2,236.8 77.6,236.8 78,236.8 78.4,236.8 78.8,238.4 79.2,238.4 79.6,238.4 80,238.4 80.4,238.4 80.8,238.4 81.2,239.5 81.6,239.5 82,239.5 82.4,239.5 82.8,239.5 83.2,239.5 83.6,239.5 84,236.9 84.4,236.9 84.8,236.9 85.2,236.9 85.6,236.9 86,236.9 86.4,234.9 86.8,234.9 87.2,234.9 87.6,234.9 88,234.9 88.4,234.9 88.8,234.9 89.2,237.1 89.6,237.1 90,237.1 90.4,237.1 90.8,237.1 91.2,237.1 91.6,235.2 92,235.2 92.4,235.2 92.8,235.2 93.2,235.2 93.6,235.2 94,235.5 94.4,235.5 94.8,235.5 95.2,235.5 95.6,235.5 96,235.5 96.4,235.5 96.8,245.1 97.2,245.1 97.6,245.1 98,245.1 98.4,245.1 98.8,245.1 99.3,249.2 99.7,252.8 100.1,252.8 100.5,252.8 100.9,252.8 101.3,252.8 101.7,252.8 102.1,254.2 102.5,254.2 102.9,254.2 103.3,254.2 103.7,251.9 104.1,251.9 104.5,251.9 104.9,251.9 105.3,251.9 105.7,249.2 106.1,248.3 106.5,248.3 106.9,248.3 107.3,248.3 107.7,248.3 108.1,248.3 108.5,254.2 108.9,254.7 109.3,254.7 109.7,254.7 110.1,248.5 110.5,248.5 110.9,248.5 111.3,248.5 111.7,248.5 112.1,246.1 112.5,241.4 112.9,241.4 113.3,241.4 113.7,241.4 114.1,241.4 114.5,241.4 114.9,248.9 115.3,248.9 115.7,248.9 116.1,248.9 116.5,248 116.9,248 117.3,248 117.7,248 118.1,248 118.5,248 118.9,249.4 119.3,252.9 119.7,252.9 120.1,252.9 120.5,252.9 120.9,254.2 121.3,254.2 121.7,254.2 122.1,254.2 122.5,254.2 122.9,254.5 123.3,254.5 123.7,254.5 124.1,254.5 124.5,254.5 124.9,254.9 125.3,255.1 125.7,253.9 126.1,253.9 126.5,253.9 126.9,253.9 127.3,253.9 127.7,253.9 128.1,253.9 128.5,254.4 128.9,254.4 129.3,251.8 129.7,251.8 130.1,251.8 130.5,251.8 130.9,251.8 131.3,251.8 131.7,251.8 132.1,254.9 132.5,255.2 132.9,255.2 133.3,255.2 133.7,255.2 134.1,255.7 134.5,255.7 134.9,255.7 135.3,253.9 135.7,253.9 136.1,253.9 136.5,253.9 136.9,253.9 137.3,253.9 137.7,253.9 138.1,254 138.5,254 138.9,254 139.4,254 139.8,254 140.2,254.3 140.6,254.3 141,254.3 141.4,254.3 141.8,254.8 142.2,254.8 142.6,254.8 143,254.8 143.4,254.8 143.8,255.2 144.2,255.2 144.6,255.2 145,255 145.4,255 145.8,255 146.2,255 146.6,254.9 147,254.6 147.4,254.6 147.8,254.6 148.2,254.6 148.6,254.6 149,254.1 149.4,254.1 149.8,254.1 150.2,254.1 150.6,254.1 151,254.1 151.4,254.6 151.8,254.6 152.2,254.6 152.6,253.7 153,253.7 153.4,253.7 153.8,253.7 154.2,253.7 154.6,253.7 155,253.7 155.4,254.4 155.8,254.4 156.2,254.4 156.6,254.2 157,254.2 157.4,254.2 157.8,254.2 158.2,252.7 158.6,252.7 159,252.7 159.4,252.7 159.8,252.7 160.2,252.7 160.6,252.7 161,254.7 161.4,254.7 161.8,254.7 162.2,253.4 162.6,253.4 163,253.4 163.4,253.4 163.8,253.4 164.2,253.4 164.6,254.9 165,254.9 165.4,254.9 165.8,254.8 166.2,254.8 166.6,254.8 167,254.8 167.4,254.8 167.8,254.8 168.2,255.4 168.6,255.4 168.8,255.5 168.8,258.9 168.6,258.9 168.2,258.9 167.8,258.9 167.4,258.9 167,259.6 166.6,259.6 166.2,259.6 165.8,259.6 165.4,259.6 165,259.7 164.6,259.7 164.2,259.7 163.8,259.7 163.4,260.9 163,260.9 162.6,260.9 162.2,260.9 161.8,260.9 161.4,260.9 161,260.7 160.6,260.7 160.2,260.7 159.8,260.7 159.4,260.7 159,260 158.6,259.5 158.2,259.5 157.8,259.5 157.4,259.5 157,259.1 156.6,259.1 156.2,259.1 155.8,260.2 155.4,260.2 155,260.2 154.6,260.2 154.2,260.2 153.8,260.3 153.4,260.3 153,260.3 152.6,260.3 152.2,260.3 151.8,260.3 151.4,259.3 151,259.1 150.6,259.1 150.2,261.2 149.8,261.2 149.4,261.2 149,261.2 148.6,261.2 148.2,261.2 147.8,261.2 147.4,259.2 147,258.6 146.6,258.6 146.2,259 145.8,259 145.4,259 145,259 144.6,259.2 144.2,259.2 143.8,259.2 143.4,259.2 143,259.2 142.6,259.2 142.2,260.3 141.8,260.3 141.4,260.3 141,260.3 140.6,260.3 140.2,260.3 139.8,260.1 139.4,260.1 138.9,260.1 138.5,260.6 138.1,260.6 137.7,260.6 137.3,260.6 136.9,260.6 136.5,260.6 136.1,260.6 135.7,259.7 135.3,259.7 134.9,259.7 134.5,259.7 134.1,259.3 133.7,259.3 133.3,259.3 132.9,259.4 132.5,260.8 132.1,260.8 131.7,260.8 131.3,260.8 130.9,260.8 130.5,260.8 130.1,260.8 129.7,259 129.3,259 128.9,259.4 128.5,259.4 128.1,259.4 127.7,259.4 127.3,260.8 126.9,260.8 126.5,260.8 126.1,260.8 125.7,260.8 125.3,260.8 124.9,260.8 124.5,258.5 124.1,258.5 123.7,258.5 123.3,259.3 122.9,259.3 122.5,259.3 122.1,259.3 121.7,259.4 121.3,260.6 120.9,260.6 120.5,260.6 120.1,260.6 119.7,261.2 119.3,261.2 118.9,261.2 118.5,261.2 118.1,261.2 117.7,262 117.3,262 116.9,262 116.5,262 116.1,262 115.7,262.2 115.3,262.2 114.9,262.2 114.5,262.2 114.1,262.2 113.7,262.2 113.3,262.2 112.9,260.3 112.5,260.3 112.1,260.3 111.7,260.3 111.3,259.4 110.9,259.4 110.5,259.4 110.1,259.4 109.7,259.4 109.3,261 108.9,261 108.5,261 108.1,261 107.7,261 107.3,261 106.9,261 106.5,259.2 106.1,259.2 105.7,259.2 105.3,259.2 104.9,259.2 104.5,260 104.1,260 103.7,260 103.3,260 102.9,260 102.5,260.5 102.1,260.5 101.7,260.5 101.3,260.5 100.9,260.5 100.5,265.7 100.1,265.7 99.7,265.7 99.3,265.7 98.8,265.7 98.4,265.7 98,265.8 97.6,271.4 97.2,271.4 96.8,271.4 96.4,271.4 96,271.4 95.6,271.4 95.2,274.4 94.8,274.4 94.4,274.4 94,274.4 93.6,274.4 93.2,274.4 92.8,274.4 92.4,271 92,271 91.6,271 91.2,271 90.8,271 90.4,271 90,274.9 89.6,274.9 89.2,274.9 88.8,274.9 88.4,274.9 88,274.9 87.6,279.1 87.2,279.9 86.8,279.9 86.4,279.9 86,279.9 85.6,279.9 85.2,279.9 84.8,277.5 84.4,277.5 84,277.5 83.6,277.5 83.2,277.5 82.8,277.5 82.4,282.5 82,282.5 81.6,282.5 81.2,282.5 80.8,282.5 80.4,282.5 80,282.5 79.6,282.2 79.2,282.2 78.8,282.2 78.4,282.2 78,282.2 77.6,282.2 77.2,277 76.8,277 76.4,277 76,277 75.6,277 75.2,277 74.8,277 74.4,268.4 74,268.4 73.6,268.4 73.2,268.4 72.8,268.4 72.4,268.4 72,264.5 71.6,263.7 71.2,263.7 70.8,263.7 70.4,263.7 70,263.7 69.6,262.8 69.2,258 68.8,258" fill="#d3e5f4" opacity="1.0"/>
<polyline points="68.8,257.6 69,258 69.2,256.8 69.4,255.7 69.6,254.4 69.8,254.4 70,255.6 70.2,257.2 70.4,257.4 70.6,260.3 70.8,262.8 71,263.7 71.2,260.7 71.4,258.1 71.6,257.2 71.8,253 72,246.5 72.2,242.3 72.4,245.2 72.6,251.2 72.8,256.2 73,258.9 73.2,264.5 73.4,268.4 73.6,268.4 73.8,263.7 74,259.3 74.2,257.6 74.4,249.3 74.6,239.9 74.8,236.7 75,243.7 75.2,251.9 75.4,257.5 75.6,261 75.8,269.9 76,277 76.2,274.7 76.4,266.8 76.6,258.6 76.8,256.5 77,246.4 77.2,238 77.4,236.8 77.6,244.7 77.8,254.6 78,257.2 78.2,264.9 78.4,276 78.6,282.2 78.8,277.7 79,265.2 79.2,257.4 79.4,254.7 79.6,245.6 79.8,238.4 80,240.5 80.2,248.2 80.4,257 80.6,258.2 80.8,267.8 81,280.5 81.2,282.5 81.4,274.6 81.6,263.3 81.8,257.4 82,253.6 82.2,243.7 82.4,239.5 82.6,241.3 82.8,248.4 83,256.4 83.2,258.8 83.4,268.2 83.6,277.5 83.8,277.4 84,269.2 84.2,260.8 84.4,256.8 84.6,250 84.8,240.2 85,236.9 85.2,241 85.4,251.5 85.6,256.3 85.8,260.2 86,270.5 86.2,279.9 86.4,279.1 86.6,268.6 86.8,259 87,256.8 87.2,247.7 87.4,237.3 87.6,234.9 87.8,242.7 88,253.8 88.2,257.3 88.4,261.3 88.6,270 88.8,274.9 89,272.1 89.2,263.4 89.4,257.8 89.6,255.3 89.8,247.3 90,238.5 90.2,237.1 90.4,245.5 90.6,255 90.8,257.6 91,261.3 91.2,268.8 91.4,271 91.6,268.5 91.8,261.8 92,258.1 92.2,254.1 92.4,242.7 92.6,235.2 92.8,236.1 93,245.6 93.2,255.4 93.4,258 93.6,264.3 93.8,271.9 94,274.4 94.2,268.9 94.4,260.8 94.6,257.6 94.8,252.2 95,242.5 95.2,235.5 95.4,240.9 95.6,249.4 95.8,255.1 96,258.9 96.2,266 96.4,271.4 96.6,270.7 96.8,265.8 97,258.8 97.2,256.9 97.4,252.9 97.6,245.1 97.8,245.3 98,249.2 98.2,253.4 98.4,255.6 98.6,257.5 98.8,261.8 99,265.3 99.3,265.7 99.5,261.4 99.7,259 99.9,257.2 100.1,255.5 100.3,253 100.5,252.8 100.7,254 100.9,257.8 101.1,259.3 101.3,260.1 101.5,260.5 101.7,258.6 101.9,256.8 102.1,254.2 102.3,255.9 102.5,255.3 102.7,257.7 102.9,258.7 103.1,259.1 103.3,260 103.5,258.6 103.7,258.1 103.9,255.3 104.1,255.1 104.3,254.8 104.5,256.2 104.7,254.2 104.9,251.9 105.1,255.2 105.3,258.5 105.5,258 105.7,259.2 105.9,257.7 106.1,256.8 106.3,255.5 106.5,256.9 106.7,253.2 106.9,249.2 107.1,248.3 107.3,254.2 107.5,256.5 107.7,257.1 107.9,258.7 108.1,261 108.3,257.6 108.5,257.8 108.7,257.3 108.9,255.9 109.1,256.4 109.3,256.7 109.5,255.9 109.7,254.7 109.9,256.5 110.1,258.2 110.3,257.9 110.5,259.4 110.7,258 110.9,256 111.1,251.2 111.3,248.5 111.5,251.5 111.7,255.8 111.9,254.5 112.1,256.7 112.3,256.8 112.5,259.1 112.7,260.3 112.9,258.5 113.1,254.8 113.3,246.1 113.5,241.4 113.7,251 113.9,255.5 114.1,259.4 114.3,261.7 114.5,262.2 114.7,261 114.9,260.8 115.1,255.9 115.3,252 115.5,248.9 115.7,252.2 115.9,256.2 116.1,257.8 116.3,261.4 116.5,262 116.7,261.4 116.9,257.1 117.1,255.5 117.3,251.9 117.5,248 117.7,249.4 117.9,255.2 118.1,258.6 118.3,261.1 118.5,261.2 118.7,259.5 118.9,256.6 119.1,255.2 119.3,254 119.5,252.9 119.7,255.9 119.9,257.2 120.1,260 120.3,260.6 120.5,259.4 120.7,258 120.9,255.5 121.1,254.7 121.3,254.2 121.5,254.4 121.7,255.8 121.9,257.7 122.1,258.1 122.3,259.3 122.5,258.4 122.7,257.1 122.9,257.3 123.1,256.6 123.3,256.3 123.5,254.5 123.7,254.9 123.9,255.2 124.1,258.5 124.3,257.7 124.5,258.3 124.7,256.3 124.9,257 125.1,255.8 125.3,255.1 125.5,257.3 125.7,258.2 125.9,259.5 126.1,260.8 126.3,258.5 126.5,256.9 126.7,256 126.9,253.9 127.1,255 127.3,256.5 127.5,257.6 127.7,259.4 127.9,257.4 128.1,257.7 128.3,254.4 128.5,255.1 128.7,257.2 128.9,257.5 129.1,256.6 129.3,257.7 129.5,258.1 129.7,258.7 129.9,259 130.1,256.1 130.3,253.4 130.5,251.8 130.7,254.5 130.9,254.9 131.1,257.9 131.3,260.8 131.5,259.2 131.7,259.4 131.9,258.7 132.1,258 132.3,256 132.5,255.3 132.7,255.2 132.9,256.3 133.1,256.6 133.3,258 133.5,258.8 133.7,259.3 133.9,257.5 134.1,257 134.3,257.7 134.5,255.9 134.7,255.7 134.9,255.8 135.1,257.7 135.3,258.8 135.5,259.7 135.7,258.7 135.9,258.3 136.1,256.7 136.3,255.3 136.5,253.9 136.7,255.2 136.9,257.6 137.1,258.3 137.3,260.6 137.5,260.2 137.7,259 137.9,256.5 138.1,254.5 138.3,254.2 138.5,254 138.7,256.2 138.9,256.7 139.1,259.4 139.4,259.6 139.6,260.1 139.8,259.5 140,255.3 140.2,254.7 140.4,254.3 140.6,255.1 140.8,256.3 141,258 141.2,260.3 141.4,258.7 141.6,258.9 141.8,257.5 142,255 142.2,254.8 142.4,255.8 142.6,257.5 142.8,257.3 143,258 143.2,258.7 143.4,259.2 143.6,258.2 143.8,257.5 144,255.9 144.2,255.2 144.4,255.5 144.6,257.4 144.8,257.7 145,258.2 145.2,259 145.4,258.3 145.6,255.9 145.8,256.1 146,255 146.2,255.8 146.4,256.2 146.6,258.5 146.8,258.6 147,258.6 147.2,257.9 147.4,257.3 147.6,256 147.8,254.9 148,254.6 148.2,254.9 148.4,256.2 148.6,259.2 148.8,259.8 149,261.2 149.2,260.4 149.4,257.9 149.6,256.5 149.8,255.4 150,254.1 150.2,256.1 150.4,257.3 150.6,257.9 150.8,258.2 151,259.1 151.2,257.1 151.4,256.3 151.6,255.4 151.8,254.6 152,256.2 152.2,257.1 152.4,258.4 152.6,259.3 152.8,260.3 153,259.1 153.2,256.7 153.4,254.6 153.6,254 153.8,253.7 154,256 154.2,257.7 154.4,259 154.6,260.2 154.8,259.9 155,257.2 155.2,256.6 155.4,255.8 155.6,254.6 155.8,254.4 156,256.7 156.2,257.3 156.4,259.1 156.6,259.1 156.8,258.6 157,257.4 157.2,255 157.4,256 157.6,254.2 157.8,256.6 158,257.6 158.2,258.5 158.4,259.5 158.6,259.5 158.8,259.3 159,256.1 159.2,255.4 159.4,252.7 159.6,255.1 159.8,256.5 160,259.1 160.2,260 160.4,260.7 160.6,258.4 160.8,257.5 161,255.2 161.2,254.8 161.4,254.7 161.6,254.8 161.8,258.1 162,260.6 162.2,260.3 162.4,260.9 162.6,258.8 162.8,255.7 163,254.9 163.2,253.4 163.4,255.2 163.6,255.6 163.8,257.5 164,259.7 164.2,259.6 164.4,259.1 164.6,257.2 164.8,255.5 165,256.3 165.2,254.9 165.4,257 165.6,257.9 165.8,259.6 166,257.9 166.2,258.9 166.4,257.8 166.6,257 166.8,254.8 167,256.3 167.2,255.5 167.4,255.4 167.6,258.2 167.8,258.9 168,258.6 168.2,258.9 168.4,257.3 168.6,255.6 168.8,255.5" fill="none" stroke="#0072BD" stroke-width="0.6" stroke-linejoin="round" />
<polyline points="67.4,263.7 67.7,288.5 67.9,280.7 68.2,274.8 68.4,269 68.7,265.6 68.9,263.4 69.2,262.8 69.4,259.8 69.7,259.5 69.9,260.7 70.2,262 70.5,262.3 70.7,261.9 71,263.9 71.2,264 71.5,263.8 71.7,263.2 72,263.5 72.2,262.8 72.5,262.1 72.7,259.5 73,258.5 73.2,258 73.5,257.8 73.7,256.8 74,255.7 74.2,256.8 74.5,256.6 74.7,258.1 75,259.6 75.2,260.9 75.5,262.5 75.7,264.5 76,264.9 76.2,263.5 76.5,265.3 76.7,264 77,261.8 77.2,261 77.5,259.8 77.7,258.6 78,256.3 78.2,255.2 78.5,254.6 78.7,255.7 79,255.9 79.2,258.3 79.5,259.1 79.7,261.2 80,262.2 80.2,263.1 80.5,263.7 80.7,265.2 81,263.6 81.2,264 81.5,263.3 81.7,261.4 82,260.8 82.2,258.6 82.5,257.3 82.7,256.8 83,256.1 83.2,256.7 83.5,257 83.8,258.8 84,259 84.3,260.8 84.5,261.8 84.8,262.8 85,263.5 85.3,265 85.5,265 85.8,263.8 86,262.5 86.3,261.5 86.5,259.8 86.8,258.2 87,257.5 87.3,256.8 87.5,256.9 87.8,256.7 88,256.8 88.3,257.2 88.5,258.3 88.8,259.8 89,261.3 89.3,262.1 89.5,263.4 89.8,264 90,264.2 90.3,264.4 90.5,264 90.8,261.9 91,260.6 91.3,259.5 91.5,258.3 91.8,255.6 92,256.8 92.3,256.2 92.5,256.2 92.8,257.7 93,258 93.3,258.3 93.5,260.2 93.8,261.6 94,262.7 94.3,263.7 94.5,263.5 94.8,264 95,263.6 95.3,262.3 95.5,260.6 95.8,259.7 96,258.2 96.3,258.8 96.6,256 96.8,254.9 97.1,255.5 97.3,257 97.6,258.2 97.8,258.7 98.1,260.9 98.3,261.3 98.6,263.3 98.8,263.4 99.1,263.7 99.3,265.8 99.6,264 99.8,263.7 100.1,262.8 100.3,260.8 100.6,258.9 100.8,256.7 101.1,257 101.3,254.7 101.6,253.9 101.8,255.2 102.1,256.2 102.3,257.9 102.6,260.4 102.8,261.3 103.1,263.2 103.3,264.4 103.6,264.3 103.8,265.7 104.1,265.5 104.3,263.8 104.6,263.9 104.8,261.8 105.1,259.2 105.3,257.4 105.6,254.9 105.8,254.4 106.1,252.7 106.3,253.2 106.6,254.7 106.8,257 107.1,258.5 107.3,260.6 107.6,263.9 107.8,264.8 108.1,265.7 108.3,266.4 108.6,265.3 108.8,264.5 109.1,264.2 109.3,261.7 109.6,260.2 109.9,257.5 110.1,256.8 110.4,254.6 110.6,254.5 110.9,254.3 111.1,255.8 111.4,257.9 111.6,257.5 111.9,260.5 112.1,261.3 112.4,263.4 112.6,264.4 112.9,264.3 113.1,265.2 113.4,264 113.6,264.6 113.9,261.7 114.1,260.5 114.4,258.7 114.6,256.9 114.9,255.5 115.1,253.9 115.4,255.9 115.6,255.3 115.9,256.8 116.1,257.2 116.4,260 116.6,261.3 116.9,263.6 117.1,264.4 117.4,265.1 117.6,266.2 117.9,265.5 118.1,265.3 118.4,262.8 118.6,260.5 118.9,259.4 119.1,256.5 119.4,256.9 119.6,255.7 119.9,255 120.1,254.8 120.4,255.4 120.6,257 120.9,259 121.1,260.7 121.4,263.5 121.6,265.8 121.9,267 122.1,265.6 122.4,268.1 122.6,265.8 122.9,263.2 123.2,261.7 123.4,260.1 123.7,257.3 123.9,254.8 124.2,253.2 124.4,253.8 124.7,253 124.9,254.2 125.2,255.3 125.4,257.2 125.7,260.6 125.9,263.6 126.2,264.5 126.4,265.2 126.7,266.6 126.9,266.9 127.2,264.8 127.4,265.4 127.7,262.1 127.9,260.8 128.2,258.2 128.4,256.3 128.7,254.1 128.9,255 129.2,254.8 129.4,256.1 129.7,256.1 129.9,258.3 130.2,259.5 130.4,262.2 130.7,263.2 130.9,263.4 131.2,264.7 131.4,264.3 131.7,264.1 131.9,263.9 132.2,263.4 132.4,260.3 132.7,259.1 132.9,257 133.2,257.4 133.4,256.1 133.7,256 133.9,255.4 134.2,255.1 134.4,256.8 134.7,259 134.9,261 135.2,262.7 135.4,265.1 135.7,265.8 135.9,266.3 136.2,267.4 136.5,265.3 136.7,262.7 137,261.9 137.2,259.8 137.5,258.3 137.7,256.7 138,254.7 138.2,255.2 138.5,255.8 138.7,257.9 139,257.6 139.2,259.9 139.5,261.5 139.7,261.5 140,262.9 140.2,265.5 140.5,264.4 140.7,264.7 141,264.9 141.2,262.9 141.5,263 141.7,261.1 142,259.6 142.2,257.9 142.5,255.5 142.7,256.2 143,256 143.2,256.4 143.5,256.7 143.7,258.4 144,259.3 144.2,262 144.5,263.9 144.7,264.7 145,265.1 145.2,265.9 145.5,264.8 145.7,262.9 146,263 146.2,260.9 146.5,258.4 146.7,257.9 147,256.8 147.2,256.1 147.5,254.9 147.7,255.2 148,256.5 148.2,257.7 148.5,258.5 148.7,260.4 149,263.3 149.2,263.8 149.5,264.5 149.8,264.5 150,264.9 150.3,264.4 150.5,263.1 150.8,262.5 151,259.8 151.3,258.6 151.5,256.7 151.8,256.7 152,256 152.3,256.5 152.5,257.3 152.8,257.2 153,259.3 153.3,260.1 153.5,262.4 153.8,262.8 154,264.6 154.3,264.2 154.5,264.2 154.8,263 155,262.4 155.3,261.6 155.5,259.8 155.8,259 156,257.7 156.3,256.7 156.5,256.6 156.8,256.6 157,256.5 157.3,257.7 157.5,258.3 157.8,259.2 158,260.9 158.3,263 158.5,264.7 158.8,264.7 159,265 159.3,264 159.5,264.1 159.8,262.6 160,260.4 160.3,259.6 160.5,257.9 160.8,255.7 161,255.1 161.3,255.5 161.5,256 161.8,257.6 162,257.8 162.3,259.4 162.6,260.7 162.8,262.4 163.1,263.1 163.3,263.9 163.6,263.8 163.8,263 164.1,263.1 164.3,263.4 164.6,261.8 164.8,260.8 165.1,259 165.3,257 165.6,256.2 165.8,256.3 166.1,255.8 166.3,257 166.6,258.4 166.8,259.7 167.1,260.9 167.3,261.1 167.6,264.2 167.8,263.6 168.1,264.1 168.3,265 168.6,264.4 168.8,263.7" fill="none" stroke="#D95319" stroke-width="0.7" stroke-linejoin="round" />
<line x1="67.2" y1="294.5" x2="67.4" y2="292.6" stroke="#D95319" stroke-width="0.7" />
<rect x="70" y="229.6" width="30.1" height="55.5" fill="none" stroke="#4a4a4a" stroke-width="0.8" />
<text x="107" y="234.6" font-size="7.6" font-family="'Liberation Serif','Noto Serif CJK SC',serif" text-anchor="start" fill="#333" >LAMB</text>
<polyline points="100.1,243.1 107.9,235.8 127.5,235.8" fill="none" stroke="#444" stroke-width="0.6"/>
<text x="145" y="224" font-size="6.6" font-family="'Liberation Serif','Noto Serif CJK SC',serif" fill="#444" textLength="6.7" lengthAdjust="spacingAndGlyphs">air</text>
<line x1="152.2" y1="222.7" x2="167" y2="222.7" stroke="#6ba6dd" stroke-width="1.1" />
<text x="125.8" y="230" font-size="6.6" font-family="'Liberation Serif','Noto Serif CJK SC',serif" fill="#444" textLength="25.9" lengthAdjust="spacingAndGlyphs">underwater</text>
<line x1="152.2" y1="228.7" x2="167" y2="228.7" stroke="#ea8d66" stroke-width="1.1" />
<rect x="103" y="250.5" width="44.3" height="23.3" fill="none" stroke="#4a4a4a" stroke-width="0.8" />
<text x="108.2" y="283.6" font-size="7.2" font-family="'Liberation Serif','Noto Serif CJK SC',serif" text-anchor="start" fill="#333" >underwater sound</text>
<polyline points="103,273.8 109.5,287 146.7,287" fill="none" stroke="#444" stroke-width="0.6"/>
<text x="210.6" y="221.7" font-size="18.5" font-family="'Liberation Serif','Noto Serif CJK SC',serif" text-anchor="start" fill="#111" stroke="#111" stroke-width="0.3">(g)</text>
<text x="234.4" y="220.8" font-size="4.6" font-family="'Liberation Sans','Noto Sans CJK SC',sans-serif" fill="#222" textLength="133.5" lengthAdjust="spacingAndGlyphs">Time=23.8 μs Surface: sound field (Pa) Surface: displacement (mm)</text>
<rect x="368.3" y="216.2" width="4.6" height="4" fill="#2f6fd0" stroke="none" stroke-width="1" />
<rect x="369.6" y="217.2" width="2.4" height="2" fill="#f0d040" stroke="none" stroke-width="1" />
<text x="230.2" y="225.5" font-size="2.8" font-family="'Liberation Sans','Noto Sans CJK SC',sans-serif" text-anchor="start" fill="#444" >mm</text>
<rect x="243.7" y="224.5" width="69.6" height="76.5" fill="#ffffff" stroke="#8a8a8a" stroke-width="0.6" />
<defs><linearGradient id="bstripe" x1="0" x2="1" y1="0" y2="0"><stop offset="0" stop-color="#0a2cc0"/><stop offset="0.16" stop-color="#1050e0"/><stop offset="0.32" stop-color="#22b8f2"/><stop offset="0.5" stop-color="#3ae0fa"/><stop offset="0.68" stop-color="#22b8f2"/><stop offset="0.84" stop-color="#1050e0"/><stop offset="1" stop-color="#0a2cc0"/></linearGradient><pattern id="bpat" x="242.6" y="0" width="5.8" height="320" patternUnits="userSpaceOnUse"><rect width="5.8" height="320" fill="url(#bstripe)"/></pattern></defs>
<rect x="244" y="252.3" width="69" height="3.6" fill="#f8cf00" stroke="none" stroke-width="1" />
<line x1="244" y1="252.7" x2="313" y2="252.7" stroke="#f0a800" stroke-width="0.6" />
<line x1="244" y1="255.6" x2="313" y2="255.6" stroke="#f0a800" stroke-width="0.6" />
<rect x="244" y="255.9" width="69" height="7.3" fill="#e6d41c" stroke="none" stroke-width="1" />
<rect x="244.8" y="256.2" width="5.0" height="3.3" rx="1.4" fill="#78e2a6"/>
<rect x="244.8" y="259.6" width="5.0" height="3.3" rx="1.4" fill="#f42a10"/>
<rect x="250.6" y="256.2" width="5.0" height="3.3" rx="1.4" fill="#f42a10"/>
<rect x="250.6" y="259.6" width="5.0" height="3.3" rx="1.4" fill="#78e2a6"/>
<rect x="256.4" y="256.2" width="5.0" height="3.3" rx="1.4" fill="#78e2a6"/>
<rect x="256.4" y="259.6" width="5.0" height="3.3" rx="1.4" fill="#f42a10"/>
<rect x="262.2" y="256.2" width="5.0" height="3.3" rx="1.4" fill="#f42a10"/>
<rect x="262.2" y="259.6" width="5.0" height="3.3" rx="1.4" fill="#78e2a6"/>
<rect x="268" y="256.2" width="5.0" height="3.3" rx="1.4" fill="#78e2a6"/>
<rect x="268" y="259.6" width="5.0" height="3.3" rx="1.4" fill="#f42a10"/>
<rect x="273.8" y="256.2" width="5.0" height="3.3" rx="1.4" fill="#f42a10"/>
<rect x="273.8" y="259.6" width="5.0" height="3.3" rx="1.4" fill="#78e2a6"/>
<rect x="279.6" y="256.2" width="5.0" height="3.3" rx="1.4" fill="#78e2a6"/>
<rect x="279.6" y="259.6" width="5.0" height="3.3" rx="1.4" fill="#f42a10"/>
<rect x="285.4" y="256.2" width="5.0" height="3.3" rx="1.4" fill="#f42a10"/>
<rect x="285.4" y="259.6" width="5.0" height="3.3" rx="1.4" fill="#78e2a6"/>
<rect x="291.2" y="256.2" width="5.0" height="3.3" rx="1.4" fill="#78e2a6"/>
<rect x="291.2" y="259.6" width="5.0" height="3.3" rx="1.4" fill="#f42a10"/>
<path d="M296,256.3 Q302.5,258 302.2,263" fill="none" stroke="#f08a10" stroke-width="1.3"/>
<rect x="244" y="263.1" width="69" height="10.2" fill="#0a2cc0" stroke="none" stroke-width="1" />
<rect x="244" y="263.6" width="52.8" height="9.5" fill="url(#bpat)" stroke="none" stroke-width="1" />
<rect x="296.5" y="263.6" width="4" height="9.5" fill="#1550e0" opacity="0.6"/>
<line x1="244" y1="263.3" x2="313" y2="263.3" stroke="#111" stroke-width="0.6" />
<rect x="244" y="273.3" width="69" height="11" fill="#f8cf00" stroke="none" stroke-width="1" />
<path d="M244,277.5 Q262,274.5 276,276 Q292,278 312,276" fill="none" stroke="#ffe45a" stroke-width="1.6"/>
<path d="M250,282 Q270,279 300,281" fill="none" stroke="#ffe45a" stroke-width="1.0"/>
<line x1="244" y1="283.8" x2="313" y2="283.8" stroke="#eca400" stroke-width="0.8" />
<line x1="244" y1="273.8" x2="313" y2="273.8" stroke="#eca400" stroke-width="0.6" />
<text x="242.5" y="232.6" font-size="4.2" font-family="'Liberation Sans','Noto Sans CJK SC',sans-serif" text-anchor="end" fill="#333" >18</text>
<line x1="243.7" y1="231.2" x2="244.7" y2="231.2" stroke="#666" stroke-width="0.3" />
<line x1="313.3" y1="231.2" x2="312.3" y2="231.2" stroke="#666" stroke-width="0.3" />
<text x="242.5" y="237.2" font-size="4.2" font-family="'Liberation Sans','Noto Sans CJK SC',sans-serif" text-anchor="end" fill="#333" >16</text>
<line x1="243.7" y1="235.8" x2="244.7" y2="235.8" stroke="#666" stroke-width="0.3" />
<line x1="313.3" y1="235.8" x2="312.3" y2="235.8" stroke="#666" stroke-width="0.3" />
<text x="242.5" y="241.8" font-size="4.2" font-family="'Liberation Sans','Noto Sans CJK SC',sans-serif" text-anchor="end" fill="#333" >14</text>
<line x1="243.7" y1="240.4" x2="244.7" y2="240.4" stroke="#666" stroke-width="0.3" />
<line x1="313.3" y1="240.4" x2="312.3" y2="240.4" stroke="#666" stroke-width="0.3" />
<text x="242.5" y="246.4" font-size="4.2" font-family="'Liberation Sans','Noto Sans CJK SC',sans-serif" text-anchor="end" fill="#333" >12</text>
<line x1="243.7" y1="245" x2="244.7" y2="245" stroke="#666" stroke-width="0.3" />
<line x1="313.3" y1="245" x2="312.3" y2="245" stroke="#666" stroke-width="0.3" />
<text x="242.5" y="251" font-size="4.2" font-family="'Liberation Sans','Noto Sans CJK SC',sans-serif" text-anchor="end" fill="#333" >10</text>
<line x1="243.7" y1="249.6" x2="244.7" y2="249.6" stroke="#666" stroke-width="0.3" />
<line x1="313.3" y1="249.6" x2="312.3" y2="249.6" stroke="#666" stroke-width="0.3" />
<text x="242.5" y="255.6" font-size="4.2" font-family="'Liberation Sans','Noto Sans CJK SC',sans-serif" text-anchor="end" fill="#333" >8</text>
<line x1="243.7" y1="254.2" x2="244.7" y2="254.2" stroke="#666" stroke-width="0.3" />
<line x1="313.3" y1="254.2" x2="312.3" y2="254.2" stroke="#666" stroke-width="0.3" />
<text x="242.5" y="260.2" font-size="4.2" font-family="'Liberation Sans','Noto Sans CJK SC',sans-serif" text-anchor="end" fill="#333" >6</text>
<line x1="243.7" y1="258.8" x2="244.7" y2="258.8" stroke="#666" stroke-width="0.3" />
<line x1="313.3" y1="258.8" x2="312.3" y2="258.8" stroke="#666" stroke-width="0.3" />
<text x="242.5" y="264.8" font-size="4.2" font-family="'Liberation Sans','Noto Sans CJK SC',sans-serif" text-anchor="end" fill="#333" >4</text>
<line x1="243.7" y1="263.4" x2="244.7" y2="263.4" stroke="#666" stroke-width="0.3" />
<line x1="313.3" y1="263.4" x2="312.3" y2="263.4" stroke="#666" stroke-width="0.3" />
<text x="242.5" y="269.4" font-size="4.2" font-family="'Liberation Sans','Noto Sans CJK SC',sans-serif" text-anchor="end" fill="#333" >2</text>
<line x1="243.7" y1="268" x2="244.7" y2="268" stroke="#666" stroke-width="0.3" />
<line x1="313.3" y1="268" x2="312.3" y2="268" stroke="#666" stroke-width="0.3" />
<text x="242.5" y="274" font-size="4.2" font-family="'Liberation Sans','Noto Sans CJK SC',sans-serif" text-anchor="end" fill="#333" >0</text>
<line x1="243.7" y1="272.6" x2="244.7" y2="272.6" stroke="#666" stroke-width="0.3" />
<line x1="313.3" y1="272.6" x2="312.3" y2="272.6" stroke="#666" stroke-width="0.3" />
<text x="242.5" y="278.6" font-size="4.2" font-family="'Liberation Sans','Noto Sans CJK SC',sans-serif" text-anchor="end" fill="#333" >-2</text>
<line x1="243.7" y1="277.2" x2="244.7" y2="277.2" stroke="#666" stroke-width="0.3" />
<line x1="313.3" y1="277.2" x2="312.3" y2="277.2" stroke="#666" stroke-width="0.3" />
<text x="242.5" y="283.2" font-size="4.2" font-family="'Liberation Sans','Noto Sans CJK SC',sans-serif" text-anchor="end" fill="#333" >-4</text>
<line x1="243.7" y1="281.8" x2="244.7" y2="281.8" stroke="#666" stroke-width="0.3" />
<line x1="313.3" y1="281.8" x2="312.3" y2="281.8" stroke="#666" stroke-width="0.3" />
<text x="242.5" y="287.8" font-size="4.2" font-family="'Liberation Sans','Noto Sans CJK SC',sans-serif" text-anchor="end" fill="#333" >-6</text>
<line x1="243.7" y1="286.4" x2="244.7" y2="286.4" stroke="#666" stroke-width="0.3" />
<line x1="313.3" y1="286.4" x2="312.3" y2="286.4" stroke="#666" stroke-width="0.3" />
<text x="242.5" y="292.4" font-size="4.2" font-family="'Liberation Sans','Noto Sans CJK SC',sans-serif" text-anchor="end" fill="#333" >-8</text>
<line x1="243.7" y1="291" x2="244.7" y2="291" stroke="#666" stroke-width="0.3" />
<line x1="313.3" y1="291" x2="312.3" y2="291" stroke="#666" stroke-width="0.3" />
<text x="242.5" y="297" font-size="4.2" font-family="'Liberation Sans','Noto Sans CJK SC',sans-serif" text-anchor="end" fill="#333" >-10</text>
<line x1="243.7" y1="295.6" x2="244.7" y2="295.6" stroke="#666" stroke-width="0.3" />
<line x1="313.3" y1="295.6" x2="312.3" y2="295.6" stroke="#666" stroke-width="0.3" />
<text x="242.5" y="301.6" font-size="4.2" font-family="'Liberation Sans','Noto Sans CJK SC',sans-serif" text-anchor="end" fill="#333" >-12</text>
<line x1="243.7" y1="300.2" x2="244.7" y2="300.2" stroke="#666" stroke-width="0.3" />
<line x1="313.3" y1="300.2" x2="312.3" y2="300.2" stroke="#666" stroke-width="0.3" />
<text x="261" y="307.5" font-size="4.2" font-family="'Liberation Sans','Noto Sans CJK SC',sans-serif" text-anchor="middle" fill="#333" >20</text>
<line x1="261" y1="301" x2="261" y2="300" stroke="#666" stroke-width="0.3" />
<text x="284.1" y="307.5" font-size="4.2" font-family="'Liberation Sans','Noto Sans CJK SC',sans-serif" text-anchor="middle" fill="#333" >30</text>
<line x1="284.1" y1="301" x2="284.1" y2="300" stroke="#666" stroke-width="0.3" />
<text x="311" y="307.5" font-size="3.8" font-family="'Liberation Sans','Noto Sans CJK SC',sans-serif" text-anchor="middle" fill="#333" >mm</text>
<text x="247.8" y="236" font-size="7.1" font-family="'Liberation Serif','Noto Serif CJK SC',serif" text-anchor="start" fill="#222" >Underwater</text>
<text x="247.8" y="244" font-size="7.1" font-family="'Liberation Serif','Noto Serif CJK SC',serif" text-anchor="start" fill="#222" >sound</text>
<text x="285.7" y="236.3" font-size="7.3" font-family="'Liberation Serif','Noto Serif CJK SC',serif" text-anchor="start" fill="#222" >titanium</text>
<text x="287.6" y="244.3" font-size="7.3" font-family="'Liberation Serif','Noto Serif CJK SC',serif" text-anchor="start" fill="#222" >alloy</text>
<text x="260.6" y="293.6" font-size="8.2" font-family="'Liberation Serif','Noto Serif CJK SC',serif" text-anchor="start" fill="#222" >water</text>
<line x1="270.9" y1="246.5" x2="276" y2="254" stroke="#3a78d0" stroke-width="0.7" />
<polygon points="274.3,254.6 277.6,256.3 277.2,252.6" fill="#3a78d0"/>
<line x1="294.8" y1="245.5" x2="294.8" y2="266.5" stroke="#7aa4e0" stroke-width="0.7" />
<polygon points="293.5,266 294.8,268.8 296.1,266" fill="#7aa4e0"/>
<line x1="269.5" y1="287.5" x2="276.2" y2="281" stroke="#3a78d0" stroke-width="0.7" />
<polygon points="274.5,280.6 277.8,279.4 276.9,282.8" fill="#3a78d0"/>
<defs><linearGradient id="jet" x1="0" y1="1" x2="0" y2="0"><stop offset="0" stop-color="#00008f"/><stop offset="0.12" stop-color="#0000ff"/><stop offset="0.37" stop-color="#00ffff"/><stop offset="0.5" stop-color="#80ff80"/><stop offset="0.62" stop-color="#ffff00"/><stop offset="0.87" stop-color="#ff0000"/><stop offset="1" stop-color="#800000"/></linearGradient><linearGradient id="jet2" x1="0" y1="1" x2="0" y2="0"><stop offset="0" stop-color="#00008f"/><stop offset="0.1" stop-color="#0000ff"/><stop offset="0.33" stop-color="#00ffff"/><stop offset="0.5" stop-color="#a0ff60"/><stop offset="0.62" stop-color="#ffff00"/><stop offset="0.87" stop-color="#ff0000"/><stop offset="1" stop-color="#800000"/></linearGradient></defs>
<rect x="321.7" y="234" width="5.3" height="67" fill="url(#jet)" stroke="#666" stroke-width="0.3" />
<rect x="351.7" y="234" width="5.3" height="67" fill="url(#jet2)" stroke="#666" stroke-width="0.3" />
<text x="329.3" y="235.6" font-size="4.6" font-family="'Liberation Sans','Noto Sans CJK SC',sans-serif" text-anchor="start" fill="#333" >10</text>
<line x1="327" y1="234" x2="328.2" y2="234" stroke="#555" stroke-width="0.3" />
<text x="329.3" y="242.3" font-size="4.6" font-family="'Liberation Sans','Noto Sans CJK SC',sans-serif" text-anchor="start" fill="#333" >9</text>
<line x1="327" y1="240.7" x2="328.2" y2="240.7" stroke="#555" stroke-width="0.3" />
<text x="329.3" y="249" font-size="4.6" font-family="'Liberation Sans','Noto Sans CJK SC',sans-serif" text-anchor="start" fill="#333" >8</text>
<line x1="327" y1="247.4" x2="328.2" y2="247.4" stroke="#555" stroke-width="0.3" />
<text x="329.3" y="255.7" font-size="4.6" font-family="'Liberation Sans','Noto Sans CJK SC',sans-serif" text-anchor="start" fill="#333" >7</text>
<line x1="327" y1="254.1" x2="328.2" y2="254.1" stroke="#555" stroke-width="0.3" />
<text x="329.3" y="262.4" font-size="4.6" font-family="'Liberation Sans','Noto Sans CJK SC',sans-serif" text-anchor="start" fill="#333" >6</text>
<line x1="327" y1="260.8" x2="328.2" y2="260.8" stroke="#555" stroke-width="0.3" />
<text x="329.3" y="269.1" font-size="4.6" font-family="'Liberation Sans','Noto Sans CJK SC',sans-serif" text-anchor="start" fill="#333" >5</text>
<line x1="327" y1="267.5" x2="328.2" y2="267.5" stroke="#555" stroke-width="0.3" />
<text x="329.3" y="275.8" font-size="4.6" font-family="'Liberation Sans','Noto Sans CJK SC',sans-serif" text-anchor="start" fill="#333" >4</text>
<line x1="327" y1="274.2" x2="328.2" y2="274.2" stroke="#555" stroke-width="0.3" />
<text x="329.3" y="282.5" font-size="4.6" font-family="'Liberation Sans','Noto Sans CJK SC',sans-serif" text-anchor="start" fill="#333" >3</text>
<line x1="327" y1="280.9" x2="328.2" y2="280.9" stroke="#555" stroke-width="0.3" />
<text x="329.3" y="289.2" font-size="4.6" font-family="'Liberation Sans','Noto Sans CJK SC',sans-serif" text-anchor="start" fill="#333" >2</text>
<line x1="327" y1="287.6" x2="328.2" y2="287.6" stroke="#555" stroke-width="0.3" />
<text x="329.3" y="295.9" font-size="4.6" font-family="'Liberation Sans','Noto Sans CJK SC',sans-serif" text-anchor="start" fill="#333" >1</text>
<line x1="327" y1="294.3" x2="328.2" y2="294.3" stroke="#555" stroke-width="0.3" />
<text x="329.3" y="302.6" font-size="4.6" font-family="'Liberation Sans','Noto Sans CJK SC',sans-serif" text-anchor="start" fill="#333" >0</text>
<line x1="327" y1="301" x2="328.2" y2="301" stroke="#555" stroke-width="0.3" />
<text x="359.3" y="235.6" font-size="4.6" font-family="'Liberation Sans','Noto Sans CJK SC',sans-serif" text-anchor="start" fill="#333" >2</text>
<line x1="357" y1="234" x2="358.2" y2="234" stroke="#555" stroke-width="0.3" />
<text x="359.3" y="246.8" font-size="4.6" font-family="'Liberation Sans','Noto Sans CJK SC',sans-serif" text-anchor="start" fill="#333" >1</text>
<line x1="357" y1="245.2" x2="358.2" y2="245.2" stroke="#555" stroke-width="0.3" />
<text x="359.3" y="257.9" font-size="4.6" font-family="'Liberation Sans','Noto Sans CJK SC',sans-serif" text-anchor="start" fill="#333" >0</text>
<line x1="357" y1="256.3" x2="358.2" y2="256.3" stroke="#555" stroke-width="0.3" />
<text x="359.3" y="269.1" font-size="4.6" font-family="'Liberation Sans','Noto Sans CJK SC',sans-serif" text-anchor="start" fill="#333" >-1</text>
<line x1="357" y1="267.5" x2="358.2" y2="267.5" stroke="#555" stroke-width="0.3" />
<text x="359.3" y="280.3" font-size="4.6" font-family="'Liberation Sans','Noto Sans CJK SC',sans-serif" text-anchor="start" fill="#333" >-2</text>
<line x1="357" y1="278.7" x2="358.2" y2="278.7" stroke="#555" stroke-width="0.3" />
<text x="359.3" y="291.4" font-size="4.6" font-family="'Liberation Sans','Noto Sans CJK SC',sans-serif" text-anchor="start" fill="#333" >-3</text>
<line x1="357" y1="289.8" x2="358.2" y2="289.8" stroke="#555" stroke-width="0.3" />
<text x="359.3" y="302.6" font-size="4.6" font-family="'Liberation Sans','Noto Sans CJK SC',sans-serif" text-anchor="start" fill="#333" >-4</text>
<line x1="357" y1="301" x2="358.2" y2="301" stroke="#555" stroke-width="0.3" />
<text x="327.2" y="232.0" font-size="4.4" font-family="'Liberation Sans','Noto Sans CJK SC',sans-serif" fill="#333">×10<tspan font-size="3.2" dy="-1.7">-9</tspan></text>
<text x="357.3" y="232.0" font-size="4.4" font-family="'Liberation Sans','Noto Sans CJK SC',sans-serif" fill="#333">×10<tspan font-size="3.2" dy="-1.7">5</tspan></text>
<text x="380.8" y="221.3" font-size="17.6" font-family="'Liberation Sans','Noto Sans CJK SC',sans-serif" text-anchor="start" fill="#111" >(h)</text>
<rect x="416.4" y="220.3" width="121.7" height="77.5" fill="#ffffff" stroke="#666" stroke-width="0.6" />
<line x1="416.4" y1="296.9" x2="538.1" y2="296.9" stroke="#ececec" stroke-width="0.4" />
<line x1="416.4" y1="292" x2="538.1" y2="292" stroke="#ececec" stroke-width="0.4" />
<line x1="416.4" y1="287.1" x2="538.1" y2="287.1" stroke="#ececec" stroke-width="0.4" />
<line x1="416.4" y1="282.2" x2="538.1" y2="282.2" stroke="#ececec" stroke-width="0.4" />
<line x1="416.4" y1="277.3" x2="538.1" y2="277.3" stroke="#ececec" stroke-width="0.4" />
<line x1="416.4" y1="272.4" x2="538.1" y2="272.4" stroke="#ececec" stroke-width="0.4" />
<line x1="416.4" y1="267.5" x2="538.1" y2="267.5" stroke="#ececec" stroke-width="0.4" />
<line x1="416.4" y1="262.6" x2="538.1" y2="262.6" stroke="#ececec" stroke-width="0.4" />
<line x1="416.4" y1="257.7" x2="538.1" y2="257.7" stroke="#ececec" stroke-width="0.4" />
<line x1="416.4" y1="252.8" x2="538.1" y2="252.8" stroke="#ececec" stroke-width="0.4" />
<line x1="416.4" y1="247.9" x2="538.1" y2="247.9" stroke="#ececec" stroke-width="0.4" />
<line x1="416.4" y1="243" x2="538.1" y2="243" stroke="#ececec" stroke-width="0.4" />
<line x1="416.4" y1="238.1" x2="538.1" y2="238.1" stroke="#ececec" stroke-width="0.4" />
<line x1="416.4" y1="233.2" x2="538.1" y2="233.2" stroke="#ececec" stroke-width="0.4" />
<line x1="416.4" y1="228.3" x2="538.1" y2="228.3" stroke="#ececec" stroke-width="0.4" />
<line x1="416.4" y1="223.4" x2="538.1" y2="223.4" stroke="#ececec" stroke-width="0.4" />
<line x1="458.8" y1="220.3" x2="458.8" y2="297.8" stroke="#ececec" stroke-width="0.4" />
<line x1="497.3" y1="220.3" x2="497.3" y2="297.8" stroke="#ececec" stroke-width="0.4" />
<text transform="translate(414.8,225) scale(1.08,1)" font-size="4.4" font-family="'Liberation Sans','Noto Sans CJK SC',sans-serif" text-anchor="end" fill="#333">0.016</text>
<line x1="416.4" y1="223.4" x2="417.6" y2="223.4" stroke="#555" stroke-width="0.3" />
<line x1="538.1" y1="223.4" x2="536.9" y2="223.4" stroke="#555" stroke-width="0.3" />
<text transform="translate(414.8,229.9) scale(1.08,1)" font-size="4.4" font-family="'Liberation Sans','Noto Sans CJK SC',sans-serif" text-anchor="end" fill="#333">0.014</text>
<line x1="416.4" y1="228.3" x2="417.6" y2="228.3" stroke="#555" stroke-width="0.3" />
<line x1="538.1" y1="228.3" x2="536.9" y2="228.3" stroke="#555" stroke-width="0.3" />
<text transform="translate(414.8,234.8) scale(1.08,1)" font-size="4.4" font-family="'Liberation Sans','Noto Sans CJK SC',sans-serif" text-anchor="end" fill="#333">0.012</text>
<line x1="416.4" y1="233.2" x2="417.6" y2="233.2" stroke="#555" stroke-width="0.3" />
<line x1="538.1" y1="233.2" x2="536.9" y2="233.2" stroke="#555" stroke-width="0.3" />
<text transform="translate(414.8,239.7) scale(1.08,1)" font-size="4.4" font-family="'Liberation Sans','Noto Sans CJK SC',sans-serif" text-anchor="end" fill="#333">0.01</text>
<line x1="416.4" y1="238.1" x2="417.6" y2="238.1" stroke="#555" stroke-width="0.3" />
<line x1="538.1" y1="238.1" x2="536.9" y2="238.1" stroke="#555" stroke-width="0.3" />
<text transform="translate(414.8,244.6) scale(1.08,1)" font-size="4.4" font-family="'Liberation Sans','Noto Sans CJK SC',sans-serif" text-anchor="end" fill="#333">0.008</text>
<line x1="416.4" y1="243" x2="417.6" y2="243" stroke="#555" stroke-width="0.3" />
<line x1="538.1" y1="243" x2="536.9" y2="243" stroke="#555" stroke-width="0.3" />
<text transform="translate(414.8,249.5) scale(1.08,1)" font-size="4.4" font-family="'Liberation Sans','Noto Sans CJK SC',sans-serif" text-anchor="end" fill="#333">0.006</text>
<line x1="416.4" y1="247.9" x2="417.6" y2="247.9" stroke="#555" stroke-width="0.3" />
<line x1="538.1" y1="247.9" x2="536.9" y2="247.9" stroke="#555" stroke-width="0.3" />
<text transform="translate(414.8,254.4) scale(1.08,1)" font-size="4.4" font-family="'Liberation Sans','Noto Sans CJK SC',sans-serif" text-anchor="end" fill="#333">0.004</text>
<line x1="416.4" y1="252.8" x2="417.6" y2="252.8" stroke="#555" stroke-width="0.3" />
<line x1="538.1" y1="252.8" x2="536.9" y2="252.8" stroke="#555" stroke-width="0.3" />
<text transform="translate(414.8,259.3) scale(1.08,1)" font-size="4.4" font-family="'Liberation Sans','Noto Sans CJK SC',sans-serif" text-anchor="end" fill="#333">0.002</text>
<line x1="416.4" y1="257.7" x2="417.6" y2="257.7" stroke="#555" stroke-width="0.3" />
<line x1="538.1" y1="257.7" x2="536.9" y2="257.7" stroke="#555" stroke-width="0.3" />
<text transform="translate(414.8,264.2) scale(1.08,1)" font-size="4.4" font-family="'Liberation Sans','Noto Sans CJK SC',sans-serif" text-anchor="end" fill="#333">0</text>
<line x1="416.4" y1="262.6" x2="417.6" y2="262.6" stroke="#555" stroke-width="0.3" />
<line x1="538.1" y1="262.6" x2="536.9" y2="262.6" stroke="#555" stroke-width="0.3" />
<text transform="translate(414.8,269.1) scale(1.08,1)" font-size="4.4" font-family="'Liberation Sans','Noto Sans CJK SC',sans-serif" text-anchor="end" fill="#333">-0.002</text>
<line x1="416.4" y1="267.5" x2="417.6" y2="267.5" stroke="#555" stroke-width="0.3" />
<line x1="538.1" y1="267.5" x2="536.9" y2="267.5" stroke="#555" stroke-width="0.3" />
<text transform="translate(414.8,274) scale(1.08,1)" font-size="4.4" font-family="'Liberation Sans','Noto Sans CJK SC',sans-serif" text-anchor="end" fill="#333">-0.004</text>
<line x1="416.4" y1="272.4" x2="417.6" y2="272.4" stroke="#555" stroke-width="0.3" />
<line x1="538.1" y1="272.4" x2="536.9" y2="272.4" stroke="#555" stroke-width="0.3" />
<text transform="translate(414.8,278.9) scale(1.08,1)" font-size="4.4" font-family="'Liberation Sans','Noto Sans CJK SC',sans-serif" text-anchor="end" fill="#333">-0.006</text>
<line x1="416.4" y1="277.3" x2="417.6" y2="277.3" stroke="#555" stroke-width="0.3" />
<line x1="538.1" y1="277.3" x2="536.9" y2="277.3" stroke="#555" stroke-width="0.3" />
<text transform="translate(414.8,283.8) scale(1.08,1)" font-size="4.4" font-family="'Liberation Sans','Noto Sans CJK SC',sans-serif" text-anchor="end" fill="#333">-0.008</text>
<line x1="416.4" y1="282.2" x2="417.6" y2="282.2" stroke="#555" stroke-width="0.3" />
<line x1="538.1" y1="282.2" x2="536.9" y2="282.2" stroke="#555" stroke-width="0.3" />
<text transform="translate(414.8,288.7) scale(1.08,1)" font-size="4.4" font-family="'Liberation Sans','Noto Sans CJK SC',sans-serif" text-anchor="end" fill="#333">-0.01</text>
<line x1="416.4" y1="287.1" x2="417.6" y2="287.1" stroke="#555" stroke-width="0.3" />
<line x1="538.1" y1="287.1" x2="536.9" y2="287.1" stroke="#555" stroke-width="0.3" />
<text transform="translate(414.8,293.6) scale(1.08,1)" font-size="4.4" font-family="'Liberation Sans','Noto Sans CJK SC',sans-serif" text-anchor="end" fill="#333">-0.012</text>
<line x1="416.4" y1="292" x2="417.6" y2="292" stroke="#555" stroke-width="0.3" />
<line x1="538.1" y1="292" x2="536.9" y2="292" stroke="#555" stroke-width="0.3" />
<text transform="translate(414.8,298.5) scale(1.08,1)" font-size="4.4" font-family="'Liberation Sans','Noto Sans CJK SC',sans-serif" text-anchor="end" fill="#333">-0.014</text>
<line x1="416.4" y1="296.9" x2="417.6" y2="296.9" stroke="#555" stroke-width="0.3" />
<line x1="538.1" y1="296.9" x2="536.9" y2="296.9" stroke="#555" stroke-width="0.3" />
<text x="420.4" y="303.9" font-size="4.6" font-family="'Liberation Sans','Noto Sans CJK SC',sans-serif" text-anchor="middle" fill="#333" >0</text>
<line x1="420.4" y1="297.8" x2="420.4" y2="296.6" stroke="#555" stroke-width="0.3" />
<line x1="420.4" y1="220.3" x2="420.4" y2="221.5" stroke="#555" stroke-width="0.3" />
<text x="458.8" y="303.9" font-size="4.6" font-family="'Liberation Sans','Noto Sans CJK SC',sans-serif" text-anchor="middle" fill="#333" >20</text>
<line x1="458.8" y1="297.8" x2="458.8" y2="296.6" stroke="#555" stroke-width="0.3" />
<line x1="458.8" y1="220.3" x2="458.8" y2="221.5" stroke="#555" stroke-width="0.3" />
<text x="497.3" y="303.9" font-size="4.6" font-family="'Liberation Sans','Noto Sans CJK SC',sans-serif" text-anchor="middle" fill="#333" >40</text>
<line x1="497.3" y1="297.8" x2="497.3" y2="296.6" stroke="#555" stroke-width="0.3" />
<line x1="497.3" y1="220.3" x2="497.3" y2="221.5" stroke="#555" stroke-width="0.3" />
<text x="535.7" y="303.9" font-size="4.6" font-family="'Liberation Sans','Noto Sans CJK SC',sans-serif" text-anchor="middle" fill="#333" >60</text>
<line x1="535.7" y1="297.8" x2="535.7" y2="296.6" stroke="#555" stroke-width="0.3" />
<line x1="535.7" y1="220.3" x2="535.7" y2="221.5" stroke="#555" stroke-width="0.3" />
<text x="478.2" y="307.4" font-size="4.8" font-family="'Liberation Sans','Noto Sans CJK SC',sans-serif" text-anchor="middle" fill="#333" >Time (μs)</text>
<text transform="translate(398.5,259.9) rotate(-90)" font-size="4.55" font-family="'Liberation Sans','Noto Sans CJK SC',sans-serif" text-anchor="middle" fill="#333">Signal amplitude (V)</text>
<polyline points="420.4,262.6 420.5,262.6 420.5,262.6 420.6,262.6 420.7,262.6 420.8,262.6 420.8,262.6 420.9,262.6 421,262.6 421,262.6 421.1,262.6 421.2,262.6 421.3,262.6 421.3,262.6 421.4,262.6 421.5,262.6 421.6,262.6 421.6,262.6 421.7,262.6 421.8,262.6 421.8,262.6 421.9,262.6 422,262.6 422.1,262.6 422.1,262.6 422.2,262.6 422.3,262.6 422.3,262.6 422.4,262.6 422.5,262.6 422.6,262.6 422.6,262.6 422.7,262.6 422.8,262.6 422.9,262.6 422.9,262.6 423,262.6 423.1,262.6 423.1,262.6 423.2,262.6 423.3,262.6 423.4,262.6 423.4,262.6 423.5,262.6 423.6,262.6 423.6,262.6 423.7,262.6 423.8,262.6 423.9,262.6 423.9,262.6 424,262.6 424.1,262.6 424.2,262.6 424.2,262.6 424.3,262.6 424.4,262.6 424.4,262.6 424.5,262.6 424.6,262.6 424.7,262.6 424.7,262.6 424.8,262.6 424.9,262.6 424.9,262.6 425,262.6 425.1,262.6 425.2,262.6 425.2,262.6 425.3,262.6 425.4,262.6 425.4,262.6 425.5,262.6 425.6,262.6 425.7,262.6 425.7,262.6 425.8,262.6 425.9,262.6 426,262.6 426,262.6 426.1,262.6 426.2,262.6 426.2,262.6 426.3,262.6 426.4,262.6 426.5,262.6 426.5,262.6 426.6,262.6 426.7,262.6 426.7,262.6 426.8,262.6 426.9,262.6 427,262.6 427,262.6 427.1,262.6 427.2,262.6 427.3,262.6 427.3,262.6 427.4,262.6 427.5,262.6 427.5,262.6 427.6,262.6 427.7,262.6 427.8,262.6 427.8,262.6 427.9,262.6 428,262.6 428,262.6 428.1,262.6 428.2,262.6 428.3,262.6 428.3,262.6 428.4,262.6 428.5,262.6 428.5,262.6 428.6,262.6 428.7,262.6 428.8,262.6 428.8,262.6 428.9,262.6 429,262.6 429.1,262.6 429.1,262.6 429.2,262.6 429.3,262.6 429.3,262.6 429.4,262.6 429.5,262.6 429.6,262.6 429.6,262.6 429.7,262.6 429.8,262.6 429.8,262.6 429.9,262.6 430,262.6 430.1,262.6 430.1,262.6 430.2,262.6 430.3,262.6 430.4,262.6 430.4,262.6 430.5,262.6 430.6,262.6 430.6,262.6 430.7,262.6 430.8,262.6 430.9,262.6 430.9,262.6 431,262.6 431.1,262.6 431.1,262.6 431.2,262.6 431.3,262.6 431.4,262.6 431.4,262.6 431.5,262.6 431.6,262.6 431.7,262.6 431.7,262.6 431.8,262.6 431.9,262.6 431.9,262.6 432,262.6 432.1,262.6 432.2,262.6 432.2,262.6 432.3,262.6 432.4,262.6 432.4,262.6 432.5,262.6 432.6,262.6 432.7,262.6 432.7,262.6 432.8,262.6 432.9,262.6 432.9,262.6 433,262.6 433.1,262.6 433.2,262.6 433.2,262.6 433.3,262.6 433.4,262.6 433.5,262.6 433.5,262.6 433.6,262.6 433.7,262.6 433.7,262.6 433.8,262.6 433.9,262.6 434,262.6 434,262.6 434.1,262.6 434.2,262.6 434.2,262.6 434.3,262.6 434.4,262.6 434.5,262.6 434.5,262.6 434.6,262.6 434.7,262.6 434.8,262.6 434.8,262.6 434.9,262.6 435,262.6 435,262.6 435.1,262.6 435.2,262.6 435.3,262.6 435.3,262.6 435.4,262.6 435.5,262.6 435.5,262.6 435.6,262.6 435.7,262.6 435.8,262.6 435.8,262.6 435.9,262.6 436,262.6 436.1,262.6 436.1,262.6 436.2,262.6 436.3,262.6 436.3,262.6 436.4,262.6 436.5,262.6 436.6,262.6 436.6,262.6 436.7,262.6 436.8,262.6 436.8,262.6 436.9,262.6 437,262.6 437.1,262.6 437.1,262.6 437.2,262.6 437.3,262.6 437.3,262.6 437.4,262.6 437.5,262.6 437.6,262.6 437.6,262.6 437.7,262.6 437.8,262.6 437.9,262.6 437.9,262.6 438,262.6 438.1,262.6 438.1,262.6 438.2,262.6 438.3,262.6 438.4,262.6 438.4,262.6 438.5,262.6 438.6,262.6 438.6,262.6 438.7,262.6 438.8,262.6 438.9,262.6 438.9,262.6 439,262.6 439.1,262.6 439.2,262.6 439.2,262.6 439.3,262.6 439.4,262.6 439.4,262.6 439.5,262.6 439.6,262.6 439.7,262.6 439.7,262.6 439.8,262.6 439.9,262.6 439.9,262.6 440,262.6 440.1,262.6 440.2,262.6 440.2,262.6 440.3,262.6 440.4,262.6 440.4,262.6 440.5,262.6 440.6,262.6 440.7,262.6 440.7,262.6 440.8,262.6 440.9,262.6 441,262.6 441,262.6 441.1,262.6 441.2,262.6 441.2,262.6 441.3,262.6 441.4,262.6 441.5,262.6 441.5,262.6 441.6,262.6 441.7,262.6 441.7,262.6 441.8,262.6 441.9,262.6 442,262.6 442,262.6 442.1,262.6 442.2,262.6 442.3,262.6 442.3,262.6 442.4,262.6 442.5,262.6 442.5,262.6 442.6,262.6 442.7,262.6 442.8,262.6 442.8,262.6 442.9,262.6 443,262.6 443,262.6 443.1,262.6 443.2,262.6 443.3,262.6 443.3,262.6 443.4,262.6 443.5,262.6 443.6,262.6 443.6,262.6 443.7,262.6 443.8,262.6 443.8,262.6 443.9,262.6 444,262.6 444.1,262.6 444.1,262.6 444.2,262.6 444.3,262.6 444.3,262.6 444.4,262.6 444.5,262.6 444.6,262.6 444.6,262.6 444.7,262.6 444.8,262.6 444.8,262.6 444.9,262.6 445,262.6 445.1,262.6 445.1,262.6 445.2,262.6 445.3,262.6 445.4,262.6 445.4,262.6 445.5,262.6 445.6,262.6 445.6,262.6 445.7,262.6 445.8,262.6 445.9,262.6 445.9,262.6 446,262.6 446.1,262.6 446.1,262.6 446.2,262.6 446.3,262.6 446.4,262.6 446.4,262.6 446.5,262.6 446.6,262.6 446.7,262.6 446.7,262.6 446.8,262.6 446.9,262.6 446.9,262.6 447,262.6 447.1,262.6 447.2,262.6 447.2,262.6 447.3,262.6 447.4,262.6 447.4,262.6 447.5,262.6 447.6,262.6 447.7,262.6 447.7,262.6 447.8,262.6 447.9,262.6 447.9,262.6 448,262.6 448.1,262.6 448.2,262.6 448.2,262.6 448.3,262.6 448.4,262.6 448.5,262.6 448.5,262.6 448.6,262.6 448.7,262.6 448.7,262.6 448.8,262.6 448.9,262.6 449,262.6 449,262.6 449.1,262.6 449.2,262.6 449.2,262.6 449.3,262.6 449.4,262.6 449.5,262.6 449.5,262.6 449.6,262.6 449.7,262.6 449.8,262.6 449.8,262.6 449.9,262.6 450,262.6 450,262.6 450.1,262.6 450.2,262.6 450.3,262.6 450.3,262.6 450.4,262.6 450.5,262.6 450.5,262.6 450.6,262.6 450.7,262.6 450.8,262.6 450.8,262.6 450.9,262.6 451,262.6 451.1,262.6 451.1,262.6 451.2,262.6 451.3,262.6 451.3,262.6 451.4,262.6 451.5,262.6 451.6,262.6 451.6,262.6 451.7,262.6 451.8,262.6 451.8,262.6 451.9,262.6 452,262.6 452.1,262.6 452.1,262.6 452.2,262.6 452.3,262.6 452.3,262.6 452.4,262.6 452.5,262.6 452.6,262.6 452.6,262.6 452.7,262.6 452.8,262.6 452.9,262.6 452.9,262.6 453,262.6 453.1,262.6 453.1,262.1 453.2,262.1 453.3,262 453.4,262 453.4,262 453.5,262 453.6,262 453.6,262 453.7,262 453.8,262.1 453.9,262.1 453.9,262.1 454,262.1 454.1,262.2 454.2,262.2 454.2,262.2 454.3,262.3 454.4,262.3 454.4,262.4 454.5,262.5 454.6,262.5 454.7,262.6 454.7,262.6 454.8,262.7 454.9,262.8 454.9,262.8 455,262.9 455.1,263 455.2,263 455.2,263.1 455.3,263.2 455.4,263.2 455.5,263.3 455.5,263.4 455.6,263.4 455.7,263.5 455.7,263.5 455.8,263.6 455.9,263.6 456,263.6 456,263.6 456.1,263.7 456.2,263.7 456.2,263.7 456.3,263.7 456.4,263.7 456.5,263.6 456.5,263.6 456.6,263.6 456.7,263.5 456.7,263.5 456.8,263.4 456.9,263.3 457,263.2 457,263.2 457.1,263.1 457.2,263 457.3,262.9 457.3,262.7 457.4,262.6 457.5,262.5 457.5,262.4 457.6,262.3 457.7,262.1 457.8,262 457.8,261.9 457.9,261.8 458,261.7 458,261.5 458.1,261.4 458.2,261.3 458.3,261.2 458.3,261.1 458.4,261 458.5,260.9 458.6,260.9 458.6,260.8 458.7,260.8 458.8,260.7 458.8,260.7 458.9,260.7 459,260.7 459.1,260.7 459.1,260.8 459.2,260.8 459.3,260.9 459.3,260.9 459.4,261 459.5,261.1 459.6,261.2 459.6,261.4 459.7,261.5 459.8,261.7 459.8,261.8 459.9,262 460,262.2 460.1,262.4 460.1,262.6 460.2,262.8 460.3,263 460.4,263.2 460.4,263.4 460.5,263.6 460.6,263.8 460.6,264 460.7,264.2 460.8,264.4 460.9,264.6 460.9,264.8 461,265 461.1,265.1 461.1,265.3 461.2,265.4 461.3,265.5 461.4,265.6 461.4,265.7 461.5,265.7 461.6,265.8 461.7,265.8 461.7,265.8 461.8,265.7 461.9,265.7 461.9,265.6 462,265.5 462.1,265.3 462.2,265.2 462.2,265 462.3,264.8 462.4,264.6 462.4,264.4 462.5,264.1 462.6,263.8 462.7,263.5 462.7,263.2 462.8,262.9 462.9,262.6 463,262.3 463,261.9 463.1,261.6 463.2,261.2 463.2,260.9 463.3,260.5 463.4,260.2 463.5,259.9 463.5,259.6 463.6,259.3 463.7,259 463.7,258.7 463.8,258.5 463.9,258.3 464,258.1 464,257.9 464.1,257.8 464.2,257.7 464.2,257.6 464.3,257.6 464.4,257.6 464.5,257.6 464.5,257.7 464.6,257.8 464.7,257.9 464.8,258.1 464.8,258.3 464.9,258.6 465,258.9 465,259.2 465.1,259.5 465.2,259.9 465.3,260.3 465.3,260.8 465.4,261.2 465.5,261.7 465.5,262.2 465.6,262.7 465.7,263.2 465.8,263.7 465.8,264.3 465.9,264.8 466,265.3 466.1,265.8 466.1,266.4 466.2,266.8 466.3,267.3 466.3,267.8 466.4,268.2 466.5,268.6 466.6,268.9 466.6,269.2 466.7,269.5 466.8,269.7 466.8,269.9 466.9,270.1 467,270.2 467.1,270.2 467.1,270.2 467.2,270.1 467.3,270 467.4,269.8 467.4,269.6 467.5,269.3 467.6,268.9 467.6,268.5 467.7,268.1 467.8,267.6 467.9,267.1 467.9,266.5 468,265.9 468.1,265.2 468.1,264.5 468.2,263.8 468.3,263.1 468.4,262.3 468.4,261.6 468.5,260.8 468.6,260 468.6,259.3 468.7,258.5 468.8,257.8 468.9,257 468.9,256.3 469,255.7 469.1,255 469.2,254.4 469.2,253.9 469.3,253.4 469.4,253 469.4,252.6 469.5,252.3 469.6,252 469.7,251.9 469.7,251.8 469.8,251.7 469.9,251.8 469.9,251.9 470,252.1 470.1,252.4 470.2,252.8 470.2,253.2 470.3,253.7 470.4,254.3 470.5,254.9 470.5,255.7 470.6,256.4 470.7,257.3 470.7,258.2 470.8,259.1 470.9,260 471,261.1 471,262.1 471.1,263.1 471.2,264.2 471.2,265.3 471.3,266.3 471.4,267.4 471.5,268.4 471.5,269.5 471.6,270.4 471.7,271.4 471.7,272.3 471.8,273.1 471.9,273.9 472,274.6 472,275.3 472.1,275.8 472.2,276.3 472.3,276.7 472.3,277 472.4,277.2 472.5,277.3 472.5,277.3 472.6,277.2 472.7,277 472.8,276.7 472.8,276.2 472.9,275.7 473,275.1 473,274.4 473.1,273.6 473.2,272.7 473.3,271.7 473.3,270.6 473.4,269.5 473.5,268.3 473.6,267.1 473.6,265.8 473.7,264.4 473.8,263.1 473.8,261.7 473.9,260.3 474,258.9 474.1,257.5 474.1,256.1 474.2,254.7 474.3,253.4 474.3,252.2 474.4,250.9 474.5,249.8 474.6,248.7 474.6,247.7 474.7,246.8 474.8,246.1 474.9,245.4 474.9,244.8 475,244.3 475.1,244 475.1,243.8 475.2,243.7 475.3,243.8 475.4,243.9 475.4,244.3 475.5,244.7 475.6,245.3 475.6,246 475.7,246.8 475.8,247.8 475.9,248.8 475.9,250 476,251.3 476.1,252.6 476.1,254.1 476.2,255.6 476.3,257.2 476.4,258.9 476.4,260.6 476.5,262.3 476.6,264 476.7,265.8 476.7,267.5 476.8,269.3 476.9,271 476.9,272.6 477,274.2 477.1,275.8 477.2,277.3 477.2,278.6 477.3,279.9 477.4,281.1 477.4,282.1 477.5,283.1 477.6,283.9 477.7,284.5 477.7,285 477.8,285.4 477.9,285.6 478,285.6 478,285.5 478.1,285.2 478.2,284.8 478.2,284.2 478.3,283.4 478.4,282.5 478.5,281.5 478.5,280.3 478.6,279 478.7,277.5 478.7,275.9 478.8,274.3 478.9,272.5 479,270.6 479,268.7 479.1,266.7 479.2,264.7 479.2,262.6 479.3,260.6 479.4,258.5 479.5,256.4 479.5,254.4 479.6,252.4 479.7,250.5 479.8,248.6 479.8,246.8 479.9,245.1 480,243.6 480,242.1 480.1,240.8 480.2,239.6 480.3,238.6 480.3,237.7 480.4,237 480.5,236.5 480.5,236.2 480.6,236 480.7,236 480.8,236.2 480.8,236.6 480.9,237.2 481,237.9 481.1,238.9 481.1,240 481.2,241.2 481.3,242.6 481.3,244.2 481.4,245.9 481.5,247.7 481.6,249.7 481.6,251.7 481.7,253.8 481.8,256 481.8,258.3 481.9,260.6 482,262.9 482.1,265.2 482.1,267.6 482.2,269.9 482.3,272.1 482.4,274.3 482.4,276.5 482.5,278.5 482.6,280.5 482.6,282.3 482.7,284 482.8,285.5 482.9,287 482.9,288.2 483,289.3 483.1,290.2 483.1,290.9 483.2,291.4 483.3,291.7 483.4,291.8 483.4,291.7 483.5,291.4 483.6,290.9 483.6,290.2 483.7,289.3 483.8,288.2 483.9,287 483.9,285.5 484,284 484.1,282.2 484.2,280.3 484.2,278.3 484.3,276.2 484.4,274 484.4,271.6 484.5,269.3 484.6,266.8 484.7,264.4 484.7,261.9 484.8,259.4 484.9,256.9 484.9,254.5 485,252.1 485.1,249.8 485.2,247.6 485.2,245.4 485.3,243.4 485.4,241.6 485.5,239.8 485.5,238.2 485.6,236.8 485.7,235.6 485.7,234.5 485.8,233.7 485.9,233 486,232.6 486,232.3 486.1,232.3 486.2,232.4 486.2,232.8 486.3,233.4 486.4,234.2 486.5,235.2 486.5,236.4 486.6,237.7 486.7,239.3 486.8,241 486.8,242.8 486.9,244.8 487,246.9 487,249.1 487.1,251.4 487.2,253.8 487.3,256.2 487.3,258.7 487.4,261.2 487.5,263.7 487.5,266.2 487.6,268.7 487.7,271.1 487.8,273.5 487.8,275.8 487.9,278 488,280.1 488,282.1 488.1,283.9 488.2,285.6 488.3,287.1 488.3,288.5 488.4,289.6 488.5,290.6 488.6,291.4 488.6,292 488.7,292.3 488.8,292.5 488.8,292.5 488.9,292.2 489,291.8 489.1,291.1 489.1,290.3 489.2,289.2 489.3,288 489.3,286.6 489.4,285.1 489.5,283.4 489.6,281.5 489.6,279.6 489.7,277.5 489.8,275.3 489.9,273.1 489.9,270.7 490,268.4 490.1,266 490.1,263.6 490.2,261.1 490.3,258.7 490.4,256.4 490.4,254.1 490.5,251.8 490.6,249.7 490.6,247.6 490.7,245.7 490.8,243.8 490.9,242.2 490.9,240.6 491,239.2 491.1,238 491.1,237 491.2,236.1 491.3,235.5 491.4,235 491.4,234.7 491.5,234.6 491.6,234.7 491.7,235 491.7,235.5 491.8,236.2 491.9,237 491.9,238.1 492,239.3 492.1,240.6 492.2,242.1 492.2,243.7 492.3,245.4 492.4,247.3 492.4,249.2 492.5,251.3 492.6,253.3 492.7,255.5 492.7,257.7 492.8,259.9 492.9,262.1 493,264.3 493,266.4 493.1,268.6 493.2,270.6 493.2,272.6 493.3,274.6 493.4,276.4 493.5,278.1 493.5,279.7 493.6,281.2 493.7,282.5 493.7,283.7 493.8,284.7 493.9,285.6 494,286.3 494,286.8 494.1,287.2 494.2,287.4 494.3,287.4 494.3,287.2 494.4,286.9 494.5,286.4 494.5,285.8 494.6,285 494.7,284 494.8,282.9 494.8,281.7 494.9,280.3 495,278.9 495,277.3 495.1,275.7 495.2,274 495.3,272.2 495.3,270.3 495.4,268.5 495.5,266.6 495.5,264.7 495.6,262.8 495.7,260.9 495.8,259 495.8,257.2 495.9,255.4 496,253.7 496.1,252.1 496.1,250.6 496.2,249.1 496.3,247.8 496.3,246.6 496.4,245.5 496.5,244.6 496.6,243.7 496.6,243.1 496.7,242.5 496.8,242.1 496.8,241.9 496.9,241.7 497,241.8 497.1,242 497.1,242.3 497.2,242.7 497.3,243.3 497.4,244.1 497.4,244.9 497.5,245.8 497.6,246.9 497.6,248.1 497.7,249.3 497.8,250.6 497.9,252 497.9,253.5 498,254.9 498.1,256.5 498.1,258 498.2,259.6 498.3,261.2 498.4,262.7 498.4,264.3 498.5,265.8 498.6,267.2 498.7,268.7 498.7,270 498.8,271.3 498.9,272.5 498.9,273.7 499,274.7 499.1,275.6 499.2,276.5 499.2,277.2 499.3,277.8 499.4,278.4 499.4,278.8 499.5,279 499.6,279.2 499.7,279.2 499.7,279.2 499.8,279 499.9,278.7 499.9,278.3 500,277.8 500.1,277.2 500.2,276.5 500.2,275.7 500.3,274.8 500.4,273.9 500.5,272.9 500.5,271.8 500.6,270.7 500.7,269.6 500.7,268.4 500.8,267.2 500.9,266 501,264.7 501,263.5 501.1,262.3 501.2,261.1 501.2,260 501.3,258.8 501.4,257.8 501.5,256.7 501.5,255.8 501.6,254.8 501.7,254 501.8,253.2 501.8,252.5 501.9,251.9 502,251.4 502,250.9 502.1,250.6 502.2,250.3 502.3,250.1 502.3,250 502.4,250 502.5,250.1 502.5,250.3 502.6,250.5 502.7,250.9 502.8,251.3 502.8,251.8 502.9,252.3 503,252.9 503,253.6 503.1,254.3 503.2,255.1 503.3,255.9 503.3,256.7 503.4,257.6 503.5,258.5 503.6,259.3 503.6,260.3 503.7,261.2 503.8,262.1 503.8,262.9 503.9,263.8 504,264.7 504.1,265.5 504.1,266.3 504.2,267 504.3,267.7 504.3,268.3 504.4,268.9 504.5,269.5 504.6,270 504.6,270.4 504.7,270.8 504.8,271.1 504.9,271.3 504.9,271.5 505,271.6 505.1,271.6 505.1,271.6 505.2,271.5 505.3,271.4 505.4,271.2 505.4,270.9 505.5,270.6 505.6,270.2 505.6,269.8 505.7,269.4 505.8,268.9 505.9,268.4 505.9,267.8 506,267.3 506.1,266.7 506.2,266 506.2,265.4 506.3,264.8 506.4,264.1 506.4,263.5 506.5,262.9 506.6,262.3 506.7,261.7 506.7,261.1 506.8,260.5 506.9,260 506.9,259.5 507,259 507.1,258.6 507.2,258.2 507.2,257.8 507.3,257.5 507.4,257.2 507.4,257 507.5,256.8 507.6,256.6 507.7,256.5 507.7,256.5 507.8,256.5 507.9,256.5 508,256.6 508,256.7 508.1,256.8 508.2,257 508.2,257.2 508.3,257.5 508.4,257.8 508.5,258.1 508.5,258.4 508.6,258.8 508.7,259.2 508.7,259.6 508.8,259 508.9,259.5 509,260.1 509,260.7 509.1,261.3 509.2,261.9 509.3,262.4 509.3,263 509.4,263.6 509.5,264.1 509.5,264.6 509.6,265.1 509.7,265.6 509.8,266 509.8,266.5 509.9,266.8 510,267.2 510,267.5 510.1,267.8 510.2,268 510.3,268.2 510.3,268.3 510.4,268.4 510.5,268.5 510.6,268.5 510.6,268.5 510.7,268.4 510.8,268.3 510.8,268.2 510.9,268 511,267.8 511.1,267.6 511.1,267.3 511.2,267 511.3,266.7 511.3,266.3 511.4,266 511.5,265.6 511.6,265.2 511.6,264.8 511.7,264.4 511.8,263.9 511.8,263.5 511.9,263.1 512,262.7 512.1,262.2 512.1,261.8 512.2,261.4 512.3,261.1 512.4,260.7 512.4,260.3 512.5,260 512.6,259.7 512.6,259.4 512.7,259.2 512.8,259 512.9,258.8 512.9,258.6 513,258.5 513.1,258.4 513.1,258.3 513.2,258.2 513.3,258.2 513.4,258.2 513.4,258.3 513.5,258.4 513.6,258.5 513.7,258.6 513.7,258.8 513.8,258.9 513.9,259.1 513.9,259.4 514,259.6 514.1,259.9 514.2,260.1 514.2,260.4 514.3,260.7 514.4,261 514.4,261.3 514.5,261.7 514.6,262 514.7,262.3 514.7,262.6 514.8,262.9 514.9,263.2 514.9,263.5 515,263.8 515.1,264.1 515.2,264.3 515.2,264.6 515.3,264.8 515.4,265 515.5,265.2 515.5,265.4 515.6,265.5 515.7,265.7 515.7,265.8 515.8,265.8 515.9,265.9 516,265.9 516,266 516.1,265.9 516.2,265.9 516.2,265.9 516.3,265.8 516.4,265.7 516.5,265.6 516.5,265.4 516.6,265.3 516.7,265.1 516.8,264.9 516.8,264.7 516.9,264.5 517,264.3 517,264 517.1,263.8 517.2,263.6 517.3,263.3 517.3,263.1 517.4,262.8 517.5,262.6 517.5,262.3 517.6,262.1 517.7,261.8 517.8,261.6 517.8,261.4 517.9,261.2 518,261 518.1,260.8 518.1,260.6 518.2,260.5 518.3,260.3 518.3,260.2 518.4,260.1 518.5,260 518.6,260 518.6,259.9 518.7,259.9 518.8,259.9 518.8,259.9 518.9,259.9 519,260 519.1,260 519.1,260.1 519.2,260.2 519.3,260.3 519.3,260.4 519.4,260.6 519.5,260.7 519.6,260.9 519.6,261.1 519.7,261.2 519.8,261.4 519.9,261.6 519.9,261.8 520,262 520.1,262.3 520.1,262.5 520.2,262.7 520.3,262.9 520.4,263.1 520.4,263.3 520.5,263.5 520.6,263.7 520.6,263.8 520.7,264 520.8,264.2 520.9,264.3 520.9,264.4 521,264.5 521.1,264.7 521.2,264.7 521.2,264.8 521.3,264.9 521.4,264.9 521.4,264.9 521.5,265 521.6,265 521.7,264.9 521.7,264.9 521.8,264.8 521.9,264.8 521.9,264.7 522,264.6 522.1,264.5 522.2,264.4 522.2,264.2 522.3,264.1 522.4,263.9 522.4,263.8 522.5,263.6 522.6,263.4 522.7,263.2 522.7,263.1 522.8,262.9 522.9,262.7 523,262.5 523,262.3 523.1,262.1 523.2,262 523.2,261.8 523.3,261.6 523.4,261.5 523.5,261.3 523.5,261.2 523.6,261 523.7,260.9 523.7,260.8 523.8,260.7 523.9,260.6 524,260.6 524,260.5 524.1,260.5 524.2,260.5 524.3,260.4 524.3,260.4 524.4,260.5 524.5,260.5 524.5,260.6 524.6,260.6 524.7,260.7 524.8,260.8 524.8,260.9 524.9,261 525,261.1 525,261.2 525.1,261.4 525.2,261.5 525.3,261.7 525.3,261.9 525.4,262 525.5,262.2 525.6,262.4 525.6,262.5 525.7,262.7 525.8,262.9 525.8,263.1 525.9,263.2 526,263.4 526.1,263.5 526.1,263.7 526.2,263.8 526.3,264 526.3,264.1 526.4,264.2 526.5,264.3 526.6,264.4 526.6,264.5 526.7,264.5 526.8,264.6 526.8,264.6 526.9,264.6 527,264.7 527.1,264.6 527.1,264.6 527.2,264.6 527.3,264.5 527.4,264.5 527.4,264.4 527.5,264.3 527.6,264.2 527.6,264.1 527.7,264 527.8,263.9 527.9,263.7 527.9,263.6 528,263.4 528.1,263.3 528.1,263.1 528.2,263 528.3,262.8 528.4,262.6 528.4,262.5 528.5,262.3 528.6,262.1 528.7,262 528.7,261.8 528.8,261.7 528.9,261.5 528.9,261.4 529,261.3 529.1,261.1 529.2,261 529.2,260.9 529.3,260.8 529.4,260.8 529.4,260.7 529.5,260.7 529.6,260.6 529.7,260.6 529.7,260.6 529.8,260.6 529.9,260.6 530,260.7 530,260.7 530.1,260.8 530.2,260.8 530.2,260.9 530.3,261 530.4,261.1 530.5,261.2 530.5,261.4 530.6,261.5 530.7,261.6 530.7,261.8 530.8,261.9 530.9,262.1 531,262.3 531,262.4 531.1,262.6 531.2,262.8 531.2,262.9 531.3,263.1 531.4,263.2 531.5,263.4 531.5,263.5 531.6,263.7 531.7,263.8 531.8,263.9 531.8,264.1 531.9,264.2 532,264.3 532,264.3 532.1,264.4 532.2,264.5 532.3,264.5 532.3,264.6 532.4,264.6 532.5,264.6 532.5,264.6 532.6,264.5 532.7,264.5 532.8,264.5 532.8,264.4 532.9,264.3 533,264.2 533.1,264.2 533.1,264 533.2,263.9 533.3,263.8 533.3,263.7 533.4,263.5 533.5,263.4 533.6,263.2 533.6,263.1 533.7,262.9 533.8,262.7 533.8,262.6 533.9,262.4 534,262.3 534.1,262.1 534.1,261.9 534.2,261.8 534.3,261.6 534.3,261.5 534.4,261.4 534.5,261.2 534.6,261.1 534.6,261 534.7,260.9 534.8,260.9 534.9,260.8 534.9,260.7 535,260.7 535.1,260.7 535.1,260.6 535.2,260.6 535.3,260.6 535.4,260.7 535.4,260.7 535.5,260.8 535.6,260.8 535.6,260.9 535.7,261" fill="none" stroke="#ff5858" stroke-width="0.8" stroke-linejoin="round" />
<polyline points="420.4,262.6 420.5,262.6 420.5,262.6 420.6,262.6 420.7,262.6 420.8,262.6 420.8,262.6 420.9,262.6 421,262.6 421,262.6 421.1,262.6 421.2,262.6 421.3,262.6 421.3,262.6 421.4,262.6 421.5,262.6 421.6,262.6 421.6,262.6 421.7,262.6 421.8,262.6 421.8,262.6 421.9,262.6 422,262.6 422.1,262.6 422.1,262.6 422.2,262.6 422.3,262.6 422.3,262.6 422.4,262.6 422.5,262.6 422.6,262.6 422.6,262.6 422.7,262.6 422.8,262.6 422.9,262.6 422.9,262.6 423,262.6 423.1,262.6 423.1,262.6 423.2,262.6 423.3,262.6 423.4,262.6 423.4,262.6 423.5,262.6 423.6,262.6 423.6,262.6 423.7,262.6 423.8,262.6 423.9,262.6 423.9,262.6 424,262.6 424.1,262.6 424.2,262.6 424.2,262.6 424.3,262.6 424.4,262.6 424.4,262.6 424.5,262.6 424.6,262.6 424.7,262.6 424.7,262.6 424.8,262.6 424.9,262.6 424.9,262.6 425,262.6 425.1,262.6 425.2,262.6 425.2,262.6 425.3,262.6 425.4,262.6 425.4,262.6 425.5,262.6 425.6,262.6 425.7,262.6 425.7,262.6 425.8,262.6 425.9,262.6 426,262.6 426,262.6 426.1,262.6 426.2,262.6 426.2,262.6 426.3,262.6 426.4,262.6 426.5,262.6 426.5,262.6 426.6,262.6 426.7,262.6 426.7,262.6 426.8,262.6 426.9,262.6 427,262.6 427,262.6 427.1,262.6 427.2,262.6 427.3,262.6 427.3,262.6 427.4,262.6 427.5,262.6 427.5,262.6 427.6,262.6 427.7,262.6 427.8,262.6 427.8,262.6 427.9,262.6 428,262.6 428,262.6 428.1,262.6 428.2,262.6 428.3,262.6 428.3,262.6 428.4,262.6 428.5,262.6 428.5,262.6 428.6,262.6 428.7,262.6 428.8,262.6 428.8,262.6 428.9,262.6 429,262.6 429.1,262.6 429.1,262.6 429.2,262.6 429.3,262.6 429.3,262.6 429.4,262.6 429.5,262.6 429.6,262.6 429.6,262.6 429.7,262.6 429.8,262.6 429.8,262.6 429.9,262.6 430,262.6 430.1,262.6 430.1,262.6 430.2,262.6 430.3,262.6 430.4,262.6 430.4,262.6 430.5,262.6 430.6,262.6 430.6,262.6 430.7,262.6 430.8,262.6 430.9,262.6 430.9,262.6 431,262.6 431.1,262.6 431.1,262.6 431.2,262.6 431.3,262.6 431.4,262.6 431.4,262.6 431.5,262.6 431.6,262.6 431.7,262.6 431.7,262.6 431.8,262.6 431.9,262.6 431.9,262.6 432,262.6 432.1,262.6 432.2,262.6 432.2,262.6 432.3,262.6 432.4,262.6 432.4,262.6 432.5,262.6 432.6,262.6 432.7,262.6 432.7,262.6 432.8,262.6 432.9,262.6 432.9,262.6 433,262.6 433.1,262.6 433.2,262.6 433.2,262.6 433.3,262.6 433.4,262.6 433.5,262.6 433.5,262.6 433.6,262.6 433.7,262.6 433.7,262.6 433.8,262.6 433.9,262.6 434,262.6 434,262.6 434.1,262.6 434.2,262.6 434.2,262.6 434.3,262.6 434.4,262.6 434.5,262.6 434.5,262.6 434.6,262.6 434.7,262.6 434.8,262.6 434.8,262.6 434.9,262.6 435,262.6 435,262.6 435.1,262.6 435.2,262.6 435.3,262.6 435.3,262.6 435.4,262.6 435.5,262.6 435.5,262.6 435.6,262.6 435.7,262.6 435.8,262.6 435.8,262.6 435.9,262.6 436,262.6 436.1,262.6 436.1,262.6 436.2,262.6 436.3,262.6 436.3,262.6 436.4,262.6 436.5,262.6 436.6,262.6 436.6,262.6 436.7,262.6 436.8,262.6 436.8,262.6 436.9,262.6 437,262.6 437.1,262.6 437.1,262.6 437.2,262.6 437.3,262.6 437.3,262.6 437.4,262.6 437.5,262.6 437.6,262.6 437.6,262.6 437.7,262.6 437.8,262.6 437.9,262.6 437.9,262.6 438,262.6 438.1,262.6 438.1,262.6 438.2,262.6 438.3,262.6 438.4,262.6 438.4,262.6 438.5,262.6 438.6,262.6 438.6,262.6 438.7,262.6 438.8,262.6 438.9,262.6 438.9,262.6 439,262.6 439.1,262.6 439.2,262.6 439.2,262.6 439.3,262.6 439.4,262.6 439.4,262.6 439.5,262.6 439.6,262.6 439.7,262.6 439.7,262.6 439.8,262.6 439.9,262.6 439.9,262.6 440,262.6 440.1,262.6 440.2,262.6 440.2,262.6 440.3,262.6 440.4,262.6 440.4,262.6 440.5,262.6 440.6,262.6 440.7,262.6 440.7,262.6 440.8,262.6 440.9,262.6 441,262.6 441,262.6 441.1,262.6 441.2,262.6 441.2,262.6 441.3,262.6 441.4,262.6 441.5,262.6 441.5,262.6 441.6,262.6 441.7,262.6 441.7,262.6 441.8,262.6 441.9,262.6 442,262.6 442,262.6 442.1,262.6 442.2,262.6 442.3,262.6 442.3,262.6 442.4,262.6 442.5,262.6 442.5,262.6 442.6,262.6 442.7,262.6 442.8,262.6 442.8,262.6 442.9,262.6 443,262.6 443,262.6 443.1,262.6 443.2,262.6 443.3,262.6 443.3,262.6 443.4,262.6 443.5,262.6 443.6,262.6 443.6,262.6 443.7,262.6 443.8,262.6 443.8,262.6 443.9,262.6 444,262.6 444.1,262.6 444.1,262.6 444.2,262.6 444.3,262.6 444.3,262.6 444.4,262.6 444.5,262.6 444.6,262.6 444.6,262.6 444.7,262.6 444.8,262.6 444.8,262.6 444.9,262.6 445,262.6 445.1,262.6 445.1,262.6 445.2,262.6 445.3,262.6 445.4,262.6 445.4,262.6 445.5,262.6 445.6,262.6 445.6,262.6 445.7,262.6 445.8,262.6 445.9,262.6 445.9,262.6 446,262.6 446.1,262.6 446.1,262.6 446.2,262.6 446.3,262.6 446.4,262.6 446.4,262.6 446.5,262.6 446.6,262.6 446.7,262.6 446.7,262.6 446.8,262.6 446.9,262.6 446.9,262.6 447,262.6 447.1,262.6 447.2,262.6 447.2,262.6 447.3,262.6 447.4,262.6 447.4,262.6 447.5,262.6 447.6,262.6 447.7,262.6 447.7,262.6 447.8,262.6 447.9,262.6 447.9,262.6 448,262.6 448.1,262.6 448.2,262.6 448.2,262.6 448.3,262.6 448.4,262.6 448.5,262.6 448.5,262.6 448.6,262.6 448.7,262.6 448.7,262.6 448.8,262.6 448.9,262.6 449,262.6 449,262.6 449.1,262.6 449.2,262.6 449.2,262.6 449.3,262.6 449.4,262.6 449.5,262.6 449.5,262.6 449.6,262.6 449.7,262.6 449.8,262.6 449.8,262.6 449.9,262.6 450,262.6 450,262.6 450.1,262.6 450.2,262.6 450.3,262.6 450.3,262.6 450.4,262.6 450.5,262.6 450.5,262.6 450.6,262.6 450.7,262.6 450.8,262.6 450.8,262.6 450.9,262.6 451,262.6 451.1,262.6 451.1,262.6 451.2,262.6 451.3,262.6 451.3,262.6 451.4,262.6 451.5,262.6 451.6,262.6 451.6,262.6 451.7,262.6 451.8,262.6 451.8,262.6 451.9,262.6 452,262.6 452.1,262.6 452.1,262.6 452.2,262.6 452.3,262.6 452.3,262.6 452.4,262.6 452.5,262.6 452.6,262.6 452.6,262.6 452.7,262.6 452.8,262.6 452.9,262.6 452.9,262.6 453,262.6 453.1,262.6 453.1,262.6 453.2,262.6 453.3,262.6 453.4,262.6 453.4,262.6 453.5,262.6 453.6,262.6 453.6,262.6 453.7,262.6 453.8,262.6 453.9,262.6 453.9,262.6 454,262.6 454.1,262.6 454.2,262.6 454.2,262.6 454.3,262.6 454.4,262.6 454.4,262.6 454.5,262.6 454.6,262.6 454.7,262.6 454.7,262.6 454.8,262.6 454.9,262.6 454.9,262.6 455,262.6 455.1,262.6 455.2,262.6 455.2,262.6 455.3,262.6 455.4,262.6 455.5,262.6 455.5,262.6 455.6,262.6 455.7,262.6 455.7,262.6 455.8,262.6 455.9,262.6 456,262.6 456,262.6 456.1,262.6 456.2,262.6 456.2,262.6 456.3,262.6 456.4,262.6 456.5,262.6 456.5,262.6 456.6,262.6 456.7,262.6 456.7,262.6 456.8,262.6 456.9,262.6 457,262.6 457,262.6 457.1,262.6 457.2,262.5 457.3,262.5 457.3,262.5 457.4,262.5 457.5,262.5 457.5,262.5 457.6,262.5 457.7,262.5 457.8,262.5 457.8,262.4 457.9,262.4 458,262.4 458,262.4 458.1,262.4 458.2,262.5 458.3,262.5 458.3,262.5 458.4,262.5 458.5,262.5 458.6,262.5 458.6,262.5 458.7,262.6 458.8,262.6 458.8,262.6 458.9,262.6 459,262.7 459.1,262.7 459.1,262.8 459.2,262.8 459.3,262.9 459.3,262.9 459.4,263 459.5,263 459.6,263.1 459.6,263.1 459.7,263.2 459.8,263.2 459.8,263.3 459.9,263.3 460,263.4 460.1,263.4 460.1,263.5 460.2,263.5 460.3,263.5 460.4,263.6 460.4,263.6 460.5,263.6 460.6,263.7 460.6,263.7 460.7,263.7 460.8,263.7 460.9,263.7 460.9,263.7 461,263.7 461.1,263.7 461.1,263.7 461.2,263.7 461.3,263.7 461.4,263.7 461.4,263.6 461.5,263.6 461.6,263.6 461.7,263.5 461.7,263.4 461.8,263.4 461.9,263.3 461.9,263.3 462,263.2 462.1,263.1 462.2,263 462.2,262.9 462.3,262.8 462.4,262.7 462.4,262.6 462.5,262.6 462.6,262.5 462.7,262.4 462.7,262.3 462.8,262.2 462.9,262.2 463,262.1 463,262 463.1,261.9 463.2,261.8 463.2,261.8 463.3,261.7 463.4,261.6 463.5,261.5 463.5,261.5 463.6,261.4 463.7,261.3 463.7,261.3 463.8,261.2 463.9,261.2 464,261.1 464,261.1 464.1,261.1 464.2,261 464.2,261 464.3,261 464.4,261 464.5,261 464.5,261 464.6,261 464.7,261 464.8,261 464.8,261.1 464.9,261.1 465,261.1 465,261.2 465.1,261.3 465.2,261.3 465.3,261.4 465.3,261.5 465.4,261.6 465.5,261.6 465.5,261.7 465.6,261.8 465.7,261.9 465.8,262 465.8,262.2 465.9,262.3 466,262.4 466.1,262.5 466.1,262.6 466.2,262.8 466.3,263 466.3,263.2 466.4,263.3 466.5,263.5 466.6,263.7 466.6,263.8 466.7,264 466.8,264.2 466.8,264.3 466.9,264.5 467,264.6 467.1,264.8 467.1,264.9 467.2,265.1 467.3,265.2 467.4,265.3 467.4,265.4 467.5,265.5 467.6,265.6 467.6,265.6 467.7,265.7 467.8,265.8 467.9,265.8 467.9,265.8 468,265.8 468.1,265.8 468.1,265.8 468.2,265.8 468.3,265.8 468.4,265.7 468.4,265.7 468.5,265.6 468.6,265.5 468.6,265.4 468.7,265.3 468.8,265.1 468.9,265 468.9,264.9 469,264.7 469.1,264.5 469.2,264.3 469.2,264.1 469.3,263.9 469.4,263.7 469.4,263.5 469.5,263.3 469.6,263.1 469.7,262.9 469.7,262.6 469.8,262.4 469.9,262.3 469.9,262.1 470,261.9 470.1,261.7 470.2,261.6 470.2,261.4 470.3,261.2 470.4,261.1 470.5,260.9 470.5,260.7 470.6,260.6 470.7,260.5 470.7,260.3 470.8,260.2 470.9,260.1 471,260 471,259.9 471.1,259.8 471.2,259.7 471.2,259.6 471.3,259.5 471.4,259.5 471.5,259.5 471.5,259.4 471.6,259.4 471.7,259.4 471.7,259.4 471.8,259.5 471.9,259.5 472,259.5 472,259.6 472.1,259.7 472.2,259.8 472.3,259.9 472.3,260 472.4,260.1 472.5,260.2 472.5,260.4 472.6,260.5 472.7,260.7 472.8,260.9 472.8,261.1 472.9,261.2 473,261.4 473,261.6 473.1,261.8 473.2,262.1 473.3,262.3 473.3,262.5 473.4,262.8 473.5,263.1 473.6,263.4 473.6,263.7 473.7,264 473.8,264.3 473.8,264.6 473.9,264.9 474,265.1 474.1,265.4 474.1,265.7 474.2,265.9 474.3,266.2 474.3,266.4 474.4,266.6 474.5,266.8 474.6,267 474.6,267.2 474.7,267.4 474.8,267.5 474.9,267.6 474.9,267.7 475,267.8 475.1,267.9 475.1,267.9 475.2,268 475.3,268 475.4,267.9 475.4,267.9 475.5,267.8 475.6,267.8 475.6,267.7 475.7,267.5 475.8,267.4 475.9,267.2 475.9,267.1 476,266.9 476.1,266.6 476.1,266.4 476.2,266.1 476.3,265.9 476.4,265.6 476.4,265.3 476.5,265 476.6,264.7 476.7,264.3 476.7,264 476.8,263.6 476.9,263.3 476.9,262.9 477,262.6 477.1,262.3 477.2,262 477.2,261.7 477.3,261.5 477.4,261.2 477.4,260.9 477.5,260.7 477.6,260.4 477.7,260.2 477.7,259.9 477.8,259.7 477.9,259.5 478,259.3 478,259.1 478.1,258.9 478.2,258.7 478.2,258.5 478.3,258.4 478.4,258.2 478.5,258.1 478.5,258 478.6,257.9 478.7,257.8 478.7,257.8 478.8,257.8 478.9,257.7 479,257.7 479,257.8 479.1,257.8 479.2,257.9 479.2,257.9 479.3,258 479.4,258.2 479.5,258.3 479.5,258.5 479.6,258.6 479.7,258.8 479.8,259 479.8,259.3 479.9,259.5 480,259.7 480,260 480.1,260.3 480.2,260.6 480.3,260.9 480.3,261.2 480.4,261.5 480.5,261.9 480.5,262.2 480.6,262.5 480.7,263 480.8,263.4 480.8,263.9 480.9,264.4 481,264.8 481.1,265.3 481.1,265.7 481.2,266.2 481.3,266.6 481.3,267.1 481.4,267.5 481.5,267.9 481.6,268.2 481.6,268.6 481.7,268.9 481.8,269.2 481.8,269.5 481.9,269.8 482,270 482.1,270.3 482.1,270.4 482.2,270.6 482.3,270.7 482.4,270.8 482.4,270.9 482.5,270.9 482.6,270.9 482.6,270.9 482.7,270.8 482.8,270.7 482.9,270.6 482.9,270.4 483,270.2 483.1,270 483.1,269.7 483.2,269.4 483.3,269.1 483.4,268.8 483.4,268.4 483.5,268 483.6,267.6 483.6,267.1 483.7,266.7 483.8,266.2 483.9,265.7 483.9,265.1 484,264.6 484.1,264.1 484.2,263.5 484.2,262.9 484.3,262.4 484.4,262 484.4,261.6 484.5,261.1 484.6,260.7 484.7,260.3 484.7,259.9 484.8,259.5 484.9,259.1 484.9,258.7 485,258.3 485.1,258 485.2,257.6 485.2,257.3 485.3,257 485.4,256.7 485.5,256.5 485.5,256.2 485.6,256 485.7,255.8 485.7,255.6 485.8,255.5 485.9,255.4 486,255.3 486,255.2 486.1,255.1 486.2,255.1 486.2,255.2 486.3,255.2 486.4,255.3 486.5,255.4 486.5,255.5 486.6,255.7 486.7,255.9 486.8,256.1 486.8,256.3 486.9,256.6 487,256.9 487,257.3 487.1,257.6 487.2,258 487.3,258.4 487.3,258.8 487.4,259.2 487.5,259.7 487.5,260.1 487.6,260.6 487.7,261.1 487.8,261.6 487.8,262.1 487.9,262.6 488,263.3 488,264 488.1,264.7 488.2,265.4 488.3,266.1 488.3,266.8 488.4,267.5 488.5,268.2 488.6,268.8 488.6,269.4 488.7,270.1 488.8,270.6 488.8,271.2 488.9,271.7 489,272.2 489.1,272.7 489.1,273.1 489.2,273.5 489.3,273.8 489.3,274.1 489.4,274.4 489.5,274.6 489.6,274.7 489.6,274.9 489.7,274.9 489.8,275 489.9,275 489.9,274.9 490,274.8 490.1,274.6 490.1,274.4 490.2,274.1 490.3,273.8 490.4,273.5 490.4,273.1 490.5,272.6 490.6,272.1 490.6,271.6 490.7,271 490.8,270.4 490.9,269.8 490.9,269.1 491,268.4 491.1,267.7 491.1,266.9 491.2,266.1 491.3,265.3 491.4,264.5 491.4,263.7 491.5,262.9 491.6,262.2 491.7,261.5 491.7,260.9 491.8,260.3 491.9,259.7 491.9,259.1 492,258.5 492.1,257.9 492.2,257.3 492.2,256.8 492.3,256.2 492.4,255.7 492.4,255.2 492.5,254.7 492.6,254.3 492.7,253.9 492.7,253.5 492.8,253.2 492.9,252.9 493,252.6 493,252.3 493.1,252.2 493.2,252 493.2,251.9 493.3,251.8 493.4,251.8 493.5,251.8 493.5,251.8 493.6,251.9 493.7,252.1 493.7,252.2 493.8,252.5 493.9,252.7 494,253 494,253.4 494.1,253.7 494.2,254.2 494.3,254.6 494.3,255.1 494.4,255.6 494.5,256.2 494.5,256.7 494.6,257.3 494.7,258 494.8,258.6 494.8,259.3 494.9,260 495,260.7 495,261.4 495.1,262.1 495.2,262.9 495.3,263.9 495.3,264.9 495.4,265.9 495.5,266.8 495.5,267.8 495.6,268.8 495.7,269.7 495.8,270.6 495.8,271.5 495.9,272.3 496,273.2 496.1,273.9 496.1,274.7 496.2,275.4 496.3,276 496.3,276.7 496.4,277.2 496.5,277.7 496.6,278.1 496.6,278.5 496.7,278.9 496.8,279.1 496.8,279.3 496.9,279.5 497,279.5 497.1,279.5 497.1,279.5 497.2,279.3 497.3,279.1 497.4,278.9 497.4,278.6 497.5,278.2 497.6,277.7 497.6,277.2 497.7,276.6 497.8,276 497.9,275.3 497.9,274.6 498,273.8 498.1,272.9 498.1,272 498.2,271.1 498.3,270.2 498.4,269.2 498.4,268.1 498.5,267.1 498.6,266 498.7,264.9 498.7,263.8 498.8,262.7 498.9,261.8 498.9,261 499,260.1 499.1,259.3 499.2,258.5 499.2,257.7 499.3,256.9 499.4,256.1 499.4,255.4 499.5,254.7 499.6,254 499.7,253.3 499.7,252.7 499.8,252.1 499.9,251.6 499.9,251.1 500,250.6 500.1,250.2 500.2,249.9 500.2,249.5 500.3,249.3 500.4,249.1 500.5,248.9 500.5,248.8 500.6,248.7 500.7,248.7 500.7,248.8 500.8,248.9 500.9,249 501,249.3 501,249.5 501.1,249.8 501.2,250.2 501.2,250.6 501.3,251.1 501.4,251.6 501.5,252.1 501.5,252.7 501.6,253.4 501.7,254 501.8,254.8 501.8,255.5 501.9,256.3 502,257.1 502,257.9 502.1,258.7 502.2,259.6 502.3,260.5 502.3,261.3 502.4,262.2 502.5,263.3 502.5,264.5 502.6,265.7 502.7,266.9 502.8,268.1 502.8,269.2 502.9,270.4 503,271.5 503,272.6 503.1,273.6 503.2,274.6 503.3,275.6 503.3,276.5 503.4,277.3 503.5,278.2 503.6,278.9 503.6,279.6 503.7,280.2 503.8,280.7 503.8,281.2 503.9,281.6 504,282 504.1,282.2 504.1,282.4 504.2,282.5 504.3,282.6 504.3,282.5 504.4,282.4 504.5,282.2 504.6,281.9 504.6,281.6 504.7,281.1 504.8,280.6 504.9,280.1 504.9,279.4 505,278.7 505.1,277.9 505.1,277.1 505.2,276.2 505.3,275.3 505.4,274.3 505.4,273.2 505.5,272.1 505.6,271 505.6,269.8 505.7,268.6 505.8,267.4 505.9,266.1 505.9,264.9 506,263.6 506.1,262.4 506.2,261.5 506.2,260.5 506.3,259.6 506.4,258.6 506.4,257.7 506.5,256.8 506.6,255.9 506.7,255.1 506.7,254.3 506.8,253.5 506.9,252.7 506.9,252 507,251.3 507.1,250.6 507.2,250 507.2,249.5 507.3,249 507.4,248.5 507.4,248.1 507.5,247.8 507.6,247.5 507.7,247.3 507.7,247.1 507.8,247 507.9,247 508,247 508,247.1 508.1,247.2 508.2,247.4 508.2,247.7 508.3,248 508.4,248.3 508.5,248.8 508.5,249.3 508.6,249.8 508.7,250.4 508.7,251 508.8,251.7 508.9,252.4 509,253.2 509,254 509.1,254.8 509.2,255.7 509.3,256.6 509.3,257.5 509.4,258.5 509.5,259.5 509.5,260.4 509.6,261.4 509.7,262.4 509.8,263.7 509.8,265.1 509.9,266.4 510,267.8 510,269.1 510.1,270.4 510.2,271.7 510.3,272.9 510.3,274.1 510.4,275.3 510.5,276.4 510.6,277.4 510.6,278.4 510.7,279.4 510.8,280.2 510.8,281.1 510.9,281.8 511,282.5 511.1,283.1 511.1,283.6 511.2,284 511.3,284.4 511.3,284.6 511.4,284.8 511.5,284.9 511.6,284.9 511.6,284.8 511.7,284.7 511.8,284.4 511.8,284.1 511.9,283.7 512,283.2 512.1,282.6 512.1,281.9 512.2,281.2 512.3,280.4 512.4,279.5 512.4,278.5 512.5,277.5 512.6,276.4 512.6,275.3 512.7,274.1 512.8,272.9 512.9,271.6 512.9,270.3 513,269 513.1,267.6 513.1,266.2 513.2,264.8 513.3,263.4 513.4,262.1 513.4,261 513.5,260 513.6,258.9 513.7,257.9 513.7,256.9 513.8,255.9 513.9,254.9 513.9,254 514,253.1 514.1,252.2 514.2,251.4 514.2,250.6 514.3,249.8 514.4,249.1 514.4,248.5 514.5,247.9 514.6,247.3 514.7,246.8 514.7,246.4 514.8,246 514.9,245.8 514.9,245.5 515,245.4 515.1,245.3 515.2,245.2 515.2,245.3 515.3,245.4 515.4,245.5 515.5,245.8 515.5,246.1 515.6,246.4 515.7,246.9 515.7,247.4 515.8,247.9 515.9,248.5 516,249.2 516,249.9 516.1,250.7 516.2,251.5 516.2,252.4 516.3,253.3 516.4,254.2 516.5,255.2 516.5,256.2 516.6,257.3 516.7,258.3 516.8,259.4 516.8,260.5 516.9,261.6 517,262.8 517,264.3 517.1,265.8 517.2,267.3 517.3,268.8 517.3,270.2 517.4,271.7 517.5,273.1 517.5,274.5 517.6,275.8 517.7,277.1 517.8,278.3 517.8,279.5 517.9,280.6 518,281.7 518.1,282.7 518.1,283.6 518.2,284.4 518.3,285.1 518.3,285.8 518.4,286.4 518.5,286.8 518.6,287.2 518.6,287.5 518.7,287.7 518.8,287.8 518.8,287.8 518.9,287.7 519,287.5 519.1,287.2 519.1,286.8 519.2,286.3 519.3,285.7 519.3,285.1 519.4,284.3 519.5,283.4 519.6,282.5 519.6,281.5 519.7,280.4 519.8,279.2 519.9,278 519.9,276.7 520,275.4 520.1,273.9 520.1,272.5 520.2,271 520.3,269.4 520.4,267.9 520.4,266.3 520.5,264.7 520.6,263 520.6,261.7 520.7,260.5 520.8,259.3 520.9,258.1 520.9,256.9 521,255.8 521.1,254.6 521.2,253.5 521.2,252.4 521.3,251.4 521.4,250.4 521.4,249.4 521.5,248.5 521.6,247.7 521.7,246.9 521.7,246.1 521.8,245.4 521.9,244.8 521.9,244.3 522,243.8 522.1,243.4 522.2,243.1 522.2,242.8 522.3,242.6 522.4,242.5 522.4,242.5 522.5,242.5 522.6,242.7 522.7,242.9 522.7,243.2 522.8,243.5 522.9,244 523,244.5 523,245.1 523.1,245.7 523.2,246.5 523.2,247.2 523.3,248.1 523.4,249 523.5,250 523.5,251 523.6,252 523.7,253.2 523.7,254.3 523.8,255.5 523.9,256.7 524,257.9 524,259.2 524.1,260.5 524.2,261.8 524.3,263.2 524.3,265 524.4,266.8 524.5,268.5 524.5,270.2 524.6,271.9 524.7,273.6 524.8,275.2 524.8,276.8 524.9,278.4 525,279.8 525,281.3 525.1,282.6 525.2,283.9 525.3,285.1 525.3,286.2 525.4,287.2 525.5,288.1 525.6,288.9 525.6,289.7 525.7,290.3 525.8,290.8 525.8,291.2 525.9,291.5 526,291.7 526.1,291.8 526.1,291.8 526.2,291.6 526.3,291.3 526.3,291 526.4,290.5 526.5,289.9 526.6,289.2 526.6,288.4 526.7,287.4 526.8,286.4 526.8,285.3 526.9,284.1 527,282.8 527.1,281.5 527.1,280 527.2,278.5 527.3,276.9 527.4,275.3 527.4,273.6 527.5,271.8 527.6,270 527.6,268.2 527.7,266.3 527.8,264.5 527.9,262.6 527.9,261.2 528,259.8 528.1,258.4 528.1,257.1 528.2,255.7 528.3,254.4 528.4,253.1 528.4,251.8 528.5,250.6 528.6,249.4 528.7,248.3 528.7,247.2 528.8,246.1 528.9,245.2 528.9,244.3 529,243.5 529.1,242.7 529.2,242 529.2,241.4 529.3,240.9 529.4,240.4 529.4,240.1 529.5,239.8 529.6,239.6 529.7,239.6 529.7,239.6 529.8,239.6 529.9,239.8 530,240.1 530,240.4 530.1,240.9 530.2,241.4 530.2,242 530.3,242.7 530.4,243.5 530.5,244.3 530.5,245.3 530.6,246.3 530.7,247.3 530.7,248.4 530.8,249.6 530.9,250.9 531,252.1 531,253.5 531.1,254.8 531.2,256.2 531.2,257.7 531.3,259.1 531.4,260.6 531.5,262.1 531.5,263.9 531.6,265.9 531.7,267.9 531.8,269.9 531.8,271.8 531.9,273.7 532,275.6 532,277.4 532.1,279.2 532.2,280.9 532.3,282.5 532.3,284.1 532.4,285.6 532.5,286.9 532.5,288.2 532.6,289.4 532.7,290.5 532.8,291.5 532.8,292.3 532.9,293.1 533,293.7 533.1,294.2 533.1,294.6 533.2,294.8 533.3,295 533.3,292.9 533.4,290.8 533.5,288.7 533.6,286.6 533.6,284.5 533.7,282.4 533.8,280.3 533.8,278.3 533.9,276.2 534,274.1 534.1,272 534.1,269.9 534.2,267.8 534.3,265.7 534.3,263.6 534.4,261.5 534.5,259.4 534.6,257.3 534.6,255.3 534.7,253.2 534.8,251.1 534.9,249 534.9,246.9 535,244.8 535.1,242.7 535.1,240.6 535.2,238.5 535.3,236.4 535.4,234.3 535.4,232.3 535.5,230.2 535.6,228.1 535.6,226 535.7,223.9" fill="none" stroke="#5050ff" stroke-width="0.8" stroke-linejoin="round" />
<rect x="420.6" y="225.1" width="39.2" height="14.3" fill="#ffffff" stroke="#333" stroke-width="0.5" />
<line x1="424.5" y1="229.8" x2="433" y2="229.8" stroke="#ff5858" stroke-width="1.4" />
<text x="436" y="231.6" font-size="4.9" font-family="'Liberation Sans','Noto Sans CJK SC',sans-serif" text-anchor="start" fill="#333" >air</text>
<line x1="424.5" y1="235.8" x2="433" y2="235.8" stroke="#5050ff" stroke-width="1.4" />
<text x="436" y="237.6" font-size="4.9" font-family="'Liberation Sans','Noto Sans CJK SC',sans-serif" fill="#333" textLength="22.3" lengthAdjust="spacingAndGlyphs">underwate</text>
</svg>
</body></html>
